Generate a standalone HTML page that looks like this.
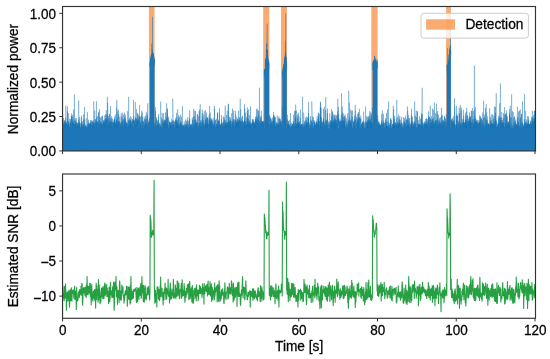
<!DOCTYPE html>
<html><head><meta charset="utf-8"><title>Detection</title>
<style>
html,body{margin:0;padding:0;background:#fff;}
svg{display:block;filter:blur(0.35px)}
text{font-family:"Liberation Sans",sans-serif;fill:#000;stroke:#000;stroke-width:0.25px}
</style></head><body>
<svg width="550" height="359" viewBox="0 0 550 359">
<rect width="550" height="359" fill="#fff"/>
<defs>
<clipPath id="c1"><rect x="62.55" y="6.5" width="472.95" height="144.45"/></clipPath>
<clipPath id="c2"><rect x="62.55" y="174.0" width="472.95" height="144.30"/></clipPath>
</defs>

<g clip-path="url(#c1)">
<rect x="148.9" y="6.5" width="5.60" height="144.45" fill="#f7781a" fill-opacity="0.62"/>
<rect x="263.2" y="6.5" width="6.10" height="144.45" fill="#f7781a" fill-opacity="0.62"/>
<rect x="281.0" y="6.5" width="5.90" height="144.45" fill="#f7781a" fill-opacity="0.62"/>
<rect x="371.3" y="6.5" width="6.30" height="144.45" fill="#f7781a" fill-opacity="0.62"/>
<rect x="446.1" y="6.5" width="4.90" height="144.45" fill="#f7781a" fill-opacity="0.62"/>
<polyline points="62.52,132.8 62.55,141.4 62.57,134.1 62.59,126.8 62.61,122.6 62.64,141.3 62.66,114.2 62.68,133.0 62.71,148.2 62.73,129.1 63.29,126.3 63.32,123.6 63.34,124.4 63.36,135.6 63.38,143.2 63.41,141.7 63.43,146.1 63.45,139.5 63.48,130.8 63.50,140.2 63.52,123.5 63.55,127.2 63.57,143.5 63.59,117.9 63.61,121.2 63.64,140.5 63.66,141.6 63.68,141.4 63.71,139.3 63.73,134.8 64.29,134.8 64.32,122.0 64.34,120.0 64.36,125.2 64.38,150.3 64.41,127.9 64.43,124.0 64.45,120.9 64.48,129.8 64.50,127.9 64.52,124.3 64.55,143.0 64.57,141.0 64.59,139.3 64.61,130.5 64.64,150.0 64.66,121.0 64.68,131.9 64.71,135.7 64.73,138.9 65.29,123.8 65.32,141.8 65.34,121.8 65.36,127.1 65.38,127.6 65.41,127.5 65.43,138.8 65.45,124.1 65.48,135.1 65.50,140.8 65.52,130.0 65.55,138.1 65.57,140.6 65.59,123.5 65.61,130.4 65.64,122.4 65.66,126.2 65.68,117.9 65.71,150.3 65.73,105.6 66.29,130.6 66.32,124.3 66.34,139.9 66.36,147.8 66.38,122.9 66.41,135.2 66.43,145.2 66.45,140.1 66.48,138.8 66.50,123.6 66.52,125.2 66.55,129.0 66.57,135.5 66.59,126.6 66.61,140.7 66.64,136.2 66.66,136.1 66.68,123.6 66.71,122.8 66.73,126.9 67.29,120.8 67.32,147.6 67.34,142.3 67.36,147.0 67.38,123.7 67.41,148.3 67.43,106.3 67.45,123.3 67.48,111.3 67.50,121.9 67.52,143.4 67.55,150.1 67.57,125.9 67.59,146.7 67.61,146.8 67.64,125.8 67.66,138.7 67.68,141.3 67.71,128.0 67.73,148.5 68.29,128.4 68.32,133.9 68.34,127.3 68.36,135.4 68.38,113.0 68.41,136.3 68.43,134.4 68.45,123.5 68.48,126.5 68.50,146.5 68.52,121.0 68.55,134.4 68.57,142.6 68.59,146.4 68.61,144.3 68.64,122.4 68.66,126.2 68.68,123.2 68.71,126.0 68.73,123.4 69.29,132.2 69.32,141.6 69.34,125.5 69.36,126.9 69.38,131.1 69.41,128.4 69.43,129.6 69.45,140.0 69.48,138.1 69.50,137.3 69.52,148.9 69.55,133.8 69.57,127.0 69.59,132.7 69.61,126.5 69.64,146.4 69.66,118.7 69.68,127.6 69.71,143.2 69.73,136.6 70.29,122.7 70.32,129.3 70.34,142.8 70.36,131.0 70.38,149.4 70.41,138.5 70.43,122.4 70.45,123.2 70.48,128.3 70.50,119.0 70.52,122.7 70.55,144.2 70.57,131.4 70.59,120.9 70.61,146.7 70.64,148.8 70.66,142.3 70.68,133.8 70.71,123.3 70.73,134.3 71.29,143.2 71.32,134.5 71.34,147.6 71.36,123.0 71.38,115.7 71.41,124.3 71.43,140.8 71.45,131.2 71.48,147.2 71.50,116.4 71.52,145.5 71.55,142.8 71.57,146.1 71.59,139.0 71.61,141.5 71.64,119.1 71.66,113.3 71.68,119.9 71.71,127.1 71.73,126.5 72.29,126.0 72.32,137.5 72.34,117.1 72.36,150.5 72.38,127.3 72.41,132.6 72.43,119.4 72.45,128.3 72.48,142.0 72.50,149.4 72.52,137.0 72.55,147.0 72.57,146.1 72.59,122.4 72.61,134.0 72.64,122.1 72.66,149.3 72.68,129.7 72.71,145.4 72.73,115.1 73.29,126.1 73.31,124.7 73.34,121.1 73.36,137.4 73.38,148.3 73.41,127.9 73.43,128.6 73.45,129.6 73.48,123.1 73.50,136.3 73.52,145.0 73.54,123.8 73.57,142.8 73.59,138.0 73.61,144.7 73.64,109.5 73.66,137.8 73.68,130.7 73.71,147.7 73.73,144.9 74.29,128.4 74.31,129.5 74.34,131.8 74.36,150.2 74.38,127.4 74.41,94.5 74.43,148.7 74.45,124.0 74.48,136.6 74.50,132.4 74.52,128.3 74.54,128.6 74.57,129.2 74.59,148.1 74.61,119.7 74.64,128.0 74.66,127.8 74.68,140.4 74.71,139.6 74.73,123.9 75.29,123.8 75.31,132.0 75.34,125.2 75.36,126.9 75.38,123.8 75.41,140.2 75.43,120.9 75.45,150.1 75.48,149.3 75.50,124.8 75.52,121.3 75.54,139.9 75.57,128.5 75.59,127.7 75.61,124.5 75.64,118.1 75.66,148.0 75.68,125.3 75.71,126.4 75.73,139.6 76.29,138.0 76.31,125.6 76.34,127.4 76.36,139.8 76.38,125.2 76.41,138.2 76.43,118.2 76.45,150.6 76.48,135.6 76.50,150.1 76.52,139.9 76.54,128.1 76.57,122.7 76.59,147.6 76.61,142.1 76.64,122.8 76.66,123.9 76.68,133.2 76.71,132.5 76.73,131.5 77.29,125.9 77.31,122.9 77.34,135.7 77.36,139.3 77.38,133.4 77.41,149.4 77.43,150.3 77.45,131.6 77.48,135.2 77.50,124.9 77.52,141.6 77.54,125.5 77.57,145.4 77.59,129.7 77.61,146.3 77.64,145.4 77.66,125.1 77.68,124.8 77.71,122.6 77.73,130.4 78.29,134.4 78.31,123.0 78.34,132.4 78.36,130.5 78.38,124.3 78.41,130.1 78.43,142.4 78.45,127.7 78.48,128.9 78.50,145.6 78.52,138.7 78.54,123.5 78.57,142.6 78.59,143.6 78.61,138.4 78.64,124.7 78.66,100.5 78.68,131.6 78.71,119.5 78.73,125.7 79.29,139.1 79.31,143.6 79.34,146.9 79.36,126.3 79.38,132.9 79.41,123.5 79.43,137.2 79.45,116.8 79.48,146.3 79.50,122.0 79.52,129.1 79.54,128.4 79.57,133.4 79.59,149.2 79.61,121.7 79.64,149.0 79.66,144.6 79.68,134.1 79.71,127.5 79.73,123.3 80.29,125.2 80.31,125.7 80.34,123.1 80.36,139.6 80.38,127.3 80.41,128.5 80.43,136.1 80.45,131.5 80.48,129.4 80.50,129.8 80.52,128.6 80.54,132.9 80.57,128.4 80.59,141.5 80.61,139.3 80.64,150.9 80.66,126.4 80.68,149.3 80.71,141.6 80.73,127.3 81.29,123.6 81.31,117.6 81.34,144.0 81.36,139.8 81.38,123.9 81.41,150.8 81.43,126.2 81.45,130.7 81.48,140.7 81.50,147.5 81.52,122.1 81.54,128.6 81.57,137.3 81.59,115.5 81.61,127.7 81.64,138.6 81.66,135.9 81.68,129.8 81.71,141.6 81.73,150.9 82.29,146.7 82.31,142.3 82.34,145.6 82.36,140.6 82.38,129.5 82.41,125.6 82.43,137.5 82.45,127.3 82.48,139.8 82.50,149.8 82.52,124.1 82.54,150.4 82.57,127.8 82.59,150.4 82.61,121.4 82.64,136.4 82.66,142.3 82.68,139.2 82.71,124.5 82.73,142.5 83.29,136.3 83.31,129.9 83.34,137.9 83.36,127.3 83.38,125.8 83.41,146.6 83.43,135.5 83.45,127.6 83.47,146.4 83.50,124.8 83.52,136.3 83.54,138.8 83.57,119.3 83.59,150.7 83.61,114.3 83.64,147.0 83.66,146.1 83.68,128.4 83.70,142.9 83.73,132.2 84.29,135.9 84.31,123.0 84.34,140.8 84.36,142.4 84.38,150.3 84.41,119.8 84.43,146.3 84.45,132.3 84.47,143.0 84.50,107.0 84.52,145.1 84.54,128.8 84.57,129.5 84.59,131.0 84.61,127.5 84.64,146.2 84.66,134.0 84.68,142.9 84.70,143.2 84.73,143.9 85.29,145.2 85.31,145.4 85.34,145.0 85.36,141.1 85.38,141.6 85.41,125.4 85.43,150.5 85.45,127.0 85.47,142.6 85.50,124.7 85.52,133.6 85.54,135.0 85.57,148.3 85.59,126.3 85.61,146.6 85.64,126.6 85.66,137.6 85.68,137.6 85.70,149.9 85.73,144.4 86.29,118.2 86.31,126.8 86.34,140.1 86.36,136.5 86.38,139.0 86.41,137.3 86.43,132.2 86.45,132.4 86.47,129.5 86.50,126.2 86.52,128.6 86.54,129.3 86.57,129.2 86.59,146.7 86.61,128.8 86.64,132.6 86.66,126.0 86.68,146.5 86.70,150.9 86.73,134.4 87.29,128.0 87.31,128.0 87.34,131.7 87.36,148.8 87.38,135.0 87.41,112.1 87.43,149.2 87.45,127.2 87.47,131.5 87.50,124.0 87.52,128.2 87.54,141.1 87.57,140.6 87.59,131.6 87.61,144.5 87.64,139.5 87.66,127.9 87.68,148.8 87.70,128.2 87.73,127.8 88.29,147.2 88.31,139.6 88.34,119.8 88.36,132.5 88.38,143.1 88.41,150.8 88.43,121.7 88.45,146.0 88.47,127.9 88.50,140.4 88.52,124.6 88.54,149.6 88.57,123.7 88.59,147.9 88.61,146.2 88.64,133.0 88.66,127.3 88.68,141.9 88.70,124.4 88.73,129.0 89.29,126.7 89.31,123.4 89.34,124.6 89.36,148.0 89.38,139.5 89.41,129.1 89.43,123.5 89.45,127.2 89.47,138.7 89.50,137.8 89.52,135.2 89.54,138.8 89.57,149.8 89.59,138.2 89.61,138.0 89.64,126.5 89.66,123.8 89.68,123.9 89.70,140.2 89.73,128.3 90.29,147.9 90.31,146.5 90.34,126.7 90.36,125.0 90.38,126.7 90.41,123.8 90.43,137.5 90.45,121.9 90.47,128.3 90.50,123.5 90.52,134.4 90.54,120.1 90.57,149.4 90.59,125.6 90.61,125.7 90.64,134.6 90.66,125.2 90.68,141.2 90.70,127.8 90.73,126.7 91.29,137.4 91.31,128.1 91.34,134.0 91.36,149.1 91.38,135.2 91.41,122.4 91.43,134.9 91.45,140.8 91.47,145.4 91.50,124.4 91.52,138.5 91.54,138.3 91.57,121.6 91.59,127.3 91.61,120.2 91.64,142.2 91.66,139.6 91.68,135.0 91.70,133.8 91.73,130.5 92.29,129.8 92.31,150.4 92.34,131.3 92.36,131.8 92.38,128.3 92.41,129.3 92.43,120.8 92.45,133.7 92.47,130.4 92.50,123.7 92.52,129.6 92.54,148.0 92.57,127.0 92.59,121.9 92.61,123.3 92.64,126.4 92.66,125.1 92.68,148.3 92.70,138.7 92.73,124.2 93.29,130.9 93.31,139.3 93.34,139.9 93.36,125.9 93.38,121.8 93.41,132.2 93.43,123.2 93.45,124.0 93.47,138.1 93.50,132.9 93.52,123.5 93.54,125.7 93.57,137.7 93.59,128.2 93.61,139.6 93.63,127.9 93.66,140.0 93.68,119.9 93.70,133.5 93.73,101.4 94.29,148.2 94.31,143.5 94.34,122.4 94.36,128.0 94.38,148.8 94.40,136.4 94.43,125.5 94.45,142.0 94.47,131.2 94.50,143.4 94.52,122.9 94.54,130.7 94.57,144.1 94.59,130.1 94.61,125.3 94.63,131.1 94.66,144.5 94.68,126.1 94.70,110.5 94.73,139.2 95.29,149.3 95.31,128.1 95.34,137.2 95.36,126.4 95.38,135.9 95.40,140.7 95.43,141.4 95.45,127.5 95.47,125.8 95.50,119.7 95.52,125.8 95.54,122.8 95.57,126.2 95.59,119.1 95.61,139.9 95.63,123.0 95.66,133.4 95.68,146.5 95.70,128.4 95.73,132.3 96.29,134.9 96.31,121.3 96.34,126.4 96.36,142.1 96.38,129.2 96.40,137.9 96.43,101.2 96.45,139.5 96.47,139.1 96.50,143.3 96.52,117.2 96.54,139.1 96.57,123.9 96.59,148.9 96.61,121.3 96.63,125.6 96.66,137.3 96.68,143.3 96.70,136.1 96.73,137.4 97.29,127.9 97.31,121.2 97.34,126.1 97.36,124.9 97.38,115.9 97.40,128.6 97.43,134.3 97.45,150.8 97.47,148.2 97.50,122.2 97.52,139.8 97.54,138.7 97.57,140.2 97.59,134.4 97.61,129.8 97.63,126.8 97.66,149.5 97.68,136.8 97.70,127.7 97.73,144.4 98.29,142.1 98.31,123.4 98.34,129.3 98.36,149.4 98.38,124.3 98.40,126.0 98.43,125.7 98.45,146.3 98.47,139.5 98.50,134.0 98.52,121.6 98.54,129.3 98.57,128.8 98.59,112.6 98.61,126.1 98.63,123.9 98.66,129.8 98.68,133.2 98.70,111.6 98.73,122.5 99.29,126.2 99.31,140.7 99.34,144.5 99.36,116.7 99.38,122.2 99.40,131.2 99.43,133.9 99.45,134.7 99.47,125.4 99.50,124.9 99.52,126.4 99.54,133.3 99.57,130.0 99.59,109.1 99.61,138.4 99.63,127.5 99.66,145.1 99.68,120.1 99.70,150.7 99.73,126.7 100.29,145.4 100.31,135.9 100.34,142.5 100.36,126.4 100.38,125.1 100.40,124.8 100.43,121.4 100.45,122.5 100.47,125.6 100.50,146.4 100.52,123.0 100.54,147.9 100.57,126.3 100.59,117.4 100.61,124.8 100.63,150.2 100.66,127.4 100.68,122.1 100.70,137.8 100.73,125.6 101.29,135.8 101.31,129.0 101.34,123.7 101.36,132.9 101.38,124.2 101.40,124.7 101.43,126.3 101.45,147.3 101.47,146.2 101.50,122.5 101.52,128.6 101.54,144.2 101.57,124.8 101.59,138.5 101.61,132.4 101.63,127.0 101.66,136.2 101.68,117.0 101.70,118.8 101.73,127.2 102.29,150.0 102.31,115.9 102.34,140.0 102.36,138.6 102.38,115.6 102.40,138.5 102.43,148.4 102.45,128.7 102.47,139.4 102.50,135.4 102.52,133.2 102.54,124.5 102.57,145.1 102.59,124.1 102.61,150.3 102.63,136.7 102.66,129.9 102.68,126.0 102.70,130.3 102.73,130.6 103.29,146.2 103.31,126.2 103.34,130.5 103.36,122.3 103.38,123.2 103.40,149.2 103.43,144.3 103.45,131.8 103.47,126.8 103.50,122.4 103.52,127.4 103.54,120.0 103.57,148.8 103.59,132.8 103.61,132.5 103.63,129.9 103.66,122.2 103.68,122.2 103.70,126.9 103.73,121.2 104.29,131.1 104.31,121.8 104.33,126.5 104.36,134.3 104.38,123.4 104.40,119.5 104.43,147.1 104.45,148.2 104.47,124.6 104.50,149.1 104.52,120.9 104.54,126.8 104.56,143.7 104.59,126.4 104.61,126.4 104.63,143.7 104.66,127.9 104.68,123.3 104.70,131.1 104.73,115.3 105.29,148.8 105.31,123.9 105.33,121.3 105.36,125.7 105.38,140.0 105.40,124.5 105.43,132.3 105.45,141.8 105.47,138.8 105.50,118.7 105.52,130.6 105.54,129.7 105.56,147.0 105.59,125.3 105.61,125.2 105.63,118.6 105.66,119.6 105.68,131.9 105.70,114.1 105.73,123.9 106.29,122.5 106.31,120.7 106.33,110.2 106.36,140.5 106.38,123.2 106.40,127.0 106.43,150.4 106.45,114.6 106.47,125.9 106.50,143.9 106.52,130.3 106.54,146.7 106.56,119.1 106.59,123.6 106.61,119.7 106.63,122.7 106.66,119.7 106.68,122.0 106.70,147.1 106.73,120.6 107.29,125.4 107.31,128.8 107.33,124.7 107.36,127.4 107.38,96.7 107.40,140.9 107.43,129.8 107.45,144.4 107.47,149.5 107.50,115.3 107.52,124.3 107.54,129.7 107.56,143.5 107.59,129.2 107.61,135.4 107.63,131.6 107.66,102.7 107.68,143.5 107.70,120.1 107.73,125.8 108.29,134.4 108.31,132.1 108.33,135.2 108.36,129.6 108.38,124.3 108.40,116.2 108.43,130.0 108.45,137.8 108.47,123.9 108.50,129.1 108.52,126.7 108.54,127.3 108.56,134.5 108.59,117.9 108.61,129.9 108.63,123.1 108.66,147.6 108.68,144.0 108.70,147.5 108.73,150.4 109.29,123.1 109.31,121.4 109.33,135.8 109.36,128.5 109.38,119.7 109.40,114.0 109.43,136.4 109.45,128.5 109.47,113.9 109.50,132.0 109.52,136.7 109.54,124.6 109.56,141.7 109.59,146.4 109.61,127.5 109.63,127.4 109.66,121.5 109.68,128.9 109.70,129.3 109.73,130.2 110.29,143.3 110.31,123.1 110.33,133.7 110.36,118.3 110.38,138.6 110.40,126.9 110.43,132.0 110.45,137.9 110.47,150.7 110.50,121.3 110.52,125.2 110.54,144.6 110.56,106.0 110.59,126.7 110.61,120.8 110.63,144.7 110.66,122.9 110.68,143.4 110.70,123.2 110.73,143.0 111.29,121.9 111.31,150.5 111.33,139.2 111.36,129.4 111.38,136.8 111.40,146.1 111.43,123.7 111.45,128.7 111.47,125.4 111.50,130.9 111.52,122.1 111.54,130.7 111.56,148.3 111.59,116.2 111.61,134.8 111.63,143.4 111.66,125.6 111.68,123.3 111.70,118.5 111.73,126.6 112.29,132.7 112.31,118.4 112.33,142.4 112.36,145.3 112.38,128.8 112.40,131.4 112.43,136.1 112.45,126.3 112.47,140.0 112.50,124.2 112.52,138.0 112.54,135.9 112.56,141.2 112.59,141.6 112.61,126.2 112.63,144.9 112.66,122.5 112.68,124.8 112.70,122.1 112.73,136.7 113.29,144.4 113.31,124.2 113.33,120.6 113.36,124.4 113.38,124.9 113.40,126.9 113.43,141.4 113.45,125.9 113.47,122.4 113.50,123.8 113.52,144.4 113.54,123.2 113.56,125.5 113.59,130.2 113.61,139.1 113.63,126.9 113.66,147.5 113.68,123.1 113.70,148.2 113.72,125.5 114.29,133.4 114.31,129.7 114.33,145.8 114.36,119.1 114.38,123.2 114.40,138.0 114.43,120.2 114.45,127.8 114.47,139.9 114.49,119.0 114.52,126.0 114.54,124.0 114.56,116.5 114.59,141.0 114.61,135.1 114.63,122.2 114.66,119.5 114.68,132.7 114.70,132.4 114.72,145.9 115.29,127.0 115.31,137.3 115.33,147.4 115.36,121.9 115.38,146.7 115.40,123.9 115.43,143.1 115.45,114.4 115.47,138.0 115.49,139.8 115.52,149.9 115.54,127.0 115.56,139.8 115.59,147.1 115.61,128.2 115.63,122.3 115.66,147.1 115.68,124.0 115.70,131.4 115.72,136.3 116.29,145.4 116.31,133.5 116.33,128.7 116.36,131.6 116.38,123.7 116.40,147.6 116.43,125.7 116.45,136.0 116.47,127.8 116.49,141.7 116.52,141.0 116.54,119.6 116.56,146.8 116.59,148.1 116.61,107.9 116.63,128.9 116.66,119.9 116.68,140.6 116.70,125.3 116.72,100.0 117.29,126.6 117.31,147.2 117.33,140.5 117.36,140.6 117.38,122.2 117.40,147.4 117.43,117.0 117.45,123.4 117.47,134.2 117.49,121.7 117.52,136.8 117.54,134.7 117.56,128.2 117.59,132.0 117.61,126.5 117.63,131.1 117.66,111.3 117.68,121.7 117.70,128.4 117.72,135.0 118.29,122.5 118.31,128.8 118.33,123.5 118.36,128.6 118.38,146.6 118.40,142.1 118.43,109.8 118.45,140.1 118.47,140.4 118.49,148.8 118.52,142.1 118.54,121.3 118.56,133.1 118.59,139.4 118.61,135.9 118.63,135.3 118.66,136.8 118.68,114.0 118.70,150.7 118.72,123.2 119.29,127.1 119.31,122.7 119.33,142.3 119.36,134.0 119.38,142.7 119.40,121.1 119.43,124.1 119.45,125.7 119.47,129.0 119.49,129.2 119.52,139.3 119.54,128.7 119.56,146.2 119.59,123.9 119.61,121.5 119.63,140.1 119.66,130.0 119.68,148.9 119.70,116.7 119.72,139.4 120.29,126.7 120.31,141.5 120.33,142.1 120.36,141.1 120.38,122.5 120.40,127.8 120.43,137.3 120.45,130.0 120.47,149.8 120.49,147.7 120.52,135.4 120.54,138.7 120.56,134.6 120.59,126.5 120.61,123.6 120.63,131.8 120.66,125.5 120.68,132.3 120.70,143.7 120.72,146.0 121.29,113.2 121.31,136.8 121.33,116.7 121.36,149.7 121.38,137.4 121.40,122.5 121.43,122.9 121.45,136.9 121.47,139.9 121.49,123.8 121.52,131.5 121.54,125.9 121.56,125.3 121.59,149.4 121.61,150.5 121.63,129.7 121.66,126.0 121.68,131.8 121.70,150.1 121.72,134.5 122.29,118.2 122.31,137.6 122.33,147.7 122.36,126.1 122.38,128.1 122.40,141.5 122.43,126.4 122.45,137.3 122.47,120.7 122.49,123.6 122.52,121.4 122.54,137.1 122.56,124.6 122.59,146.3 122.61,150.7 122.63,149.5 122.66,125.9 122.68,112.6 122.70,125.9 122.72,145.4 123.29,143.8 123.31,114.9 123.33,146.2 123.36,143.1 123.38,148.6 123.40,141.9 123.43,143.3 123.45,144.1 123.47,126.8 123.49,119.3 123.52,142.2 123.54,127.5 123.56,127.0 123.59,131.1 123.61,132.8 123.63,148.0 123.66,148.7 123.68,123.9 123.70,138.0 123.72,148.9 124.29,121.8 124.31,123.4 124.33,125.7 124.36,132.2 124.38,124.2 124.40,119.8 124.42,142.4 124.45,128.3 124.47,142.5 124.49,138.5 124.52,120.8 124.54,112.6 124.56,149.5 124.59,119.3 124.61,147.0 124.63,146.8 124.65,129.2 124.68,128.0 124.70,117.0 124.72,126.9 125.29,136.2 125.31,127.3 125.33,136.4 125.36,114.6 125.38,133.3 125.40,127.4 125.42,124.0 125.45,140.7 125.47,129.3 125.49,145.5 125.52,129.8 125.54,123.9 125.56,118.3 125.59,150.5 125.61,137.3 125.63,120.8 125.65,136.6 125.68,126.7 125.70,133.3 125.72,146.7 126.29,143.0 126.31,129.5 126.33,146.4 126.36,121.4 126.38,144.0 126.40,137.5 126.42,126.7 126.45,124.2 126.47,127.9 126.49,123.3 126.52,127.4 126.54,125.8 126.56,143.2 126.59,124.0 126.61,146.9 126.63,148.1 126.65,123.0 126.68,127.8 126.70,145.0 126.72,123.0 127.29,133.5 127.31,149.3 127.33,140.9 127.36,137.2 127.38,123.1 127.40,133.7 127.42,136.1 127.45,141.0 127.47,147.1 127.49,141.2 127.52,127.0 127.54,140.0 127.56,127.0 127.59,143.5 127.61,147.6 127.63,121.6 127.65,110.9 127.68,130.1 127.70,146.4 127.72,142.0 128.29,126.4 128.31,140.1 128.33,119.8 128.36,147.0 128.38,132.5 128.40,147.2 128.42,131.3 128.45,124.9 128.47,150.3 128.49,150.4 128.52,138.7 128.54,121.6 128.56,120.4 128.59,138.3 128.61,140.1 128.63,129.2 128.65,133.2 128.68,96.8 128.70,131.4 128.72,126.9 129.29,132.5 129.31,121.4 129.33,122.8 129.36,131.5 129.38,131.8 129.40,129.8 129.42,133.0 129.45,146.6 129.47,124.6 129.49,138.7 129.52,125.5 129.54,134.2 129.56,138.8 129.59,138.9 129.61,118.2 129.63,143.3 129.65,123.6 129.68,121.5 129.70,119.7 129.72,146.9 130.29,129.4 130.31,125.7 130.33,116.2 130.36,142.2 130.38,125.4 130.40,150.3 130.42,123.7 130.45,121.5 130.47,142.4 130.49,119.3 130.52,124.2 130.54,124.2 130.56,127.0 130.59,150.5 130.61,120.4 130.63,127.3 130.65,123.3 130.68,146.4 130.70,121.6 130.72,122.4 131.29,150.1 131.31,127.1 131.33,123.2 131.36,124.0 131.38,144.7 131.40,127.6 131.42,144.7 131.45,142.5 131.47,127.4 131.49,144.8 131.52,131.2 131.54,122.4 131.56,121.2 131.59,130.8 131.61,141.4 131.63,125.9 131.65,125.0 131.68,117.2 131.70,148.0 131.72,131.5 132.29,147.2 132.31,125.4 132.33,142.1 132.36,146.1 132.38,129.3 132.40,121.3 132.42,124.6 132.45,144.2 132.47,123.7 132.49,119.0 132.52,137.7 132.54,123.3 132.56,134.7 132.59,144.6 132.61,137.2 132.63,133.6 132.65,127.2 132.68,120.2 132.70,140.5 132.72,142.6 133.29,142.5 133.31,137.4 133.33,143.3 133.36,126.7 133.38,141.1 133.40,135.5 133.42,125.5 133.45,120.8 133.47,123.6 133.49,100.0 133.52,124.2 133.54,120.2 133.56,133.4 133.59,135.0 133.61,147.5 133.63,134.6 133.65,126.0 133.68,145.7 133.70,116.2 133.72,126.6 134.29,130.4 134.31,119.7 134.33,129.2 134.36,144.3 134.38,127.8 134.40,135.6 134.42,133.2 134.45,120.4 134.47,133.3 134.49,121.0 134.52,123.0 134.54,124.9 134.56,134.8 134.58,121.3 134.61,125.6 134.63,147.6 134.65,123.7 134.68,136.7 134.70,127.3 134.72,130.9 135.29,125.5 135.31,123.9 135.33,102.1 135.35,115.7 135.38,126.6 135.40,123.5 135.42,140.0 135.45,127.1 135.47,129.1 135.49,140.2 135.52,123.5 135.54,130.3 135.56,119.9 135.58,117.6 135.61,144.5 135.63,124.1 135.65,123.0 135.68,117.9 135.70,147.4 135.72,138.8 136.29,118.8 136.31,131.3 136.33,125.6 136.35,134.0 136.38,143.4 136.40,139.0 136.42,132.3 136.45,133.2 136.47,127.9 136.49,147.3 136.52,118.8 136.54,133.0 136.56,124.7 136.58,108.9 136.61,125.1 136.63,120.0 136.65,134.8 136.68,144.1 136.70,127.7 136.72,139.0 137.29,125.8 137.31,122.3 137.33,135.5 137.35,120.9 137.38,120.2 137.40,126.9 137.42,117.8 137.45,121.8 137.47,137.9 137.49,134.8 137.52,136.9 137.54,130.6 137.56,113.1 137.58,125.5 137.61,120.4 137.63,123.2 137.65,134.6 137.68,147.4 137.70,149.6 137.72,113.7 138.29,123.1 138.31,129.1 138.33,132.7 138.35,147.9 138.38,120.6 138.40,126.6 138.42,129.9 138.45,134.9 138.47,121.8 138.49,121.5 138.52,118.4 138.54,122.2 138.56,136.3 138.58,132.8 138.61,128.5 138.63,115.3 138.65,125.5 138.68,143.6 138.70,149.6 138.72,119.7 139.29,120.5 139.31,134.6 139.33,143.4 139.35,133.6 139.38,125.2 139.40,134.5 139.42,134.7 139.45,131.3 139.47,147.1 139.49,105.1 139.52,124.6 139.54,115.8 139.56,121.1 139.58,120.5 139.61,125.1 139.63,123.6 139.65,121.0 139.68,146.6 139.70,119.2 139.72,117.0 140.29,138.4 140.31,146.9 140.33,123.2 140.35,125.4 140.38,138.8 140.40,124.4 140.42,144.5 140.45,127.3 140.47,122.6 140.49,116.5 140.52,130.8 140.54,122.0 140.56,132.0 140.58,130.1 140.61,145.1 140.63,138.2 140.65,136.2 140.68,149.8 140.70,145.0 140.72,124.9 141.29,131.2 141.31,125.7 141.33,144.8 141.35,129.3 141.38,121.7 141.40,125.0 141.42,125.4 141.45,139.7 141.47,139.0 141.49,148.0 141.52,130.6 141.54,141.2 141.56,145.7 141.58,125.1 141.61,125.5 141.63,115.4 141.65,146.9 141.68,126.2 141.70,110.4 141.72,124.5 142.29,125.9 142.31,147.0 142.33,112.3 142.35,122.8 142.38,132.5 142.40,142.2 142.42,136.9 142.45,142.7 142.47,126.5 142.49,129.0 142.52,138.7 142.54,139.9 142.56,124.8 142.58,120.8 142.61,124.1 142.63,121.2 142.65,117.0 142.68,125.7 142.70,128.6 142.72,122.0 143.29,126.7 143.31,120.9 143.33,120.8 143.35,131.7 143.38,127.8 143.40,122.7 143.42,132.8 143.45,145.5 143.47,140.1 143.49,132.3 143.52,145.5 143.54,140.4 143.56,147.9 143.58,140.5 143.61,137.9 143.63,126.0 143.65,146.8 143.68,122.3 143.70,122.0 143.72,123.1 144.29,122.2 144.31,116.8 144.33,136.9 144.35,147.5 144.38,139.3 144.40,125.8 144.42,134.7 144.45,133.8 144.47,119.0 144.49,122.3 144.52,126.0 144.54,140.8 144.56,124.2 144.58,146.9 144.61,124.9 144.63,128.1 144.65,138.2 144.68,139.6 144.70,126.2 144.72,150.1 145.28,133.2 145.31,132.6 145.33,120.3 145.35,134.2 145.38,140.3 145.40,125.9 145.42,121.8 145.45,140.2 145.47,131.8 145.49,127.3 145.51,124.4 145.54,124.5 145.56,129.3 145.58,127.0 145.61,115.8 145.63,137.2 145.65,127.2 145.68,118.7 145.70,136.1 145.72,124.9 146.28,131.5 146.31,125.4 146.33,111.8 146.35,143.1 146.38,146.9 146.40,126.1 146.42,126.1 146.45,126.3 146.47,123.6 146.49,133.6 146.51,136.7 146.54,143.1 146.56,131.5 146.58,118.8 146.61,121.5 146.63,133.6 146.65,150.2 146.68,125.9 146.70,139.3 146.72,134.7 147.28,114.1 147.31,125.3 147.33,123.4 147.35,130.1 147.38,125.9 147.40,116.3 147.42,127.1 147.45,134.7 147.47,123.7 147.49,145.5 147.51,125.7 147.54,147.5 147.56,128.0 147.58,128.8 147.61,125.9 147.63,131.3 147.65,141.2 147.68,122.3 147.70,103.3 147.72,141.5 148.28,133.4 148.31,136.2 148.33,144.9 148.35,139.8 148.38,128.6 148.40,140.7 148.42,150.5 148.45,127.8 148.47,122.3 148.49,124.1 148.51,122.7 148.54,124.5 148.56,148.6 148.58,120.5 148.61,123.6 148.63,147.5 148.65,122.4 148.68,127.1 148.70,127.5 148.72,136.1 149.28,142.6 149.31,136.0 149.33,144.4 149.35,124.5 149.38,133.0 149.40,125.1 149.42,124.9 149.45,139.7 149.47,118.5 149.49,125.9 149.51,129.7 149.54,133.6 149.56,121.9 149.58,140.1 149.61,124.4 149.63,128.9 149.65,118.2 149.68,143.6 149.70,61.8 149.72,65.2 150.28,66.3 150.31,64.6 150.33,67.6 150.35,65.3 150.38,64.8 150.40,59.4 150.42,58.9 150.45,59.6 150.47,62.1 150.49,66.3 150.51,59.7 150.54,61.5 150.56,58.1 150.58,61.3 150.61,65.6 150.63,60.5 150.65,64.4 150.68,56.2 150.70,64.8 150.72,60.5 151.28,63.5 151.31,58.8 151.33,64.0 151.35,54.0 151.38,57.3 151.40,55.1 151.42,59.8 151.45,60.1 151.47,59.2 151.49,63.1 151.51,55.8 151.54,57.3 151.56,56.3 151.58,59.5 151.61,62.0 151.63,55.3 151.65,53.3 151.68,43.6 151.70,57.6 151.72,59.0 152.28,59.1 152.31,53.1 152.33,55.1 152.35,49.8 152.38,53.6 152.40,58.1 152.42,56.8 152.45,51.9 152.47,16.8 152.49,51.8 152.51,52.6 152.54,51.4 152.56,53.7 152.58,55.1 152.61,55.2 152.63,58.1 152.65,59.1 152.68,52.3 152.70,54.3 152.72,55.6 153.28,53.5 153.31,61.3 153.33,56.1 153.35,53.7 153.38,56.8 153.40,53.8 153.42,62.1 153.45,53.5 153.47,60.7 153.49,56.6 153.51,54.1 153.54,58.6 153.56,61.7 153.58,54.6 153.61,62.4 153.63,57.8 153.65,59.4 153.68,60.4 153.70,57.9 153.72,56.6 154.28,56.5 154.31,58.6 154.33,58.4 154.35,66.7 154.38,63.4 154.40,61.7 154.42,62.8 154.45,58.4 154.47,58.8 154.49,63.5 154.51,59.3 154.54,139.9 154.56,125.9 154.58,130.4 154.61,143.8 154.63,123.1 154.65,138.6 154.68,141.0 154.70,134.2 154.72,134.7 155.28,123.2 155.31,142.0 155.33,145.0 155.35,128.2 155.38,136.9 155.40,130.1 155.42,142.0 155.44,107.2 155.47,139.8 155.49,145.4 155.51,111.2 155.54,131.1 155.56,149.7 155.58,126.8 155.61,142.4 155.63,124.8 155.65,148.9 155.67,141.1 155.70,137.5 155.72,120.9 156.28,148.5 156.31,136.0 156.33,145.0 156.35,127.3 156.38,146.2 156.40,143.4 156.42,128.5 156.44,127.2 156.47,125.1 156.49,118.7 156.51,124.0 156.54,123.9 156.56,117.2 156.58,130.2 156.61,125.0 156.63,131.2 156.65,124.8 156.67,125.2 156.70,144.2 156.72,150.3 157.28,148.8 157.31,123.5 157.33,140.8 157.35,150.4 157.38,124.4 157.40,135.5 157.42,137.5 157.44,121.3 157.47,141.7 157.49,147.6 157.51,124.2 157.54,129.5 157.56,142.7 157.58,145.4 157.61,128.9 157.63,120.1 157.65,134.1 157.67,138.8 157.70,143.1 157.72,132.8 158.28,135.2 158.31,122.7 158.33,131.1 158.35,129.0 158.38,137.9 158.40,132.4 158.42,130.4 158.44,146.3 158.47,116.5 158.49,136.8 158.51,131.9 158.54,133.0 158.56,127.7 158.58,134.3 158.61,140.6 158.63,114.1 158.65,128.2 158.67,131.5 158.70,139.9 158.72,125.1 159.28,144.3 159.31,125.6 159.33,122.6 159.35,141.0 159.38,132.4 159.40,149.2 159.42,150.7 159.44,126.5 159.47,149.5 159.49,148.0 159.51,124.1 159.54,145.7 159.56,147.9 159.58,150.5 159.61,144.9 159.63,123.9 159.65,126.9 159.67,137.3 159.70,128.3 159.72,134.2 160.28,140.3 160.31,125.7 160.33,130.0 160.35,150.0 160.38,127.1 160.40,127.1 160.42,131.1 160.44,149.9 160.47,137.4 160.49,146.3 160.51,125.4 160.54,134.7 160.56,127.2 160.58,134.1 160.61,124.7 160.63,124.4 160.65,125.3 160.67,101.6 160.70,132.5 160.72,144.3 161.28,147.4 161.31,133.7 161.33,135.4 161.35,140.7 161.38,141.2 161.40,139.6 161.42,129.3 161.44,124.6 161.47,148.1 161.49,137.5 161.51,131.5 161.54,148.6 161.56,134.1 161.58,127.0 161.61,132.4 161.63,117.5 161.65,124.5 161.67,122.7 161.70,122.8 161.72,145.3 162.28,112.9 162.31,127.5 162.33,143.1 162.35,141.2 162.38,128.5 162.40,126.1 162.42,123.6 162.44,130.3 162.47,124.4 162.49,119.1 162.51,125.7 162.54,129.8 162.56,142.6 162.58,130.8 162.61,139.7 162.63,137.3 162.65,135.9 162.67,134.2 162.70,122.8 162.72,120.1 163.28,122.4 163.31,143.3 163.33,142.5 163.35,148.1 163.38,121.1 163.40,131.1 163.42,124.5 163.44,140.6 163.47,129.1 163.49,144.9 163.51,136.6 163.54,128.2 163.56,135.0 163.58,126.5 163.61,130.5 163.63,121.9 163.65,113.1 163.67,125.0 163.70,129.6 163.72,125.9 164.28,138.7 164.31,127.3 164.33,119.6 164.35,146.8 164.38,122.0 164.40,136.6 164.42,123.6 164.44,127.6 164.47,126.9 164.49,136.0 164.51,120.5 164.54,143.6 164.56,146.8 164.58,143.0 164.61,122.0 164.63,127.6 164.65,123.7 164.67,124.4 164.70,133.1 164.72,120.5 165.28,143.7 165.31,132.7 165.33,120.6 165.35,120.4 165.38,142.6 165.40,132.6 165.42,124.8 165.44,137.0 165.47,123.5 165.49,125.8 165.51,119.9 165.54,129.4 165.56,112.3 165.58,123.9 165.60,145.8 165.63,133.3 165.65,140.7 165.67,146.2 165.70,147.1 165.72,122.3 166.28,145.3 166.31,117.0 166.33,124.3 166.35,135.4 166.37,118.6 166.40,121.4 166.42,131.5 166.44,144.0 166.47,124.6 166.49,124.0 166.51,126.8 166.54,143.2 166.56,148.1 166.58,138.8 166.60,103.4 166.63,148.4 166.65,143.7 166.67,125.8 166.70,130.2 166.72,139.1 167.28,143.8 167.31,123.3 167.33,133.6 167.35,150.9 167.37,109.5 167.40,134.0 167.42,108.3 167.44,132.4 167.47,139.8 167.49,113.6 167.51,146.1 167.54,145.8 167.56,124.3 167.58,130.3 167.60,134.5 167.63,127.2 167.65,128.6 167.67,146.6 167.70,141.3 167.72,133.0 168.28,118.4 168.31,122.3 168.33,137.5 168.35,139.9 168.37,147.9 168.40,129.3 168.42,146.1 168.44,134.4 168.47,137.1 168.49,125.3 168.51,133.0 168.54,133.3 168.56,140.4 168.58,126.4 168.60,120.9 168.63,116.6 168.65,127.0 168.67,138.6 168.70,149.2 168.72,133.7 169.28,144.5 169.31,120.8 169.33,148.2 169.35,149.9 169.37,144.2 169.40,148.0 169.42,122.0 169.44,123.3 169.47,147.1 169.49,141.7 169.51,126.0 169.54,126.8 169.56,143.0 169.58,122.5 169.60,144.8 169.63,127.1 169.65,146.8 169.67,124.7 169.70,137.0 169.72,138.6 170.28,142.0 170.31,146.5 170.33,123.7 170.35,133.0 170.37,122.0 170.40,148.6 170.42,142.2 170.44,146.2 170.47,134.4 170.49,138.7 170.51,130.2 170.54,123.6 170.56,135.7 170.58,136.2 170.60,127.4 170.63,124.7 170.65,149.1 170.67,150.7 170.70,122.2 170.72,136.3 171.28,126.4 171.31,133.1 171.33,131.3 171.35,128.4 171.37,127.6 171.40,118.7 171.42,119.4 171.44,131.0 171.47,138.4 171.49,135.3 171.51,127.8 171.54,142.9 171.56,122.8 171.58,128.7 171.60,128.8 171.63,122.2 171.65,134.9 171.67,145.7 171.70,138.2 171.72,135.4 172.28,132.5 172.31,136.3 172.33,125.3 172.35,132.8 172.37,133.3 172.40,126.3 172.42,136.1 172.44,125.7 172.47,127.1 172.49,125.5 172.51,148.3 172.54,125.2 172.56,124.8 172.58,120.2 172.60,127.6 172.63,134.3 172.65,121.0 172.67,140.3 172.70,132.9 172.72,98.7 173.28,122.1 173.31,148.5 173.33,139.9 173.35,143.8 173.37,124.3 173.40,140.0 173.42,128.8 173.44,124.7 173.47,133.6 173.49,131.1 173.51,132.0 173.54,123.1 173.56,120.6 173.58,149.6 173.60,134.7 173.63,134.2 173.65,128.1 173.67,133.9 173.70,145.3 173.72,142.5 174.28,124.7 174.31,126.1 174.33,124.4 174.35,122.0 174.37,122.5 174.40,136.4 174.42,121.2 174.44,144.8 174.47,139.6 174.49,128.1 174.51,141.7 174.54,127.4 174.56,149.3 174.58,149.3 174.60,146.3 174.63,140.8 174.65,130.5 174.67,133.9 174.70,144.1 174.72,133.4 175.28,126.4 175.31,132.9 175.33,130.2 175.35,135.3 175.37,125.2 175.40,137.2 175.42,120.2 175.44,136.0 175.47,118.4 175.49,123.4 175.51,149.3 175.54,120.3 175.56,124.0 175.58,125.2 175.60,137.7 175.63,122.3 175.65,127.5 175.67,150.0 175.70,136.9 175.72,136.1 176.28,142.6 176.30,117.2 176.33,147.1 176.35,139.5 176.37,147.5 176.40,142.5 176.42,121.8 176.44,121.1 176.47,135.3 176.49,150.2 176.51,125.7 176.53,120.2 176.56,130.3 176.58,112.8 176.60,131.4 176.63,126.1 176.65,142.9 176.67,122.1 176.70,132.8 176.72,122.1 177.28,132.9 177.30,135.3 177.33,128.2 177.35,141.7 177.37,143.0 177.40,123.2 177.42,146.5 177.44,123.7 177.47,133.3 177.49,125.1 177.51,136.2 177.53,119.9 177.56,129.7 177.58,127.5 177.60,125.4 177.63,137.4 177.65,109.2 177.67,127.0 177.70,122.1 177.72,150.9 178.28,125.0 178.30,146.6 178.33,128.8 178.35,125.3 178.37,150.0 178.40,144.6 178.42,138.4 178.44,138.9 178.47,137.7 178.49,125.6 178.51,115.3 178.53,142.9 178.56,123.4 178.58,118.0 178.60,131.0 178.63,141.4 178.65,125.6 178.67,124.3 178.70,145.8 178.72,142.0 179.28,127.8 179.30,142.6 179.33,147.0 179.35,138.5 179.37,139.5 179.40,150.6 179.42,125.8 179.44,144.5 179.47,127.3 179.49,148.4 179.51,122.3 179.53,116.7 179.56,143.6 179.58,123.2 179.60,147.3 179.63,149.5 179.65,142.9 179.67,150.1 179.70,149.5 179.72,135.3 180.28,146.1 180.30,134.4 180.33,114.7 180.35,123.5 180.37,127.9 180.40,125.6 180.42,129.0 180.44,142.0 180.47,121.3 180.49,126.1 180.51,138.7 180.53,123.4 180.56,128.6 180.58,133.0 180.60,148.7 180.63,150.4 180.65,125.0 180.67,126.3 180.70,143.4 180.72,130.5 181.28,121.3 181.30,143.2 181.33,123.4 181.35,142.2 181.37,127.0 181.40,124.5 181.42,116.6 181.44,125.9 181.47,137.9 181.49,150.9 181.51,138.3 181.53,136.9 181.56,124.7 181.58,124.4 181.60,131.5 181.63,137.2 181.65,136.7 181.67,148.9 181.70,141.5 181.72,146.5 182.28,125.7 182.30,144.4 182.33,127.5 182.35,149.4 182.37,142.7 182.40,126.0 182.42,105.8 182.44,147.8 182.47,144.5 182.49,150.2 182.51,124.9 182.53,124.7 182.56,130.2 182.58,142.2 182.60,143.9 182.63,125.8 182.65,136.3 182.67,135.0 182.70,136.5 182.72,144.2 183.28,126.9 183.30,129.2 183.33,139.4 183.35,141.8 183.37,134.9 183.40,129.0 183.42,125.8 183.44,127.3 183.47,142.6 183.49,131.4 183.51,125.6 183.53,142.2 183.56,126.6 183.58,146.3 183.60,132.5 183.63,127.3 183.65,128.5 183.67,124.6 183.70,128.1 183.72,149.5 184.28,121.6 184.30,129.9 184.33,126.0 184.35,130.0 184.37,140.5 184.40,129.2 184.42,124.0 184.44,144.2 184.47,148.6 184.49,141.4 184.51,135.7 184.53,128.9 184.56,146.6 184.58,136.4 184.60,144.4 184.63,126.8 184.65,139.5 184.67,134.2 184.70,140.7 184.72,137.0 185.28,124.9 185.30,143.6 185.33,138.6 185.35,133.8 185.37,132.3 185.40,128.4 185.42,130.9 185.44,144.9 185.47,148.8 185.49,125.9 185.51,150.4 185.53,127.4 185.56,147.7 185.58,135.8 185.60,124.0 185.63,147.0 185.65,134.8 185.67,119.4 185.70,149.8 185.72,134.4 186.28,129.0 186.30,120.8 186.33,142.4 186.35,128.7 186.37,147.6 186.40,126.6 186.42,138.4 186.44,125.7 186.46,135.0 186.49,149.7 186.51,142.2 186.53,126.4 186.56,122.3 186.58,148.9 186.60,130.8 186.63,141.9 186.65,141.1 186.67,138.3 186.69,133.7 186.72,128.7 187.28,126.9 187.30,131.1 187.33,129.4 187.35,125.8 187.37,142.4 187.40,117.5 187.42,127.8 187.44,124.0 187.46,142.0 187.49,133.3 187.51,135.4 187.53,136.6 187.56,134.0 187.58,127.4 187.60,129.5 187.63,131.3 187.65,149.8 187.67,129.7 187.69,120.1 187.72,138.9 188.28,145.4 188.30,131.5 188.33,150.5 188.35,142.5 188.37,141.0 188.40,127.8 188.42,149.3 188.44,143.9 188.46,128.2 188.49,142.9 188.51,124.0 188.53,148.8 188.56,134.7 188.58,125.1 188.60,143.5 188.63,141.1 188.65,133.9 188.67,121.2 188.69,122.0 188.72,131.6 189.28,145.5 189.30,135.0 189.33,144.6 189.35,117.4 189.37,130.8 189.40,131.3 189.42,140.4 189.44,127.5 189.46,149.0 189.49,128.1 189.51,132.8 189.53,136.4 189.56,134.1 189.58,129.3 189.60,110.4 189.63,128.9 189.65,140.0 189.67,125.2 189.69,119.1 189.72,129.3 190.28,130.5 190.30,143.4 190.33,134.5 190.35,148.8 190.37,131.3 190.40,143.8 190.42,148.0 190.44,124.8 190.46,142.0 190.49,127.2 190.51,148.2 190.53,125.4 190.56,138.7 190.58,125.8 190.60,128.9 190.63,125.0 190.65,137.4 190.67,145.8 190.69,149.0 190.72,124.2 191.28,128.9 191.30,132.8 191.33,136.4 191.35,137.7 191.37,130.4 191.40,148.6 191.42,123.6 191.44,139.6 191.46,124.6 191.49,149.8 191.51,132.3 191.53,132.8 191.56,142.5 191.58,138.3 191.60,125.8 191.63,135.0 191.65,137.0 191.67,136.0 191.69,145.2 191.72,135.3 192.28,134.9 192.30,117.6 192.33,125.1 192.35,140.5 192.37,129.1 192.40,128.0 192.42,123.8 192.44,124.1 192.46,120.2 192.49,121.5 192.51,139.2 192.53,128.0 192.56,142.2 192.58,137.8 192.60,131.3 192.63,150.2 192.65,134.3 192.67,135.2 192.69,119.7 192.72,125.9 193.28,141.6 193.30,146.4 193.33,137.4 193.35,127.1 193.37,116.6 193.40,134.4 193.42,128.1 193.44,147.6 193.46,138.7 193.49,124.4 193.51,134.8 193.53,125.0 193.56,128.8 193.58,125.1 193.60,145.1 193.63,133.0 193.65,139.1 193.67,108.8 193.69,116.1 193.72,129.1 194.28,149.3 194.30,132.8 194.33,150.2 194.35,133.0 194.37,138.9 194.40,119.8 194.42,128.5 194.44,150.8 194.46,126.5 194.49,147.7 194.51,148.2 194.53,128.8 194.56,116.0 194.58,125.8 194.60,124.8 194.63,127.4 194.65,136.8 194.67,134.1 194.69,143.0 194.72,110.8 195.28,124.6 195.30,136.8 195.33,119.0 195.35,138.6 195.37,132.1 195.40,145.7 195.42,128.5 195.44,128.4 195.46,148.2 195.49,141.9 195.51,125.8 195.53,111.0 195.56,115.7 195.58,132.5 195.60,128.7 195.63,121.3 195.65,145.3 195.67,132.9 195.69,149.0 195.72,124.1 196.28,123.2 196.30,128.8 196.33,120.4 196.35,131.9 196.37,141.1 196.39,123.8 196.42,132.6 196.44,140.6 196.46,139.3 196.49,125.2 196.51,122.6 196.53,135.5 196.56,147.2 196.58,150.4 196.60,142.3 196.62,148.0 196.65,123.7 196.67,145.9 196.69,123.0 196.72,147.2 197.28,114.4 197.30,114.4 197.33,123.3 197.35,123.3 197.37,123.9 197.39,148.3 197.42,122.3 197.44,121.9 197.46,132.0 197.49,137.1 197.51,143.1 197.53,131.1 197.56,150.7 197.58,130.6 197.60,133.1 197.62,114.2 197.65,122.8 197.67,140.5 197.69,128.0 197.72,130.0 198.28,123.4 198.30,124.2 198.33,143.2 198.35,147.8 198.37,148.7 198.39,126.2 198.42,134.6 198.44,144.2 198.46,125.7 198.49,145.0 198.51,132.9 198.53,131.4 198.56,142.3 198.58,143.2 198.60,139.4 198.62,141.9 198.65,131.2 198.67,116.1 198.69,139.0 198.72,145.0 199.28,110.9 199.30,150.8 199.33,129.6 199.35,143.3 199.37,127.7 199.39,129.7 199.42,130.9 199.44,126.4 199.46,141.3 199.49,123.8 199.51,124.8 199.53,122.4 199.56,126.7 199.58,126.9 199.60,123.6 199.62,145.8 199.65,134.6 199.67,109.5 199.69,120.9 199.72,120.2 200.28,104.2 200.30,120.0 200.33,149.5 200.35,122.1 200.37,125.9 200.39,125.7 200.42,150.3 200.44,120.2 200.46,138.1 200.49,133.2 200.51,127.9 200.53,126.7 200.56,136.3 200.58,129.9 200.60,122.4 200.62,121.9 200.65,149.1 200.67,134.3 200.69,135.0 200.72,134.6 201.28,139.3 201.30,147.9 201.33,143.1 201.35,145.4 201.37,129.2 201.39,133.3 201.42,125.0 201.44,122.7 201.46,130.2 201.49,126.8 201.51,137.8 201.53,149.6 201.56,134.0 201.58,120.2 201.60,142.7 201.62,136.1 201.65,124.0 201.67,141.0 201.69,138.0 201.72,121.5 202.28,109.7 202.30,122.2 202.33,147.3 202.35,130.4 202.37,115.3 202.39,113.0 202.42,143.8 202.44,125.9 202.46,131.3 202.49,130.2 202.51,137.9 202.53,147.3 202.56,141.8 202.58,121.3 202.60,124.0 202.62,139.4 202.65,144.3 202.67,117.1 202.69,149.2 202.72,123.3 203.28,127.2 203.30,126.4 203.33,124.2 203.35,126.4 203.37,120.4 203.39,129.2 203.42,137.1 203.44,139.2 203.46,148.6 203.49,139.0 203.51,127.0 203.53,132.5 203.56,127.0 203.58,146.8 203.60,130.0 203.62,123.0 203.65,146.3 203.67,147.9 203.69,114.6 203.72,133.4 204.28,111.3 204.30,125.1 204.33,146.7 204.35,130.7 204.37,144.9 204.39,124.4 204.42,123.9 204.44,149.0 204.46,136.8 204.49,125.9 204.51,150.5 204.53,148.4 204.56,137.6 204.58,134.0 204.60,139.4 204.62,131.9 204.65,147.1 204.67,132.6 204.69,140.7 204.72,131.3 205.28,121.0 205.30,147.8 205.33,138.6 205.35,123.8 205.37,148.8 205.39,120.3 205.42,125.1 205.44,127.5 205.46,110.1 205.49,124.7 205.51,124.8 205.53,147.1 205.56,123.6 205.58,121.8 205.60,142.9 205.62,138.3 205.65,117.4 205.67,127.8 205.69,138.1 205.72,124.1 206.28,123.5 206.30,145.4 206.33,144.0 206.35,125.0 206.37,128.8 206.39,150.3 206.42,118.2 206.44,125.3 206.46,123.5 206.49,141.8 206.51,112.6 206.53,124.6 206.55,125.4 206.58,131.6 206.60,135.3 206.62,119.3 206.65,137.8 206.67,147.4 206.69,123.8 206.72,145.2 207.28,124.2 207.30,128.3 207.32,117.5 207.35,138.0 207.37,144.3 207.39,129.7 207.42,132.3 207.44,133.7 207.46,117.8 207.49,127.6 207.51,125.8 207.53,145.7 207.55,141.7 207.58,122.3 207.60,127.1 207.62,131.7 207.65,117.5 207.67,144.5 207.69,129.0 207.72,124.8 208.28,141.4 208.30,124.0 208.32,127.4 208.35,126.9 208.37,119.5 208.39,120.7 208.42,126.1 208.44,139.5 208.46,124.3 208.49,133.5 208.51,148.7 208.53,136.8 208.55,137.3 208.58,147.1 208.60,147.1 208.62,150.3 208.65,142.6 208.67,136.4 208.69,127.4 208.72,123.3 209.28,114.5 209.30,123.8 209.32,149.3 209.35,139.2 209.37,123.0 209.39,147.0 209.42,117.3 209.44,132.3 209.46,149.4 209.49,150.8 209.51,126.7 209.53,135.8 209.55,120.9 209.58,105.9 209.60,142.9 209.62,124.8 209.65,122.7 209.67,130.3 209.69,118.5 209.72,142.2 210.28,133.0 210.30,112.6 210.32,140.1 210.35,139.9 210.37,142.1 210.39,135.1 210.42,150.2 210.44,121.0 210.46,132.6 210.49,136.0 210.51,125.5 210.53,124.7 210.55,125.7 210.58,134.4 210.60,148.6 210.62,120.6 210.65,134.8 210.67,139.3 210.69,134.8 210.72,118.0 211.28,139.1 211.30,130.9 211.32,120.5 211.35,132.7 211.37,123.6 211.39,138.1 211.42,119.4 211.44,128.7 211.46,124.4 211.49,139.2 211.51,143.2 211.53,123.6 211.55,122.2 211.58,131.5 211.60,118.7 211.62,123.4 211.65,124.8 211.67,146.8 211.69,126.8 211.72,121.1 212.28,133.7 212.30,138.6 212.32,128.8 212.35,149.9 212.37,125.2 212.39,119.9 212.42,144.3 212.44,130.2 212.46,137.9 212.49,146.2 212.51,122.4 212.53,135.2 212.55,139.9 212.58,138.1 212.60,147.1 212.62,122.2 212.65,150.3 212.67,127.7 212.69,130.6 212.72,136.0 213.28,129.2 213.30,139.8 213.32,118.4 213.35,144.9 213.37,124.2 213.39,128.4 213.42,127.8 213.44,149.8 213.46,138.5 213.49,133.5 213.51,126.2 213.53,127.9 213.55,130.2 213.58,124.4 213.60,142.5 213.62,125.4 213.65,126.1 213.67,144.9 213.69,145.6 213.72,130.0 214.28,123.2 214.30,135.8 214.32,126.3 214.35,127.0 214.37,126.8 214.39,105.8 214.42,139.0 214.44,130.4 214.46,134.3 214.49,121.3 214.51,128.5 214.53,139.0 214.55,124.0 214.58,133.7 214.60,136.1 214.62,108.8 214.65,124.5 214.67,134.2 214.69,143.5 214.72,135.2 215.28,147.3 215.30,150.0 215.32,139.8 215.35,133.9 215.37,126.0 215.39,120.3 215.42,123.4 215.44,146.0 215.46,131.1 215.49,140.5 215.51,126.5 215.53,136.1 215.55,127.3 215.58,128.4 215.60,131.6 215.62,127.5 215.65,119.8 215.67,133.2 215.69,136.4 215.72,144.8 216.28,125.8 216.30,147.0 216.32,138.2 216.35,126.6 216.37,137.8 216.39,137.6 216.42,125.9 216.44,118.7 216.46,142.1 216.49,128.3 216.51,147.0 216.53,128.5 216.55,130.3 216.58,135.9 216.60,124.4 216.62,135.6 216.65,126.0 216.67,150.4 216.69,123.7 216.71,139.1 217.28,139.1 217.30,149.3 217.32,146.1 217.35,123.3 217.37,147.5 217.39,137.2 217.42,126.4 217.44,113.0 217.46,125.8 217.48,131.5 217.51,112.3 217.53,118.4 217.55,114.3 217.58,136.9 217.60,123.8 217.62,143.7 217.65,132.1 217.67,127.8 217.69,138.7 217.71,132.7 218.28,138.0 218.30,123.6 218.32,120.4 218.35,147.4 218.37,126.3 218.39,127.1 218.42,141.4 218.44,125.7 218.46,121.0 218.48,145.0 218.51,144.0 218.53,121.2 218.55,124.5 218.58,149.7 218.60,123.3 218.62,133.8 218.65,138.4 218.67,143.8 218.69,135.0 218.71,119.5 219.28,123.4 219.30,140.4 219.32,149.3 219.35,128.4 219.37,133.0 219.39,132.9 219.42,138.6 219.44,108.3 219.46,110.9 219.48,127.6 219.51,121.2 219.53,112.7 219.55,136.5 219.58,126.5 219.60,121.8 219.62,138.4 219.65,128.2 219.67,144.5 219.69,149.7 219.71,136.5 220.28,125.7 220.30,144.6 220.32,125.7 220.35,125.3 220.37,134.3 220.39,126.3 220.42,127.1 220.44,144.1 220.46,124.8 220.48,128.2 220.51,142.3 220.53,128.3 220.55,123.8 220.58,130.7 220.60,127.3 220.62,127.5 220.65,148.5 220.67,127.0 220.69,145.0 220.71,135.4 221.28,141.4 221.30,124.8 221.32,127.0 221.35,131.5 221.37,148.2 221.39,124.3 221.42,124.4 221.44,125.9 221.46,122.6 221.48,123.6 221.51,150.6 221.53,133.0 221.55,118.5 221.58,127.6 221.60,115.1 221.62,127.0 221.65,127.7 221.67,147.4 221.69,123.9 221.71,127.2 222.28,144.6 222.30,146.5 222.32,141.2 222.35,130.5 222.37,125.5 222.39,127.8 222.42,122.8 222.44,140.0 222.46,134.6 222.48,147.4 222.51,138.9 222.53,146.0 222.55,146.0 222.58,123.5 222.60,124.1 222.62,123.8 222.65,144.0 222.67,142.2 222.69,134.7 222.71,148.6 223.28,145.0 223.30,126.0 223.32,129.0 223.35,127.1 223.37,142.8 223.39,121.1 223.42,150.5 223.44,131.2 223.46,128.1 223.48,150.8 223.51,142.4 223.53,116.5 223.55,134.8 223.58,125.6 223.60,129.5 223.62,130.7 223.65,129.7 223.67,122.3 223.69,137.5 223.71,128.9 224.28,117.4 224.30,128.0 224.32,126.9 224.35,124.7 224.37,127.7 224.39,145.6 224.42,143.6 224.44,136.0 224.46,136.6 224.48,132.2 224.51,148.1 224.53,142.4 224.55,119.6 224.58,136.6 224.60,126.1 224.62,123.2 224.65,149.0 224.67,139.4 224.69,130.8 224.71,126.6 225.28,105.6 225.30,131.8 225.32,134.5 225.35,141.1 225.37,120.2 225.39,121.1 225.42,146.0 225.44,126.0 225.46,133.0 225.48,126.1 225.51,126.6 225.53,142.8 225.55,122.6 225.58,136.5 225.60,121.7 225.62,148.0 225.65,133.4 225.67,124.0 225.69,129.8 225.71,129.7 226.28,128.3 226.30,149.5 226.32,132.2 226.35,126.2 226.37,145.3 226.39,115.2 226.42,118.8 226.44,148.5 226.46,126.2 226.48,123.3 226.51,132.5 226.53,130.2 226.55,149.4 226.58,146.1 226.60,123.0 226.62,122.4 226.65,139.9 226.67,126.8 226.69,126.4 226.71,130.8 227.28,110.8 227.30,140.2 227.32,149.9 227.35,125.4 227.37,124.8 227.39,133.9 227.41,122.3 227.44,128.7 227.46,147.2 227.48,127.1 227.51,131.7 227.53,128.6 227.55,125.6 227.58,126.8 227.60,141.2 227.62,131.5 227.64,122.2 227.67,136.1 227.69,128.0 227.71,122.8 228.28,135.2 228.30,103.7 228.32,122.1 228.35,125.4 228.37,144.1 228.39,134.4 228.41,124.0 228.44,120.3 228.46,121.6 228.48,104.3 228.51,143.1 228.53,142.6 228.55,127.3 228.58,122.1 228.60,122.3 228.62,124.5 228.64,150.9 228.67,115.2 228.69,149.1 228.71,122.2 229.28,146.6 229.30,135.2 229.32,122.3 229.35,138.7 229.37,141.6 229.39,136.5 229.41,143.4 229.44,126.1 229.46,120.8 229.48,143.2 229.51,136.5 229.53,121.0 229.55,117.0 229.58,125.6 229.60,133.2 229.62,120.8 229.64,133.4 229.67,137.8 229.69,127.7 229.71,127.5 230.28,128.9 230.30,143.9 230.32,117.7 230.35,133.3 230.37,123.5 230.39,148.4 230.41,123.7 230.44,127.4 230.46,121.9 230.48,137.4 230.51,149.3 230.53,147.9 230.55,135.6 230.58,120.9 230.60,134.7 230.62,125.4 230.64,119.3 230.67,142.1 230.69,140.3 230.71,131.6 231.28,132.3 231.30,132.9 231.32,141.9 231.35,142.6 231.37,126.2 231.39,135.2 231.41,121.3 231.44,148.7 231.46,134.8 231.48,134.5 231.51,132.6 231.53,145.1 231.55,142.8 231.58,145.1 231.60,124.0 231.62,140.4 231.64,135.7 231.67,140.0 231.69,118.2 231.71,113.2 232.28,129.8 232.30,136.9 232.32,131.9 232.35,123.2 232.37,127.9 232.39,131.8 232.41,115.9 232.44,108.5 232.46,145.8 232.48,142.7 232.51,149.8 232.53,123.6 232.55,141.2 232.58,120.9 232.60,140.3 232.62,143.2 232.64,123.0 232.67,141.9 232.69,146.0 232.71,131.2 233.28,118.9 233.30,141.5 233.32,150.5 233.35,140.2 233.37,122.0 233.39,121.6 233.41,142.1 233.44,126.8 233.46,119.8 233.48,110.4 233.51,146.6 233.53,134.0 233.55,140.9 233.58,132.1 233.60,119.8 233.62,136.1 233.64,127.9 233.67,142.8 233.69,150.0 233.71,122.9 234.28,122.6 234.30,146.5 234.32,126.1 234.35,132.7 234.37,146.2 234.39,136.6 234.41,148.2 234.44,130.3 234.46,141.6 234.48,143.9 234.51,125.6 234.53,126.3 234.55,129.4 234.58,133.9 234.60,136.4 234.62,123.9 234.64,119.3 234.67,129.0 234.69,131.4 234.71,121.4 235.28,150.8 235.30,110.8 235.32,125.0 235.35,128.9 235.37,120.7 235.39,146.1 235.41,133.3 235.44,126.2 235.46,143.7 235.48,124.3 235.51,125.1 235.53,120.1 235.55,143.8 235.58,140.7 235.60,150.8 235.62,114.2 235.64,119.3 235.67,130.5 235.69,144.5 235.71,135.5 236.28,125.5 236.30,147.4 236.32,148.6 236.35,150.5 236.37,120.8 236.39,139.1 236.41,123.1 236.44,124.8 236.46,140.8 236.48,133.5 236.51,123.8 236.53,125.8 236.55,122.5 236.58,140.5 236.60,138.6 236.62,122.1 236.64,137.1 236.67,147.4 236.69,116.7 236.71,141.8 237.28,123.6 237.30,121.2 237.32,130.7 237.35,119.4 237.37,121.4 237.39,127.0 237.41,122.0 237.44,119.5 237.46,139.1 237.48,121.5 237.51,123.7 237.53,143.4 237.55,130.3 237.57,137.7 237.60,125.6 237.62,149.9 237.64,147.0 237.67,123.1 237.69,135.4 237.71,118.6 238.28,148.0 238.30,123.5 238.32,125.7 238.34,121.9 238.37,138.1 238.39,123.7 238.41,127.5 238.44,122.1 238.46,125.4 238.48,125.1 238.51,138.4 238.53,110.7 238.55,140.0 238.57,126.1 238.60,131.6 238.62,138.3 238.64,120.5 238.67,130.7 238.69,122.0 238.71,124.6 239.28,117.3 239.30,150.7 239.32,130.6 239.34,126.4 239.37,119.8 239.39,146.9 239.41,124.5 239.44,121.4 239.46,117.9 239.48,120.6 239.51,125.7 239.53,145.7 239.55,120.4 239.57,125.4 239.60,137.3 239.62,126.6 239.64,125.9 239.67,134.5 239.69,126.7 239.71,147.0 240.28,98.7 240.30,125.2 240.32,121.6 240.34,123.6 240.37,131.8 240.39,121.4 240.41,126.2 240.44,139.4 240.46,132.9 240.48,121.7 240.51,142.3 240.53,142.3 240.55,126.0 240.57,124.7 240.60,138.1 240.62,120.5 240.64,121.9 240.67,109.2 240.69,135.1 240.71,132.5 241.28,142.9 241.30,136.1 241.32,121.9 241.34,144.8 241.37,134.1 241.39,141.3 241.41,128.7 241.44,133.4 241.46,149.1 241.48,122.6 241.51,124.5 241.53,118.5 241.55,135.6 241.57,141.8 241.60,143.2 241.62,122.7 241.64,124.1 241.67,145.9 241.69,121.6 241.71,122.4 242.28,116.8 242.30,134.2 242.32,130.6 242.34,115.8 242.37,121.0 242.39,121.4 242.41,140.3 242.44,139.1 242.46,121.4 242.48,143.0 242.51,126.5 242.53,127.0 242.55,131.6 242.57,127.5 242.60,140.2 242.62,124.5 242.64,120.7 242.67,140.2 242.69,146.4 242.71,144.2 243.28,141.6 243.30,123.1 243.32,141.1 243.34,123.3 243.37,147.0 243.39,142.4 243.41,149.5 243.44,144.3 243.46,121.6 243.48,122.9 243.51,135.4 243.53,129.4 243.55,126.5 243.57,124.1 243.60,145.8 243.62,134.4 243.64,145.5 243.67,121.4 243.69,128.5 243.71,145.1 244.28,149.8 244.30,128.5 244.32,142.8 244.34,146.0 244.37,140.2 244.39,121.9 244.41,131.0 244.44,141.7 244.46,140.1 244.48,127.0 244.51,104.1 244.53,135.6 244.55,150.4 244.57,118.6 244.60,129.6 244.62,120.7 244.64,134.2 244.67,123.9 244.69,108.1 244.71,137.1 245.28,125.5 245.30,124.6 245.32,121.2 245.34,121.5 245.37,125.1 245.39,123.2 245.41,142.6 245.44,127.0 245.46,128.2 245.48,149.2 245.51,150.8 245.53,112.5 245.55,137.0 245.57,122.3 245.60,127.0 245.62,135.1 245.64,147.4 245.67,122.8 245.69,131.2 245.71,140.7 246.28,143.1 246.30,125.5 246.32,126.6 246.34,126.7 246.37,121.2 246.39,134.3 246.41,141.4 246.44,126.2 246.46,147.2 246.48,140.9 246.51,150.0 246.53,124.6 246.55,143.8 246.57,117.0 246.60,137.4 246.62,126.7 246.64,124.5 246.67,149.1 246.69,140.8 246.71,139.8 247.28,150.1 247.30,118.7 247.32,146.1 247.34,149.9 247.37,107.3 247.39,138.9 247.41,136.1 247.44,122.4 247.46,110.6 247.48,126.1 247.51,123.1 247.53,125.5 247.55,127.0 247.57,150.9 247.60,137.8 247.62,131.0 247.64,113.6 247.67,117.5 247.69,149.9 247.71,122.5 248.27,137.3 248.30,125.6 248.32,143.5 248.34,147.6 248.37,118.7 248.39,120.4 248.41,130.9 248.44,123.7 248.46,121.7 248.48,123.2 248.50,125.7 248.53,143.8 248.55,123.9 248.57,123.0 248.60,131.5 248.62,130.2 248.64,109.3 248.67,145.2 248.69,126.6 248.71,130.9 249.27,115.1 249.30,120.3 249.32,119.8 249.34,130.1 249.37,121.8 249.39,150.9 249.41,130.7 249.44,121.4 249.46,126.5 249.48,127.8 249.50,136.4 249.53,150.9 249.55,120.7 249.57,138.9 249.60,131.4 249.62,124.6 249.64,131.5 249.67,125.0 249.69,130.6 249.71,127.1 250.27,139.2 250.30,124.9 250.32,126.3 250.34,148.6 250.37,143.1 250.39,122.8 250.41,144.1 250.44,136.7 250.46,124.9 250.48,144.8 250.50,106.2 250.53,138.2 250.55,124.7 250.57,127.2 250.60,143.9 250.62,140.3 250.64,122.0 250.67,136.3 250.69,132.3 250.71,126.5 251.27,124.4 251.30,150.0 251.32,123.1 251.34,124.8 251.37,140.7 251.39,143.5 251.41,136.6 251.44,134.6 251.46,134.7 251.48,126.1 251.50,147.4 251.53,147.6 251.55,124.0 251.57,131.3 251.60,123.6 251.62,143.9 251.64,135.1 251.67,150.6 251.69,137.4 251.71,145.7 252.27,120.7 252.30,119.5 252.32,127.3 252.34,135.8 252.37,126.6 252.39,119.0 252.41,127.1 252.44,149.1 252.46,128.1 252.48,130.9 252.50,135.3 252.53,136.8 252.55,140.2 252.57,132.9 252.60,124.2 252.62,121.8 252.64,126.5 252.67,122.2 252.69,125.8 252.71,122.4 253.27,141.0 253.30,120.6 253.32,136.5 253.34,142.0 253.37,119.4 253.39,127.7 253.41,126.2 253.44,122.8 253.46,150.6 253.48,122.4 253.50,123.1 253.53,140.5 253.55,123.9 253.57,132.8 253.60,136.4 253.62,149.0 253.64,126.3 253.67,121.9 253.69,150.2 253.71,124.6 254.27,147.0 254.30,123.0 254.32,125.7 254.34,122.2 254.37,136.8 254.39,144.0 254.41,145.4 254.44,124.3 254.46,131.2 254.48,150.7 254.50,123.7 254.53,132.3 254.55,143.1 254.57,127.4 254.60,125.6 254.62,132.6 254.64,127.7 254.67,126.0 254.69,144.4 254.71,139.2 255.27,124.6 255.30,119.4 255.32,147.7 255.34,144.7 255.37,121.6 255.39,136.3 255.41,121.0 255.44,135.6 255.46,118.7 255.48,147.1 255.50,126.4 255.53,136.4 255.55,128.2 255.57,116.5 255.60,125.5 255.62,123.4 255.64,125.8 255.67,123.2 255.69,128.8 255.71,125.8 256.27,137.2 256.30,144.6 256.32,135.5 256.34,137.7 256.37,136.0 256.39,132.0 256.41,116.4 256.44,129.7 256.46,109.0 256.48,147.5 256.50,121.2 256.53,145.4 256.55,124.7 256.57,147.9 256.60,120.7 256.62,128.3 256.64,128.6 256.67,126.3 256.69,133.8 256.71,127.7 257.27,123.2 257.30,124.9 257.32,108.7 257.34,136.8 257.37,118.2 257.39,123.1 257.41,118.6 257.44,147.4 257.46,144.0 257.48,148.0 257.50,142.7 257.53,148.8 257.55,150.5 257.57,149.6 257.60,123.1 257.62,140.9 257.64,147.3 257.67,149.6 257.69,133.8 257.71,133.6 258.27,115.6 258.30,110.2 258.32,129.4 258.34,132.6 258.37,111.2 258.39,117.7 258.41,116.8 258.43,129.3 258.46,123.1 258.48,136.1 258.50,138.9 258.53,120.1 258.55,141.5 258.57,125.6 258.60,143.3 258.62,126.2 258.64,126.6 258.66,125.1 258.69,115.1 258.71,124.2 259.27,122.5 259.30,121.6 259.32,123.3 259.34,124.4 259.37,150.6 259.39,134.7 259.41,126.2 259.43,143.7 259.46,87.7 259.48,120.5 259.50,121.0 259.53,129.4 259.55,124.3 259.57,121.1 259.60,132.8 259.62,139.3 259.64,138.2 259.66,130.6 259.69,126.2 259.71,122.3 260.27,126.5 260.30,145.5 260.32,137.5 260.34,116.4 260.37,125.3 260.39,126.5 260.41,118.0 260.43,137.3 260.46,137.1 260.48,126.6 260.50,144.3 260.53,140.4 260.55,123.0 260.57,139.3 260.60,132.7 260.62,128.8 260.64,126.6 260.66,125.9 260.69,120.4 260.71,149.7 261.27,132.6 261.30,110.7 261.32,139.8 261.34,127.7 261.37,136.1 261.39,138.5 261.41,132.4 261.43,141.6 261.46,116.6 261.48,121.9 261.50,141.8 261.53,138.3 261.55,122.0 261.57,125.4 261.60,121.9 261.62,126.4 261.64,126.2 261.66,124.2 261.69,126.5 261.71,128.6 262.27,141.2 262.30,141.2 262.32,121.9 262.34,139.2 262.37,127.9 262.39,121.5 262.41,147.2 262.43,127.0 262.46,124.9 262.48,125.0 262.50,137.1 262.53,121.3 262.55,136.9 262.57,130.4 262.60,121.3 262.62,142.9 262.64,127.4 262.66,121.5 262.69,136.7 262.71,145.1 263.27,142.0 263.30,123.5 263.32,124.7 263.34,149.2 263.37,124.9 263.39,144.5 263.41,122.1 263.43,126.9 263.46,141.9 263.48,125.1 263.50,120.9 263.53,127.1 263.55,144.0 263.57,125.1 263.60,141.4 263.62,144.3 263.64,145.0 263.66,143.0 263.69,135.4 263.71,122.4 264.27,136.5 264.30,128.2 264.32,122.2 264.34,126.8 264.37,75.4 264.39,71.3 264.41,77.0 264.43,69.2 264.46,73.8 264.48,68.9 264.50,75.2 264.53,74.8 264.55,74.6 264.57,74.3 264.60,76.0 264.62,69.4 264.64,71.8 264.66,71.6 264.69,73.7 264.71,71.5 265.27,71.5 265.30,75.4 265.32,72.6 265.34,73.2 265.37,71.5 265.39,69.7 265.41,58.8 265.43,69.1 265.46,63.5 265.48,64.4 265.50,61.4 265.53,62.4 265.55,60.6 265.57,67.9 265.60,61.0 265.62,64.8 265.64,63.8 265.66,66.1 265.69,65.2 265.71,58.8 266.27,62.8 266.30,57.4 266.32,59.7 266.34,55.8 266.37,55.0 266.39,58.7 266.41,50.2 266.43,51.5 266.46,52.3 266.48,50.9 266.50,49.7 266.53,52.2 266.55,48.5 266.57,53.4 266.60,43.4 266.62,46.4 266.64,45.3 266.66,45.2 266.69,43.6 266.71,47.9 267.27,23.7 267.30,53.8 267.32,49.1 267.34,54.3 267.37,51.6 267.39,57.2 267.41,50.1 267.43,55.8 267.46,57.3 267.48,52.9 267.50,58.2 267.53,58.5 267.55,57.3 267.57,64.2 267.60,61.6 267.62,54.7 267.64,58.2 267.66,64.3 267.69,56.0 267.71,56.5 268.27,59.7 268.30,66.5 268.32,62.7 268.34,63.3 268.36,65.7 268.39,61.6 268.41,65.1 268.43,61.5 268.46,66.0 268.48,59.6 268.50,66.2 268.53,69.0 268.55,61.0 268.57,67.4 268.59,69.4 268.62,60.7 268.64,67.2 268.66,63.7 268.69,69.7 268.71,63.1 269.27,63.1 269.30,68.8 269.32,128.7 269.34,124.1 269.36,130.6 269.39,136.6 269.41,133.6 269.43,148.4 269.46,144.5 269.48,150.6 269.50,137.4 269.53,125.3 269.55,125.1 269.57,115.8 269.59,121.9 269.62,115.3 269.64,150.8 269.66,148.5 269.69,127.8 269.71,122.7 270.27,148.9 270.30,125.2 270.32,128.1 270.34,118.3 270.36,122.3 270.39,138.4 270.41,125.3 270.43,139.6 270.46,148.0 270.48,127.2 270.50,117.3 270.53,126.3 270.55,141.8 270.57,125.0 270.59,118.9 270.62,142.8 270.64,124.9 270.66,134.8 270.69,128.2 270.71,143.5 271.27,150.4 271.30,128.6 271.32,126.7 271.34,139.8 271.36,123.2 271.39,126.3 271.41,123.6 271.43,121.1 271.46,124.4 271.48,123.6 271.50,141.5 271.53,122.0 271.55,119.2 271.57,123.2 271.59,123.8 271.62,133.4 271.64,123.4 271.66,136.2 271.69,124.5 271.71,138.5 272.27,147.7 272.30,121.4 272.32,132.6 272.34,122.6 272.36,120.2 272.39,117.6 272.41,145.3 272.43,126.9 272.46,137.0 272.48,126.9 272.50,146.6 272.53,125.1 272.55,145.6 272.57,136.6 272.59,133.8 272.62,120.7 272.64,122.0 272.66,128.7 272.69,135.3 272.71,127.1 273.27,136.4 273.30,137.2 273.32,144.3 273.34,126.5 273.36,130.0 273.39,121.5 273.41,123.2 273.43,124.5 273.46,137.7 273.48,115.4 273.50,149.7 273.53,112.0 273.55,120.5 273.57,127.0 273.59,127.9 273.62,140.1 273.64,143.2 273.66,147.4 273.69,126.0 273.71,116.2 274.27,135.2 274.30,132.6 274.32,115.3 274.34,130.5 274.36,117.7 274.39,131.1 274.41,128.5 274.43,146.6 274.46,138.0 274.48,117.9 274.50,141.7 274.53,127.0 274.55,122.5 274.57,117.3 274.59,124.9 274.62,125.0 274.64,121.2 274.66,134.5 274.69,135.3 274.71,121.7 275.27,149.3 275.30,144.7 275.32,124.4 275.34,146.0 275.36,149.3 275.39,125.2 275.41,126.8 275.43,144.8 275.46,123.7 275.48,123.7 275.50,122.6 275.53,117.0 275.55,140.1 275.57,144.0 275.59,147.6 275.62,132.9 275.64,149.5 275.66,125.3 275.69,145.5 275.71,135.6 276.27,127.6 276.30,122.3 276.32,128.4 276.34,141.9 276.36,127.5 276.39,136.5 276.41,124.0 276.43,123.0 276.46,122.5 276.48,124.8 276.50,126.8 276.53,149.2 276.55,130.0 276.57,128.4 276.59,142.2 276.62,123.9 276.64,124.5 276.66,127.9 276.69,132.5 276.71,123.9 277.27,141.6 277.30,115.5 277.32,132.4 277.34,122.7 277.36,150.3 277.39,144.8 277.41,127.5 277.43,128.9 277.46,149.3 277.48,124.9 277.50,132.0 277.53,126.1 277.55,124.9 277.57,142.6 277.59,140.3 277.62,144.6 277.64,143.2 277.66,129.2 277.69,128.1 277.71,140.6 278.27,147.8 278.30,134.1 278.32,146.2 278.34,139.1 278.36,123.2 278.39,133.6 278.41,127.0 278.43,124.9 278.46,140.9 278.48,127.4 278.50,148.9 278.52,127.8 278.55,118.5 278.57,134.9 278.59,130.6 278.62,122.9 278.64,136.1 278.66,127.4 278.69,130.5 278.71,116.4 279.27,123.0 279.29,123.6 279.32,140.7 279.34,146.5 279.36,143.6 279.39,125.6 279.41,133.5 279.43,130.5 279.46,118.3 279.48,125.6 279.50,145.1 279.52,133.0 279.55,134.3 279.57,128.9 279.59,146.0 279.62,118.6 279.64,124.3 279.66,133.0 279.69,124.9 279.71,125.5 280.27,124.1 280.29,121.5 280.32,122.7 280.34,141.8 280.36,122.7 280.39,147.8 280.41,138.7 280.43,145.4 280.46,139.2 280.48,120.6 280.50,121.7 280.52,126.3 280.55,126.9 280.57,118.8 280.59,130.2 280.62,146.6 280.64,139.0 280.66,124.7 280.69,139.8 280.71,147.3 281.27,126.3 281.29,125.6 281.32,128.4 281.34,128.1 281.36,137.8 281.39,120.8 281.41,128.2 281.43,124.4 281.46,145.6 281.48,123.3 281.50,131.4 281.52,123.4 281.55,132.5 281.57,139.5 281.59,145.7 281.62,147.9 281.64,126.0 281.66,124.6 281.69,128.7 281.71,127.4 282.27,121.7 282.29,146.0 282.32,106.6 282.34,123.7 282.36,139.6 282.39,138.4 282.41,77.6 282.43,78.3 282.46,74.1 282.48,75.4 282.50,70.9 282.52,75.3 282.55,73.8 282.57,74.6 282.59,75.4 282.62,77.0 282.64,72.0 282.66,74.5 282.69,68.6 282.71,70.7 283.27,70.6 283.29,68.2 283.32,74.2 283.34,67.5 283.36,67.9 283.39,73.4 283.41,72.7 283.43,74.1 283.46,70.0 283.48,72.8 283.50,65.8 283.52,70.6 283.55,70.8 283.57,63.9 283.59,69.3 283.62,68.8 283.64,66.3 283.66,66.1 283.69,68.1 283.71,64.7 284.27,68.3 284.29,63.5 284.32,66.7 284.34,67.3 284.36,65.8 284.39,66.3 284.41,60.7 284.43,60.8 284.46,67.1 284.48,58.9 284.50,59.4 284.52,66.5 284.55,62.2 284.57,61.6 284.59,61.5 284.62,66.3 284.64,56.7 284.66,61.5 284.69,58.2 284.71,59.8 285.27,55.6 285.29,61.9 285.32,57.4 285.34,61.2 285.36,54.4 285.39,60.9 285.41,63.5 285.43,58.6 285.46,40.9 285.48,59.0 285.50,55.2 285.52,55.0 285.55,60.4 285.57,58.3 285.59,51.8 285.62,56.7 285.64,52.6 285.66,13.4 285.69,59.4 285.71,53.1 286.27,58.5 286.29,63.9 286.32,57.4 286.34,60.0 286.36,57.8 286.39,57.2 286.41,60.8 286.43,67.2 286.46,68.3 286.48,61.0 286.50,62.5 286.52,62.0 286.55,65.0 286.57,64.8 286.59,70.2 286.62,67.0 286.64,66.0 286.66,122.2 286.69,148.8 286.71,130.8 287.27,129.3 287.29,138.5 287.32,125.0 287.34,144.7 287.36,126.8 287.39,118.6 287.41,114.9 287.43,136.9 287.46,119.5 287.48,137.3 287.50,140.7 287.52,141.9 287.55,148.9 287.57,124.6 287.59,134.8 287.62,150.1 287.64,126.0 287.66,124.0 287.69,126.6 287.71,128.4 288.27,124.2 288.29,120.8 288.32,149.6 288.34,124.3 288.36,137.7 288.39,121.1 288.41,132.4 288.43,131.9 288.46,123.2 288.48,146.3 288.50,124.6 288.52,126.1 288.55,133.7 288.57,128.1 288.59,147.1 288.62,129.6 288.64,124.8 288.66,146.9 288.68,141.1 288.71,138.7 289.27,125.7 289.29,139.7 289.32,127.0 289.34,131.5 289.36,126.6 289.39,140.4 289.41,143.3 289.43,124.9 289.45,128.3 289.48,129.6 289.50,141.1 289.52,147.0 289.55,135.6 289.57,147.2 289.59,129.1 289.62,140.7 289.64,123.7 289.66,120.5 289.68,119.8 289.71,149.0 290.27,128.4 290.29,135.6 290.32,143.2 290.34,134.2 290.36,123.7 290.39,147.4 290.41,140.5 290.43,129.4 290.45,132.3 290.48,135.4 290.50,146.5 290.52,125.5 290.55,113.0 290.57,148.9 290.59,138.2 290.62,130.0 290.64,142.3 290.66,126.4 290.68,135.9 290.71,136.4 291.27,130.0 291.29,142.2 291.32,149.0 291.34,148.8 291.36,126.5 291.39,129.5 291.41,131.5 291.43,126.1 291.45,146.3 291.48,138.4 291.50,137.3 291.52,131.6 291.55,141.8 291.57,145.6 291.59,131.5 291.62,137.8 291.64,122.6 291.66,123.2 291.68,129.6 291.71,125.7 292.27,134.2 292.29,124.3 292.32,136.7 292.34,124.3 292.36,140.8 292.39,150.9 292.41,133.3 292.43,124.4 292.45,143.3 292.48,149.7 292.50,129.0 292.52,135.0 292.55,129.7 292.57,135.1 292.59,124.0 292.62,147.2 292.64,143.5 292.66,126.1 292.68,143.6 292.71,144.4 293.27,136.2 293.29,121.0 293.32,135.3 293.34,144.9 293.36,124.0 293.39,142.5 293.41,122.6 293.43,144.0 293.45,145.4 293.48,136.7 293.50,133.6 293.52,123.7 293.55,122.6 293.57,135.4 293.59,114.8 293.62,128.7 293.64,126.7 293.66,130.1 293.68,130.5 293.71,130.0 294.27,133.9 294.29,142.9 294.32,134.7 294.34,129.9 294.36,126.1 294.39,125.4 294.41,145.0 294.43,143.3 294.45,150.4 294.48,131.2 294.50,123.3 294.52,128.9 294.55,133.6 294.57,148.3 294.59,125.4 294.62,120.1 294.64,110.9 294.66,126.0 294.68,128.3 294.71,124.8 295.27,111.0 295.29,124.5 295.32,128.4 295.34,118.6 295.36,128.4 295.39,126.0 295.41,141.2 295.43,144.6 295.45,123.1 295.48,123.8 295.50,124.9 295.52,143.3 295.55,126.5 295.57,141.3 295.59,130.3 295.62,144.1 295.64,138.3 295.66,104.5 295.68,123.0 295.71,117.0 296.27,134.6 296.29,135.4 296.32,126.0 296.34,110.4 296.36,150.1 296.39,128.0 296.41,125.2 296.43,128.3 296.45,143.3 296.48,123.5 296.50,132.7 296.52,125.7 296.55,124.2 296.57,123.5 296.59,123.9 296.62,147.1 296.64,123.9 296.66,123.9 296.68,141.0 296.71,133.5 297.27,126.4 297.29,128.6 297.32,146.4 297.34,127.2 297.36,124.7 297.39,126.8 297.41,140.1 297.43,114.3 297.45,129.8 297.48,122.5 297.50,126.8 297.52,117.6 297.55,148.8 297.57,144.6 297.59,121.3 297.62,150.4 297.64,124.2 297.66,149.7 297.68,127.9 297.71,133.1 298.27,125.8 298.29,139.1 298.32,123.6 298.34,137.2 298.36,122.9 298.39,145.1 298.41,135.2 298.43,147.7 298.45,114.3 298.48,112.9 298.50,146.5 298.52,128.2 298.55,123.5 298.57,122.5 298.59,149.6 298.62,129.8 298.64,128.5 298.66,123.4 298.68,128.3 298.71,115.7 299.27,118.3 299.29,120.0 299.32,124.3 299.34,143.6 299.36,122.3 299.38,144.5 299.41,128.0 299.43,121.2 299.45,141.5 299.48,123.8 299.50,127.8 299.52,145.7 299.55,124.8 299.57,126.3 299.59,130.5 299.61,125.0 299.64,144.7 299.66,123.7 299.68,149.9 299.71,127.3 299.73,126.6 300.29,132.1 300.32,134.6 300.34,127.8 300.36,146.8 300.38,125.9 300.41,128.0 300.43,109.6 300.45,142.5 300.48,147.4 300.50,130.7 300.52,130.4 300.55,128.3 300.57,123.8 300.59,118.1 300.61,149.7 300.64,146.1 300.66,141.7 300.68,137.0 300.71,132.3 300.73,130.7 301.29,129.9 301.32,138.0 301.34,123.9 301.36,134.2 301.38,128.2 301.41,130.8 301.43,124.2 301.45,134.2 301.48,124.1 301.50,140.5 301.52,132.3 301.55,126.2 301.57,136.8 301.59,144.5 301.61,150.3 301.64,126.5 301.66,126.9 301.68,124.5 301.71,133.7 301.73,150.5 302.29,133.1 302.32,133.3 302.34,127.5 302.36,124.8 302.38,146.6 302.41,131.6 302.43,125.8 302.45,125.1 302.48,123.5 302.50,138.4 302.52,96.8 302.55,129.4 302.57,129.9 302.59,126.9 302.61,150.4 302.64,126.3 302.66,145.6 302.68,125.2 302.71,132.5 302.73,139.0 303.29,147.7 303.32,139.4 303.34,126.2 303.36,143.1 303.38,123.9 303.41,142.2 303.43,148.5 303.45,137.2 303.48,132.2 303.50,142.2 303.52,143.8 303.55,127.4 303.57,130.5 303.59,136.7 303.61,128.9 303.64,131.9 303.66,146.2 303.68,112.4 303.71,121.3 303.73,120.7 304.29,135.1 304.32,122.4 304.34,147.4 304.36,121.4 304.38,122.3 304.41,147.2 304.43,127.5 304.45,125.2 304.48,136.5 304.50,126.1 304.52,150.3 304.55,126.1 304.57,145.7 304.59,129.0 304.61,144.3 304.64,127.1 304.66,134.7 304.68,124.9 304.71,134.9 304.73,138.7 305.29,132.0 305.32,146.4 305.34,147.8 305.36,123.2 305.38,120.5 305.41,133.0 305.43,143.2 305.45,146.4 305.48,139.3 305.50,135.4 305.52,126.8 305.55,139.1 305.57,123.3 305.59,132.7 305.61,143.1 305.64,123.6 305.66,132.9 305.68,124.3 305.71,117.8 305.73,122.7 306.29,130.2 306.32,124.5 306.34,137.8 306.36,116.5 306.38,123.2 306.41,122.2 306.43,122.9 306.45,124.7 306.48,120.2 306.50,126.5 306.52,124.5 306.55,135.8 306.57,123.8 306.59,138.1 306.61,144.2 306.64,123.8 306.66,125.9 306.68,123.6 306.71,145.4 306.73,134.7 307.29,126.3 307.32,127.6 307.34,147.7 307.36,141.8 307.38,142.6 307.41,130.9 307.43,122.3 307.45,138.9 307.48,117.4 307.50,145.0 307.52,122.6 307.55,141.1 307.57,125.7 307.59,124.9 307.61,149.6 307.64,144.7 307.66,128.4 307.68,122.4 307.71,126.2 307.73,135.6 308.29,145.4 308.32,116.5 308.34,124.6 308.36,127.6 308.38,144.2 308.41,127.6 308.43,118.5 308.45,130.5 308.48,144.9 308.50,138.0 308.52,113.1 308.55,124.8 308.57,128.7 308.59,148.9 308.61,141.8 308.64,102.1 308.66,133.0 308.68,133.8 308.71,137.0 308.73,135.0 309.29,147.7 309.32,149.6 309.34,148.2 309.36,130.8 309.38,124.3 309.41,122.3 309.43,124.1 309.45,147.0 309.48,135.5 309.50,149.2 309.52,131.1 309.54,124.7 309.57,124.8 309.59,126.9 309.61,133.8 309.64,132.1 309.66,129.1 309.68,126.3 309.71,124.7 309.73,136.5 310.29,131.2 310.31,128.7 310.34,127.8 310.36,126.7 310.38,148.9 310.41,149.9 310.43,127.6 310.45,128.4 310.48,116.3 310.50,121.1 310.52,125.8 310.54,134.4 310.57,137.9 310.59,145.5 310.61,126.3 310.64,125.2 310.66,135.9 310.68,136.3 310.71,120.2 310.73,143.4 311.29,149.8 311.31,120.6 311.34,129.0 311.36,121.3 311.38,126.2 311.41,138.9 311.43,148.8 311.45,128.3 311.48,133.2 311.50,131.5 311.52,123.3 311.54,142.7 311.57,133.3 311.59,128.5 311.61,149.4 311.64,135.4 311.66,129.3 311.68,134.4 311.71,145.0 311.73,101.4 312.29,114.2 312.31,116.1 312.34,142.2 312.36,128.7 312.38,136.1 312.41,141.3 312.43,116.5 312.45,123.9 312.48,126.5 312.50,129.0 312.52,133.6 312.54,141.4 312.57,122.9 312.59,135.4 312.61,126.9 312.64,149.4 312.66,122.3 312.68,143.6 312.71,150.1 312.73,143.4 313.29,147.0 313.31,140.2 313.34,143.7 313.36,126.3 313.38,149.6 313.41,147.4 313.43,141.9 313.45,124.5 313.48,117.2 313.50,137.7 313.52,145.1 313.54,142.1 313.57,130.1 313.59,141.9 313.61,140.3 313.64,140.0 313.66,130.6 313.68,147.3 313.71,120.0 313.73,123.0 314.29,123.2 314.31,140.7 314.34,133.1 314.36,139.3 314.38,143.6 314.41,142.7 314.43,120.6 314.45,126.6 314.48,146.6 314.50,136.2 314.52,122.5 314.54,132.4 314.57,124.7 314.59,135.0 314.61,149.9 314.64,122.4 314.66,133.7 314.68,134.5 314.71,142.6 314.73,144.7 315.29,122.3 315.31,129.9 315.34,147.9 315.36,128.6 315.38,133.6 315.41,125.4 315.43,125.0 315.45,127.3 315.48,124.9 315.50,145.0 315.52,127.1 315.54,124.2 315.57,139.0 315.59,135.5 315.61,130.9 315.64,134.0 315.66,149.2 315.68,128.6 315.71,132.0 315.73,125.8 316.29,129.6 316.31,150.1 316.34,123.1 316.36,144.5 316.38,131.6 316.41,139.3 316.43,121.1 316.45,150.8 316.48,134.1 316.50,129.3 316.52,121.6 316.54,147.7 316.57,125.1 316.59,132.0 316.61,137.4 316.64,137.6 316.66,149.9 316.68,123.2 316.71,129.6 316.73,120.0 317.29,116.0 317.31,123.1 317.34,124.3 317.36,129.1 317.38,148.1 317.41,124.0 317.43,133.0 317.45,143.3 317.48,150.3 317.50,139.5 317.52,132.5 317.54,124.5 317.57,138.2 317.59,125.9 317.61,122.3 317.64,149.7 317.66,124.1 317.68,124.1 317.71,132.0 317.73,119.3 318.29,123.7 318.31,129.0 318.34,113.2 318.36,141.5 318.38,138.7 318.41,128.8 318.43,142.0 318.45,126.1 318.48,119.1 318.50,129.8 318.52,124.5 318.54,112.7 318.57,126.4 318.59,126.6 318.61,116.9 318.64,128.9 318.66,125.2 318.68,123.0 318.71,139.1 318.73,125.2 319.29,121.1 319.31,127.5 319.34,125.0 319.36,126.7 319.38,133.0 319.41,130.1 319.43,137.9 319.45,132.3 319.48,146.3 319.50,146.7 319.52,134.7 319.54,136.1 319.57,126.7 319.59,130.0 319.61,143.1 319.64,147.0 319.66,141.8 319.68,121.3 319.70,131.3 319.73,114.0 320.29,128.6 320.31,138.9 320.34,144.0 320.36,106.9 320.38,139.9 320.41,124.5 320.43,102.3 320.45,128.9 320.47,134.8 320.50,101.8 320.52,148.6 320.54,116.1 320.57,123.6 320.59,128.9 320.61,117.5 320.64,135.5 320.66,141.3 320.68,131.6 320.70,124.0 320.73,133.2 321.29,126.7 321.31,126.7 321.34,134.0 321.36,107.8 321.38,119.6 321.41,149.9 321.43,125.7 321.45,139.1 321.47,127.7 321.50,121.8 321.52,149.8 321.54,127.5 321.57,117.7 321.59,118.9 321.61,124.3 321.64,123.1 321.66,127.9 321.68,143.1 321.70,147.1 321.73,140.1 322.29,127.0 322.31,146.2 322.34,143.9 322.36,134.3 322.38,122.5 322.41,124.4 322.43,122.9 322.45,126.3 322.47,133.7 322.50,134.2 322.52,134.7 322.54,143.0 322.57,150.1 322.59,123.8 322.61,124.2 322.64,149.6 322.66,121.0 322.68,123.9 322.70,138.0 322.73,129.4 323.29,139.5 323.31,140.6 323.34,131.7 323.36,125.6 323.38,119.5 323.41,142.6 323.43,119.8 323.45,145.9 323.47,126.7 323.50,122.1 323.52,129.7 323.54,126.2 323.57,150.9 323.59,109.0 323.61,139.0 323.64,118.1 323.66,147.0 323.68,145.4 323.70,127.6 323.73,121.1 324.29,116.9 324.31,106.8 324.34,129.8 324.36,135.8 324.38,138.6 324.41,148.5 324.43,130.1 324.45,127.9 324.47,126.0 324.50,141.1 324.52,148.7 324.54,122.9 324.57,138.6 324.59,149.1 324.61,126.3 324.64,124.8 324.66,131.7 324.68,141.8 324.70,144.4 324.73,123.0 325.29,121.2 325.31,127.7 325.34,120.7 325.36,145.2 325.38,125.9 325.41,146.2 325.43,125.9 325.45,146.6 325.47,137.3 325.50,147.1 325.52,138.6 325.54,131.1 325.57,112.9 325.59,109.9 325.61,123.6 325.64,134.2 325.66,138.7 325.68,141.2 325.70,143.1 325.73,97.2 326.29,145.2 326.31,141.4 326.34,128.4 326.36,138.4 326.38,122.3 326.41,144.3 326.43,144.7 326.45,140.8 326.47,120.2 326.50,140.6 326.52,143.0 326.54,138.4 326.57,128.0 326.59,134.0 326.61,120.7 326.64,124.5 326.66,134.9 326.68,134.3 326.70,128.0 326.73,138.9 327.29,131.9 327.31,118.5 327.34,126.0 327.36,149.0 327.38,137.6 327.41,113.2 327.43,131.8 327.45,134.1 327.47,125.3 327.50,108.5 327.52,126.1 327.54,128.9 327.57,147.7 327.59,125.2 327.61,135.7 327.64,132.8 327.66,125.5 327.68,124.6 327.70,126.2 327.73,125.3 328.29,126.4 328.31,125.0 328.34,141.7 328.36,145.1 328.38,140.7 328.41,131.8 328.43,145.7 328.45,132.7 328.47,133.6 328.50,138.2 328.52,139.0 328.54,129.0 328.57,147.9 328.59,149.5 328.61,123.0 328.64,127.5 328.66,121.1 328.68,138.8 328.70,149.0 328.73,145.0 329.29,126.7 329.31,122.4 329.34,147.9 329.36,128.9 329.38,139.1 329.41,144.9 329.43,143.3 329.45,146.6 329.47,142.3 329.50,146.7 329.52,125.6 329.54,131.3 329.57,137.8 329.59,148.4 329.61,131.0 329.64,140.4 329.66,150.2 329.68,113.7 329.70,113.3 329.73,114.3 330.29,127.0 330.31,122.2 330.34,133.1 330.36,135.4 330.38,123.7 330.40,139.1 330.43,141.2 330.45,133.8 330.47,125.6 330.50,128.0 330.52,120.0 330.54,139.2 330.57,124.8 330.59,121.6 330.61,122.6 330.63,125.5 330.66,129.8 330.68,138.0 330.70,145.3 330.73,134.1 331.29,132.4 331.31,148.0 331.34,125.7 331.36,145.9 331.38,123.5 331.40,126.5 331.43,125.7 331.45,121.8 331.47,148.2 331.50,116.3 331.52,150.1 331.54,122.3 331.57,109.2 331.59,127.1 331.61,143.0 331.63,139.3 331.66,120.4 331.68,137.2 331.70,139.2 331.73,124.2 332.29,124.5 332.31,122.2 332.34,131.3 332.36,146.7 332.38,124.3 332.40,125.6 332.43,121.4 332.45,128.2 332.47,111.6 332.50,132.9 332.52,149.7 332.54,149.6 332.57,148.3 332.59,111.4 332.61,125.8 332.63,122.7 332.66,136.3 332.68,125.2 332.70,122.9 332.73,137.5 333.29,144.8 333.31,119.5 333.34,134.8 333.36,114.4 333.38,125.9 333.40,142.8 333.43,132.1 333.45,133.4 333.47,145.3 333.50,121.0 333.52,149.3 333.54,124.5 333.57,122.4 333.59,121.9 333.61,136.3 333.63,148.9 333.66,137.3 333.68,123.8 333.70,134.9 333.73,147.4 334.29,132.5 334.31,115.0 334.34,123.3 334.36,119.7 334.38,126.1 334.40,141.3 334.43,123.2 334.45,135.8 334.47,115.3 334.50,138.5 334.52,119.5 334.54,133.8 334.57,139.1 334.59,123.3 334.61,138.4 334.63,120.8 334.66,139.6 334.68,147.1 334.70,124.5 334.73,125.8 335.29,135.8 335.31,150.4 335.34,140.9 335.36,132.2 335.38,130.3 335.40,124.1 335.43,130.6 335.45,119.8 335.47,133.1 335.50,127.6 335.52,121.5 335.54,127.1 335.57,141.2 335.59,126.8 335.61,134.7 335.63,117.8 335.66,147.2 335.68,114.7 335.70,135.8 335.73,119.8 336.29,126.6 336.31,143.0 336.34,120.0 336.36,129.9 336.38,147.7 336.40,123.0 336.43,147.0 336.45,121.9 336.47,135.4 336.50,137.5 336.52,136.0 336.54,136.6 336.57,123.6 336.59,149.8 336.61,125.5 336.63,122.2 336.66,125.2 336.68,123.7 336.70,115.3 336.73,136.5 337.29,115.4 337.31,140.4 337.34,125.4 337.36,146.2 337.38,131.0 337.40,133.2 337.43,135.2 337.45,141.0 337.47,147.1 337.50,150.9 337.52,130.0 337.54,139.6 337.57,139.3 337.59,120.6 337.61,143.8 337.63,110.8 337.66,140.9 337.68,135.9 337.70,140.3 337.73,98.8 338.29,124.1 338.31,131.2 338.34,146.3 338.36,117.9 338.38,107.0 338.40,122.1 338.43,125.6 338.45,113.8 338.47,116.3 338.50,122.7 338.52,118.1 338.54,124.8 338.57,117.4 338.59,126.0 338.61,148.0 338.63,130.4 338.66,146.2 338.68,143.5 338.70,124.7 338.73,118.9 339.29,126.4 339.31,133.2 339.34,150.3 339.36,138.5 339.38,143.2 339.40,128.4 339.43,138.3 339.45,122.8 339.47,138.6 339.50,135.4 339.52,123.1 339.54,121.0 339.57,126.7 339.59,131.7 339.61,143.9 339.63,150.4 339.66,124.1 339.68,119.4 339.70,120.2 339.73,124.5 340.29,126.5 340.31,136.8 340.34,121.5 340.36,140.2 340.38,126.3 340.40,145.9 340.43,133.7 340.45,122.1 340.47,133.3 340.50,123.4 340.52,127.4 340.54,121.0 340.56,128.2 340.59,123.5 340.61,122.3 340.63,125.2 340.66,145.3 340.68,120.3 340.70,125.6 340.73,121.3 341.29,114.3 341.31,122.4 341.33,123.7 341.36,141.7 341.38,133.1 341.40,124.5 341.43,150.5 341.45,131.3 341.47,126.5 341.50,121.6 341.52,135.3 341.54,125.5 341.56,143.6 341.59,93.2 341.61,130.0 341.63,121.1 341.66,121.0 341.68,139.8 341.70,125.7 341.73,145.3 342.29,131.6 342.31,129.1 342.33,106.5 342.36,125.1 342.38,119.3 342.40,122.3 342.43,147.5 342.45,128.4 342.47,121.9 342.50,112.5 342.52,146.9 342.54,134.6 342.56,116.3 342.59,139.3 342.61,126.8 342.63,121.6 342.66,119.7 342.68,130.2 342.70,127.4 342.73,148.5 343.29,121.7 343.31,123.0 343.33,140.1 343.36,130.4 343.38,141.3 343.40,121.2 343.43,120.6 343.45,125.9 343.47,120.9 343.50,146.9 343.52,121.4 343.54,123.3 343.56,139.5 343.59,149.9 343.61,126.5 343.63,113.6 343.66,146.8 343.68,116.9 343.70,130.8 343.73,120.8 344.29,122.3 344.31,131.2 344.33,131.9 344.36,124.8 344.38,149.5 344.40,125.2 344.43,116.3 344.45,121.0 344.47,135.6 344.50,140.3 344.52,125.8 344.54,135.2 344.56,120.1 344.59,142.9 344.61,116.3 344.63,121.9 344.66,124.4 344.68,122.7 344.70,144.0 344.73,121.9 345.29,114.6 345.31,117.7 345.33,129.2 345.36,126.8 345.38,118.3 345.40,125.7 345.43,134.7 345.45,136.1 345.47,126.7 345.50,139.0 345.52,124.8 345.54,144.0 345.56,140.6 345.59,130.1 345.61,131.0 345.63,148.6 345.66,132.5 345.68,135.3 345.70,135.6 345.73,143.5 346.29,129.0 346.31,126.6 346.33,121.5 346.36,118.0 346.38,122.3 346.40,137.7 346.43,131.2 346.45,149.0 346.47,139.2 346.50,145.3 346.52,141.3 346.54,143.2 346.56,138.0 346.59,147.9 346.61,123.8 346.63,140.5 346.66,121.0 346.68,143.4 346.70,135.0 346.73,145.2 347.29,142.9 347.31,144.9 347.33,126.4 347.36,129.1 347.38,126.3 347.40,148.7 347.43,146.6 347.45,130.6 347.47,142.2 347.50,123.8 347.52,133.5 347.54,149.1 347.56,147.7 347.59,137.0 347.61,147.1 347.63,145.3 347.66,142.5 347.68,113.2 347.70,121.8 347.73,136.5 348.29,121.6 348.31,147.1 348.33,121.7 348.36,149.4 348.38,141.9 348.40,135.3 348.43,119.7 348.45,132.3 348.47,137.8 348.50,143.5 348.52,125.7 348.54,123.2 348.56,129.6 348.59,143.7 348.61,133.2 348.63,133.4 348.66,135.7 348.68,138.7 348.70,146.1 348.73,90.8 349.29,124.5 349.31,102.8 349.33,107.3 349.36,120.2 349.38,124.2 349.40,137.9 349.43,150.7 349.45,123.5 349.47,126.0 349.50,129.1 349.52,138.9 349.54,139.9 349.56,116.5 349.59,129.1 349.61,131.3 349.63,144.2 349.66,126.2 349.68,129.4 349.70,130.0 349.73,119.9 350.29,125.3 350.31,147.1 350.33,126.4 350.36,141.1 350.38,122.3 350.40,125.6 350.43,127.7 350.45,123.8 350.47,142.1 350.49,121.5 350.52,138.1 350.54,136.0 350.56,124.4 350.59,120.3 350.61,141.7 350.63,126.2 350.66,135.7 350.68,122.1 350.70,136.7 350.72,109.5 351.29,123.9 351.31,124.0 351.33,139.5 351.36,150.3 351.38,144.9 351.40,119.0 351.43,125.0 351.45,142.3 351.47,134.6 351.49,142.7 351.52,145.1 351.54,123.0 351.56,150.0 351.59,123.7 351.61,124.5 351.63,134.7 351.66,111.0 351.68,142.5 351.70,138.9 351.72,125.9 352.29,130.8 352.31,135.9 352.33,117.0 352.36,117.3 352.38,122.9 352.40,110.3 352.43,122.1 352.45,127.5 352.47,145.3 352.49,144.6 352.52,127.9 352.54,136.7 352.56,132.0 352.59,146.8 352.61,141.4 352.63,127.4 352.66,146.2 352.68,148.2 352.70,122.4 352.72,135.1 353.29,141.7 353.31,141.5 353.33,131.7 353.36,150.6 353.38,145.7 353.40,149.7 353.43,120.7 353.45,124.1 353.47,150.5 353.49,125.5 353.52,138.8 353.54,121.7 353.56,143.6 353.59,135.4 353.61,146.6 353.63,148.0 353.66,134.2 353.68,121.9 353.70,125.3 353.72,125.7 354.29,149.8 354.31,138.3 354.33,149.8 354.36,129.6 354.38,130.5 354.40,119.1 354.43,124.6 354.45,149.7 354.47,121.3 354.49,124.2 354.52,129.4 354.54,138.2 354.56,122.6 354.59,115.6 354.61,134.0 354.63,131.6 354.66,122.3 354.68,140.6 354.70,140.5 354.72,143.3 355.29,104.9 355.31,136.9 355.33,150.2 355.36,126.2 355.38,135.3 355.40,120.1 355.43,122.5 355.45,110.9 355.47,134.2 355.49,135.1 355.52,127.5 355.54,126.7 355.56,136.8 355.59,125.3 355.61,127.5 355.63,143.6 355.66,135.3 355.68,142.1 355.70,136.2 355.72,118.7 356.29,125.7 356.31,145.2 356.33,144.9 356.36,136.0 356.38,127.8 356.40,147.0 356.43,122.7 356.45,123.6 356.47,116.9 356.49,126.3 356.52,124.6 356.54,125.4 356.56,122.6 356.59,131.8 356.61,132.1 356.63,138.3 356.66,145.0 356.68,143.1 356.70,126.0 356.72,147.5 357.29,133.8 357.31,129.0 357.33,148.2 357.36,114.0 357.38,149.3 357.40,120.0 357.43,141.0 357.45,128.6 357.47,146.2 357.49,118.6 357.52,126.4 357.54,122.8 357.56,146.2 357.59,141.7 357.61,143.2 357.63,122.9 357.66,144.8 357.68,123.3 357.70,137.7 357.72,148.5 358.29,120.4 358.31,148.9 358.33,139.6 358.36,127.5 358.38,115.2 358.40,112.1 358.43,129.1 358.45,112.8 358.47,127.6 358.49,146.4 358.52,118.2 358.54,145.7 358.56,121.7 358.59,121.4 358.61,145.7 358.63,126.5 358.66,149.0 358.68,148.7 358.70,124.6 358.72,124.8 359.29,143.6 359.31,144.3 359.33,137.3 359.36,117.6 359.38,125.9 359.40,147.2 359.43,127.3 359.45,108.8 359.47,126.1 359.49,129.9 359.52,137.7 359.54,132.3 359.56,148.0 359.59,132.0 359.61,117.7 359.63,121.4 359.66,124.8 359.68,126.4 359.70,127.2 359.72,123.4 360.29,122.2 360.31,118.0 360.33,141.5 360.36,143.3 360.38,130.5 360.40,126.0 360.43,140.7 360.45,144.1 360.47,141.6 360.49,137.2 360.52,145.3 360.54,139.3 360.56,143.3 360.59,119.9 360.61,148.0 360.63,150.3 360.65,122.6 360.68,119.0 360.70,120.9 360.72,115.5 361.29,127.5 361.31,131.7 361.33,130.0 361.36,144.3 361.38,133.1 361.40,126.7 361.42,141.4 361.45,123.3 361.47,127.0 361.49,124.5 361.52,142.8 361.54,144.2 361.56,143.2 361.59,142.7 361.61,124.3 361.63,148.2 361.65,131.7 361.68,127.4 361.70,141.0 361.72,146.4 362.29,141.3 362.31,139.8 362.33,122.0 362.36,122.6 362.38,122.2 362.40,133.4 362.42,147.2 362.45,139.2 362.47,123.1 362.49,125.6 362.52,122.9 362.54,133.0 362.56,123.7 362.59,123.3 362.61,122.5 362.63,131.8 362.65,147.4 362.68,142.4 362.70,125.5 362.72,121.3 363.29,134.5 363.31,143.0 363.33,124.4 363.36,135.4 363.38,144.8 363.40,143.3 363.42,149.2 363.45,125.3 363.47,135.8 363.49,123.9 363.52,144.0 363.54,148.9 363.56,120.9 363.59,144.8 363.61,146.7 363.63,111.6 363.65,142.1 363.68,128.5 363.70,122.7 363.72,129.3 364.29,126.7 364.31,131.2 364.33,132.1 364.36,129.6 364.38,147.0 364.40,139.2 364.42,132.4 364.45,125.5 364.47,122.8 364.49,128.8 364.52,136.5 364.54,147.8 364.56,142.7 364.59,146.5 364.61,132.9 364.63,132.0 364.65,141.6 364.68,150.9 364.70,129.1 364.72,130.2 365.29,129.0 365.31,120.9 365.33,133.3 365.36,123.7 365.38,127.6 365.40,144.5 365.42,148.0 365.45,131.3 365.47,131.7 365.49,144.7 365.52,136.8 365.54,148.8 365.56,123.7 365.59,106.6 365.61,147.5 365.63,128.0 365.65,130.3 365.68,146.8 365.70,135.5 365.72,134.1 366.29,138.4 366.31,139.1 366.33,127.3 366.36,134.8 366.38,150.3 366.40,128.1 366.42,126.3 366.45,121.9 366.47,136.5 366.49,116.0 366.52,139.7 366.54,125.7 366.56,144.3 366.59,123.7 366.61,144.5 366.63,122.7 366.65,123.3 366.68,136.3 366.70,146.4 366.72,122.1 367.29,134.4 367.31,148.9 367.33,122.9 367.36,125.2 367.38,141.8 367.40,123.3 367.42,122.6 367.45,144.3 367.47,126.8 367.49,150.9 367.52,134.5 367.54,129.9 367.56,141.8 367.59,120.3 367.61,145.3 367.63,120.8 367.65,123.1 367.68,135.4 367.70,116.8 367.72,148.3 368.29,117.5 368.31,130.8 368.33,120.7 368.36,139.0 368.38,134.8 368.40,143.7 368.42,116.0 368.45,121.5 368.47,138.5 368.49,137.6 368.52,120.4 368.54,136.3 368.56,132.2 368.59,140.8 368.61,127.1 368.63,126.8 368.65,140.7 368.68,140.8 368.70,121.6 368.72,119.3 369.29,125.7 369.31,150.0 369.33,142.2 369.36,121.2 369.38,129.0 369.40,134.9 369.42,142.1 369.45,120.7 369.47,122.2 369.49,123.1 369.52,131.6 369.54,144.5 369.56,124.4 369.59,121.2 369.61,141.1 369.63,144.1 369.65,115.4 369.68,123.1 369.70,141.3 369.72,111.0 370.29,147.7 370.31,137.4 370.33,118.5 370.36,147.6 370.38,126.8 370.40,122.5 370.42,125.2 370.45,120.5 370.47,140.3 370.49,126.5 370.52,133.0 370.54,129.9 370.56,135.4 370.59,125.0 370.61,121.7 370.63,142.0 370.65,146.2 370.68,144.4 370.70,122.5 370.72,112.3 371.29,144.6 371.31,135.3 371.33,113.4 371.35,132.9 371.38,117.9 371.40,147.6 371.42,140.3 371.45,133.2 371.47,115.7 371.49,134.6 371.52,148.4 371.54,137.5 371.56,129.0 371.58,125.0 371.61,130.9 371.63,145.4 371.65,131.3 371.68,127.9 371.70,122.1 371.72,129.1 372.29,130.6 372.31,123.8 372.33,125.3 372.35,126.9 372.38,123.0 372.40,148.1 372.42,125.9 372.45,124.2 372.47,140.8 372.49,107.7 372.52,118.5 372.54,135.6 372.56,126.0 372.58,130.7 372.61,131.6 372.63,141.3 372.65,68.2 372.68,70.1 372.70,62.2 372.72,69.2 373.29,65.6 373.31,63.9 373.33,65.6 373.35,61.5 373.38,67.9 373.40,61.2 373.42,61.4 373.45,64.5 373.47,65.6 373.49,61.1 373.52,64.7 373.54,59.9 373.56,67.9 373.58,68.3 373.61,67.4 373.63,60.7 373.65,64.6 373.68,64.2 373.70,62.0 373.72,66.6 374.29,64.1 374.31,62.2 374.33,67.9 374.35,63.5 374.38,61.8 374.40,63.3 374.42,65.4 374.45,66.6 374.47,57.4 374.49,58.7 374.52,61.0 374.54,56.0 374.56,66.1 374.58,55.8 374.61,62.8 374.63,61.8 374.65,65.9 374.68,63.5 374.70,65.8 374.72,63.7 375.29,63.0 375.31,61.3 375.33,66.3 375.35,59.0 375.38,58.4 375.40,66.9 375.42,66.9 375.45,60.6 375.47,65.3 375.49,65.9 375.52,66.0 375.54,66.8 375.56,59.6 375.58,62.0 375.61,66.6 375.63,58.7 375.65,65.4 375.68,61.1 375.70,61.4 375.72,64.4 376.29,62.1 376.31,66.0 376.33,61.5 376.35,66.8 376.38,67.6 376.40,65.1 376.42,61.8 376.45,61.8 376.47,66.2 376.49,68.6 376.52,63.5 376.54,61.5 376.56,68.6 376.58,67.6 376.61,64.5 376.63,67.1 376.65,65.2 376.68,67.3 376.70,62.1 376.72,61.3 377.29,59.6 377.31,68.9 377.33,67.8 377.35,60.4 377.38,62.3 377.40,62.4 377.42,122.3 377.45,127.7 377.47,143.6 377.49,132.8 377.52,149.7 377.54,135.5 377.56,150.9 377.58,149.7 377.61,133.5 377.63,121.1 377.65,146.2 377.68,115.3 377.70,138.1 377.72,119.1 378.29,130.5 378.31,147.0 378.33,121.7 378.35,142.1 378.38,133.5 378.40,125.3 378.42,137.2 378.45,137.0 378.47,146.7 378.49,139.2 378.52,124.7 378.54,122.6 378.56,132.2 378.58,122.3 378.61,139.2 378.63,124.5 378.65,136.7 378.68,125.0 378.70,135.4 378.72,142.8 379.29,124.2 379.31,139.5 379.33,143.0 379.35,126.0 379.38,144.8 379.40,149.3 379.42,123.8 379.45,123.5 379.47,127.4 379.49,131.3 379.52,143.3 379.54,125.5 379.56,135.2 379.58,126.8 379.61,146.4 379.63,137.8 379.65,122.5 379.68,134.5 379.70,135.5 379.72,140.4 380.29,128.1 380.31,129.2 380.33,147.6 380.35,126.2 380.38,134.6 380.40,125.1 380.42,125.7 380.45,148.3 380.47,126.5 380.49,125.5 380.52,125.8 380.54,139.9 380.56,150.8 380.58,128.8 380.61,149.6 380.63,124.7 380.65,131.2 380.68,124.1 380.70,134.7 380.72,150.1 381.29,126.1 381.31,149.1 381.33,148.6 381.35,132.5 381.38,125.0 381.40,140.5 381.42,132.7 381.45,137.8 381.47,134.2 381.49,148.1 381.51,122.7 381.54,135.2 381.56,144.5 381.58,137.1 381.61,147.6 381.63,120.6 381.65,127.6 381.68,114.2 381.70,143.8 381.72,133.5 382.28,149.3 382.31,147.6 382.33,124.7 382.35,110.3 382.38,126.4 382.40,125.2 382.42,125.0 382.45,126.5 382.47,128.1 382.49,144.7 382.51,146.4 382.54,132.9 382.56,131.9 382.58,123.5 382.61,133.0 382.63,141.5 382.65,137.2 382.68,138.6 382.70,137.0 382.72,122.3 383.28,124.2 383.31,126.9 383.33,137.7 383.35,131.0 383.38,136.9 383.40,113.8 383.42,127.0 383.45,150.3 383.47,134.7 383.49,124.1 383.51,124.7 383.54,127.6 383.56,138.9 383.58,134.0 383.61,124.3 383.63,143.7 383.65,120.6 383.68,127.3 383.70,124.2 383.72,146.5 384.28,140.0 384.31,146.1 384.33,138.3 384.35,128.7 384.38,123.6 384.40,127.2 384.42,139.2 384.45,123.8 384.47,122.9 384.49,136.1 384.51,150.4 384.54,134.0 384.56,127.9 384.58,148.3 384.61,140.7 384.63,142.0 384.65,127.2 384.68,129.9 384.70,133.8 384.72,127.9 385.28,131.3 385.31,121.6 385.33,125.9 385.35,145.2 385.38,140.2 385.40,127.9 385.42,132.2 385.45,132.6 385.47,138.2 385.49,140.2 385.51,145.5 385.54,139.6 385.56,132.4 385.58,135.5 385.61,118.1 385.63,133.3 385.65,138.0 385.68,119.8 385.70,148.9 385.72,125.4 386.28,147.0 386.31,141.9 386.33,131.9 386.35,140.7 386.38,130.9 386.40,125.4 386.42,122.5 386.45,140.7 386.47,135.3 386.49,112.9 386.51,136.1 386.54,124.9 386.56,150.7 386.58,126.8 386.61,141.7 386.63,126.9 386.65,138.7 386.68,128.0 386.70,126.6 386.72,129.9 387.28,121.9 387.31,133.5 387.33,145.9 387.35,144.6 387.38,126.3 387.40,140.5 387.42,127.9 387.45,109.3 387.47,143.2 387.49,143.1 387.51,138.8 387.54,149.9 387.56,126.2 387.58,141.8 387.61,128.5 387.63,127.0 387.65,149.4 387.68,150.6 387.70,132.7 387.72,149.7 388.28,136.9 388.31,127.6 388.33,134.4 388.35,149.2 388.38,149.3 388.40,126.3 388.42,124.8 388.45,150.3 388.47,121.6 388.49,132.2 388.51,129.4 388.54,140.7 388.56,147.8 388.58,130.0 388.61,101.3 388.63,137.8 388.65,126.9 388.68,132.0 388.70,148.8 388.72,138.5 389.28,134.7 389.31,128.9 389.33,141.4 389.35,140.3 389.38,149.8 389.40,146.4 389.42,127.4 389.45,145.5 389.47,141.5 389.49,125.0 389.51,150.6 389.54,149.1 389.56,138.3 389.58,129.8 389.61,123.1 389.63,145.4 389.65,139.6 389.68,140.3 389.70,134.4 389.72,125.6 390.28,125.1 390.31,124.5 390.33,139.5 390.35,140.0 390.38,150.1 390.40,123.1 390.42,150.6 390.45,141.4 390.47,127.4 390.49,148.3 390.51,144.1 390.54,119.1 390.56,127.2 390.58,147.7 390.61,133.9 390.63,128.3 390.65,144.7 390.68,119.2 390.70,137.0 390.72,117.9 391.28,138.2 391.31,135.9 391.33,145.1 391.35,147.5 391.38,132.2 391.40,127.4 391.42,125.6 391.45,125.3 391.47,120.2 391.49,125.0 391.51,140.3 391.54,135.5 391.56,141.4 391.58,150.4 391.61,148.3 391.63,147.8 391.65,126.0 391.67,150.3 391.70,135.5 391.72,129.0 392.28,130.2 392.31,142.2 392.33,130.0 392.35,148.5 392.38,143.4 392.40,125.3 392.42,137.9 392.44,137.0 392.47,124.1 392.49,150.3 392.51,131.6 392.54,129.4 392.56,144.6 392.58,144.5 392.61,123.9 392.63,129.1 392.65,126.9 392.67,137.2 392.70,141.9 392.72,139.6 393.28,126.2 393.31,105.8 393.33,132.2 393.35,125.4 393.38,137.0 393.40,148.4 393.42,143.8 393.44,132.1 393.47,130.6 393.49,124.3 393.51,144.3 393.54,149.3 393.56,117.9 393.58,133.9 393.61,129.0 393.63,146.2 393.65,109.4 393.67,146.0 393.70,123.5 393.72,142.0 394.28,126.4 394.31,149.1 394.33,123.1 394.35,136.1 394.38,132.2 394.40,119.1 394.42,143.6 394.44,115.9 394.47,136.2 394.49,148.0 394.51,124.2 394.54,143.1 394.56,126.6 394.58,123.1 394.61,147.5 394.63,126.1 394.65,128.4 394.67,127.8 394.70,148.7 394.72,144.9 395.28,142.9 395.31,150.4 395.33,136.9 395.35,136.8 395.38,122.0 395.40,144.6 395.42,141.4 395.44,125.6 395.47,124.2 395.49,145.0 395.51,127.0 395.54,123.1 395.56,148.7 395.58,130.0 395.61,130.4 395.63,127.3 395.65,140.8 395.67,122.8 395.70,132.9 395.72,139.8 396.28,129.8 396.31,137.4 396.33,132.0 396.35,138.6 396.38,138.6 396.40,124.8 396.42,137.1 396.44,132.4 396.47,124.2 396.49,148.2 396.51,135.2 396.54,126.4 396.56,135.2 396.58,128.9 396.61,125.5 396.63,118.4 396.65,143.1 396.67,135.7 396.70,142.8 396.72,100.0 397.28,150.8 397.31,126.6 397.33,132.8 397.35,146.7 397.38,121.8 397.40,140.1 397.42,147.3 397.44,130.0 397.47,134.9 397.49,125.6 397.51,131.8 397.54,134.1 397.56,123.4 397.58,131.0 397.61,123.9 397.63,136.4 397.65,149.1 397.67,149.4 397.70,121.5 397.72,116.9 398.28,134.3 398.31,144.5 398.33,123.5 398.35,126.1 398.38,135.0 398.40,126.8 398.42,141.3 398.44,124.9 398.47,132.0 398.49,143.4 398.51,148.9 398.54,132.3 398.56,144.2 398.58,122.6 398.61,142.1 398.63,114.3 398.65,120.8 398.67,133.6 398.70,145.3 398.72,130.0 399.28,120.6 399.31,150.3 399.33,134.0 399.35,124.1 399.38,127.1 399.40,131.9 399.42,118.8 399.44,137.0 399.47,123.6 399.49,146.6 399.51,148.6 399.54,122.9 399.56,133.7 399.58,134.6 399.61,133.5 399.63,129.1 399.65,137.4 399.67,123.9 399.70,129.7 399.72,116.2 400.28,128.9 400.31,137.8 400.33,119.9 400.35,123.9 400.38,133.6 400.40,147.3 400.42,124.2 400.44,128.6 400.47,139.8 400.49,139.7 400.51,135.6 400.54,131.8 400.56,144.7 400.58,134.1 400.61,132.3 400.63,142.1 400.65,124.9 400.67,126.0 400.70,141.1 400.72,123.9 401.28,125.8 401.31,131.2 401.33,127.4 401.35,143.4 401.38,122.8 401.40,132.9 401.42,131.0 401.44,142.8 401.47,143.9 401.49,146.7 401.51,146.4 401.54,122.6 401.56,122.0 401.58,131.6 401.61,116.8 401.63,144.7 401.65,127.7 401.67,144.9 401.70,136.3 401.72,144.6 402.28,144.6 402.31,123.3 402.33,130.0 402.35,128.7 402.37,133.8 402.40,133.3 402.42,124.5 402.44,142.6 402.47,126.4 402.49,126.4 402.51,143.1 402.54,132.6 402.56,139.1 402.58,146.2 402.60,127.5 402.63,143.6 402.65,134.6 402.67,142.2 402.70,132.7 402.72,145.9 403.28,150.9 403.31,147.7 403.33,148.5 403.35,146.7 403.37,125.6 403.40,129.0 403.42,136.3 403.44,127.1 403.47,124.2 403.49,122.4 403.51,141.2 403.54,126.6 403.56,117.1 403.58,147.7 403.60,132.7 403.63,136.6 403.65,145.1 403.67,140.2 403.70,131.9 403.72,129.4 404.28,129.6 404.31,126.8 404.33,125.1 404.35,137.8 404.37,139.0 404.40,141.5 404.42,127.8 404.44,127.6 404.47,127.4 404.49,120.8 404.51,123.2 404.54,150.8 404.56,144.3 404.58,121.1 404.60,125.3 404.63,132.4 404.65,123.5 404.67,118.1 404.70,142.9 404.72,123.2 405.28,126.6 405.31,136.2 405.33,128.9 405.35,133.2 405.37,143.8 405.40,127.4 405.42,115.8 405.44,145.6 405.47,130.2 405.49,128.1 405.51,123.9 405.54,125.1 405.56,123.1 405.58,124.4 405.60,127.5 405.63,146.2 405.65,135.0 405.67,136.7 405.70,138.3 405.72,125.5 406.28,144.0 406.31,129.1 406.33,133.7 406.35,126.0 406.37,141.7 406.40,147.3 406.42,127.8 406.44,127.7 406.47,120.8 406.49,120.1 406.51,124.1 406.54,124.4 406.56,141.8 406.58,125.9 406.60,120.1 406.63,127.8 406.65,118.7 406.67,120.8 406.70,127.0 406.72,149.9 407.28,125.8 407.31,146.8 407.33,145.6 407.35,147.5 407.37,106.5 407.40,124.0 407.42,139.0 407.44,147.7 407.47,148.9 407.49,149.4 407.51,131.2 407.54,119.7 407.56,149.2 407.58,129.6 407.60,126.1 407.63,130.3 407.65,139.6 407.67,131.2 407.70,110.6 407.72,123.9 408.28,126.4 408.31,124.9 408.33,124.0 408.35,126.1 408.37,150.4 408.40,125.8 408.42,134.2 408.44,128.4 408.47,128.0 408.49,124.4 408.51,139.2 408.54,128.2 408.56,127.6 408.58,137.4 408.60,115.2 408.63,128.8 408.65,118.5 408.67,125.7 408.70,147.4 408.72,122.9 409.28,121.2 409.31,144.1 409.33,135.7 409.35,122.5 409.37,123.9 409.40,147.0 409.42,130.6 409.44,126.6 409.47,147.4 409.49,142.3 409.51,134.4 409.54,127.7 409.56,131.8 409.58,133.5 409.60,118.0 409.63,132.9 409.65,126.3 409.67,142.0 409.70,128.5 409.72,142.7 410.28,138.9 410.31,147.1 410.33,139.1 410.35,127.1 410.37,138.8 410.40,143.9 410.42,147.8 410.44,149.0 410.47,143.1 410.49,139.1 410.51,124.5 410.54,129.3 410.56,146.6 410.58,150.5 410.60,125.1 410.63,144.4 410.65,140.6 410.67,138.2 410.70,123.2 410.72,127.0 411.28,143.5 411.31,130.9 411.33,116.5 411.35,126.4 411.37,146.2 411.40,124.4 411.42,145.2 411.44,145.3 411.47,108.8 411.49,127.5 411.51,129.8 411.54,122.1 411.56,114.8 411.58,140.5 411.60,143.2 411.63,149.8 411.65,142.5 411.67,127.6 411.70,121.2 411.72,133.4 412.28,132.6 412.31,123.0 412.33,130.2 412.35,121.3 412.37,127.0 412.40,146.6 412.42,150.1 412.44,123.7 412.47,122.0 412.49,116.7 412.51,126.6 412.53,147.1 412.56,149.4 412.58,132.1 412.60,144.7 412.63,132.7 412.65,144.6 412.67,148.7 412.70,145.0 412.72,137.6 413.28,129.8 413.30,123.6 413.33,137.1 413.35,124.1 413.37,127.4 413.40,133.5 413.42,128.9 413.44,139.8 413.47,125.1 413.49,130.9 413.51,122.3 413.53,132.3 413.56,129.5 413.58,132.6 413.60,135.8 413.63,132.9 413.65,127.1 413.67,131.6 413.70,127.2 413.72,124.8 414.28,136.3 414.30,149.2 414.33,141.5 414.35,130.0 414.37,126.7 414.40,136.0 414.42,127.6 414.44,142.3 414.47,131.7 414.49,143.2 414.51,122.1 414.53,122.4 414.56,124.0 414.58,124.4 414.60,142.5 414.63,101.4 414.65,105.9 414.67,139.3 414.70,121.0 414.72,136.3 415.28,124.3 415.30,127.3 415.33,138.6 415.35,143.7 415.37,123.3 415.40,126.2 415.42,127.4 415.44,138.8 415.47,143.3 415.49,128.5 415.51,115.8 415.53,124.4 415.56,125.0 415.58,136.5 415.60,138.9 415.63,148.6 415.65,123.6 415.67,128.8 415.70,137.3 415.72,121.0 416.28,110.5 416.30,112.0 416.33,130.7 416.35,137.5 416.37,149.4 416.40,139.0 416.42,147.4 416.44,141.9 416.47,129.0 416.49,117.3 416.51,123.9 416.53,127.8 416.56,147.4 416.58,131.2 416.60,127.3 416.63,134.3 416.65,138.6 416.67,144.5 416.70,148.7 416.72,128.6 417.28,135.6 417.30,145.7 417.33,131.4 417.35,126.3 417.37,132.0 417.40,112.3 417.42,147.4 417.44,129.5 417.47,130.1 417.49,111.1 417.51,149.2 417.53,139.9 417.56,144.7 417.58,137.4 417.60,132.8 417.63,128.1 417.65,129.0 417.67,145.2 417.70,123.5 417.72,128.5 418.28,127.1 418.30,122.3 418.33,120.2 418.35,128.1 418.37,149.4 418.40,124.3 418.42,124.6 418.44,143.0 418.47,146.7 418.49,135.6 418.51,123.7 418.53,144.6 418.56,126.4 418.58,138.0 418.60,148.6 418.63,145.1 418.65,134.4 418.67,133.0 418.70,139.0 418.72,124.5 419.28,138.5 419.30,124.4 419.33,149.7 419.35,138.2 419.37,124.2 419.40,138.3 419.42,116.2 419.44,117.6 419.47,128.4 419.49,146.2 419.51,135.3 419.53,126.3 419.56,148.2 419.58,139.4 419.60,148.9 419.63,132.6 419.65,125.3 419.67,142.2 419.70,130.1 419.72,141.2 420.28,134.2 420.30,127.4 420.33,124.5 420.35,125.4 420.37,140.1 420.40,149.9 420.42,144.1 420.44,138.2 420.47,133.8 420.49,124.3 420.51,149.6 420.53,124.7 420.56,118.5 420.58,126.6 420.60,128.5 420.63,127.7 420.65,139.9 420.67,134.1 420.70,126.2 420.72,146.2 421.28,119.9 421.30,123.3 421.33,143.4 421.35,144.7 421.37,134.8 421.40,127.9 421.42,144.7 421.44,117.3 421.47,115.1 421.49,131.2 421.51,115.0 421.53,113.3 421.56,122.0 421.58,132.8 421.60,139.0 421.63,124.1 421.65,127.5 421.67,129.6 421.70,125.5 421.72,116.6 422.28,87.7 422.30,119.7 422.33,150.7 422.35,123.5 422.37,114.0 422.40,136.1 422.42,133.2 422.44,126.3 422.46,127.7 422.49,130.3 422.51,127.1 422.53,124.4 422.56,124.9 422.58,125.1 422.60,127.7 422.63,147.2 422.65,122.1 422.67,150.2 422.69,138.0 422.72,122.3 423.28,124.3 423.30,142.2 423.33,145.9 423.35,123.7 423.37,126.1 423.40,136.2 423.42,139.4 423.44,137.5 423.46,130.6 423.49,127.2 423.51,125.1 423.53,132.0 423.56,147.0 423.58,149.5 423.60,136.7 423.63,150.7 423.65,146.3 423.67,130.7 423.69,142.3 423.72,134.8 424.28,123.9 424.30,126.0 424.33,125.3 424.35,136.4 424.37,148.5 424.40,134.5 424.42,124.1 424.44,134.3 424.46,123.0 424.49,150.6 424.51,129.7 424.53,128.3 424.56,124.4 424.58,121.3 424.60,128.3 424.63,127.0 424.65,148.7 424.67,140.4 424.69,140.2 424.72,140.5 425.28,128.8 425.30,124.4 425.33,127.6 425.35,147.1 425.37,121.8 425.40,121.9 425.42,132.9 425.44,124.4 425.46,131.3 425.49,147.7 425.51,150.9 425.53,145.2 425.56,123.6 425.58,124.2 425.60,150.0 425.63,149.4 425.65,119.0 425.67,132.4 425.69,150.4 425.72,123.3 426.28,145.0 426.30,149.2 426.33,124.6 426.35,147.8 426.37,138.8 426.40,130.5 426.42,131.4 426.44,148.4 426.46,118.4 426.49,132.2 426.51,118.6 426.53,131.4 426.56,145.3 426.58,146.3 426.60,142.7 426.63,133.4 426.65,125.1 426.67,128.6 426.69,138.8 426.72,122.0 427.28,141.8 427.30,126.1 427.33,142.8 427.35,127.2 427.37,125.1 427.40,140.8 427.42,145.4 427.44,119.4 427.46,135.0 427.49,137.7 427.51,143.0 427.53,134.9 427.56,124.4 427.58,133.2 427.60,125.9 427.63,146.7 427.65,142.1 427.67,122.0 427.69,136.7 427.72,134.0 428.28,126.0 428.30,126.9 428.33,118.8 428.35,149.4 428.37,121.0 428.40,124.6 428.42,148.5 428.44,126.6 428.46,124.0 428.49,118.8 428.51,111.4 428.53,133.1 428.56,126.1 428.58,133.6 428.60,118.6 428.63,125.6 428.65,123.5 428.67,146.1 428.69,142.0 428.72,116.3 429.28,121.3 429.30,117.3 429.33,135.3 429.35,139.3 429.37,133.0 429.40,146.2 429.42,141.3 429.44,143.4 429.46,117.2 429.49,131.7 429.51,143.3 429.53,134.2 429.56,123.4 429.58,127.5 429.60,140.9 429.63,146.8 429.65,136.4 429.67,147.3 429.69,148.2 429.72,131.1 430.28,105.6 430.30,124.1 430.33,142.9 430.35,119.7 430.37,124.0 430.40,142.5 430.42,136.9 430.44,136.6 430.46,137.4 430.49,144.8 430.51,125.3 430.53,132.6 430.56,143.9 430.58,125.2 430.60,118.0 430.63,130.7 430.65,123.7 430.67,129.0 430.69,122.5 430.72,122.5 431.28,144.6 431.30,120.1 431.33,136.8 431.35,122.0 431.37,124.1 431.40,125.9 431.42,134.5 431.44,122.7 431.46,145.6 431.49,126.5 431.51,128.4 431.53,140.5 431.56,116.1 431.58,139.0 431.60,127.4 431.63,126.6 431.65,127.2 431.67,142.7 431.69,141.6 431.72,148.9 432.28,124.7 432.30,128.9 432.33,120.3 432.35,130.3 432.37,119.8 432.40,119.0 432.42,124.8 432.44,132.9 432.46,118.7 432.49,121.0 432.51,127.5 432.53,130.5 432.56,108.6 432.58,136.4 432.60,150.4 432.62,128.4 432.65,121.7 432.67,121.8 432.69,132.6 432.72,138.4 433.28,122.4 433.30,139.1 433.33,136.1 433.35,126.1 433.37,133.8 433.39,138.0 433.42,142.6 433.44,149.1 433.46,126.3 433.49,141.5 433.51,121.8 433.53,122.2 433.56,148.7 433.58,127.0 433.60,124.5 433.62,141.9 433.65,130.3 433.67,117.9 433.69,132.0 433.72,109.9 434.28,138.9 434.30,134.6 434.33,140.8 434.35,102.5 434.37,137.7 434.39,129.9 434.42,128.3 434.44,144.3 434.46,132.7 434.49,125.4 434.51,141.9 434.53,123.5 434.56,140.2 434.58,124.1 434.60,124.0 434.62,141.4 434.65,147.1 434.67,145.6 434.69,123.0 434.72,121.9 435.28,130.1 435.30,121.2 435.33,123.9 435.35,137.3 435.37,147.2 435.39,124.6 435.42,127.5 435.44,132.4 435.46,113.3 435.49,132.8 435.51,138.0 435.53,121.3 435.56,136.7 435.58,127.0 435.60,147.5 435.62,146.7 435.65,121.9 435.67,135.1 435.69,135.0 435.72,120.0 436.28,141.5 436.30,120.1 436.33,131.5 436.35,145.6 436.37,126.7 436.39,147.2 436.42,149.5 436.44,128.7 436.46,125.1 436.49,103.5 436.51,138.3 436.53,137.2 436.56,120.8 436.58,125.0 436.60,126.8 436.62,126.2 436.65,135.4 436.67,148.1 436.69,130.0 436.72,127.6 437.28,119.1 437.30,113.4 437.33,120.6 437.35,145.3 437.37,145.3 437.39,130.6 437.42,138.8 437.44,146.3 437.46,124.3 437.49,124.6 437.51,127.8 437.53,120.9 437.56,131.0 437.58,142.1 437.60,118.7 437.62,135.9 437.65,111.0 437.67,121.3 437.69,133.6 437.72,142.4 438.28,137.0 438.30,141.9 438.33,125.4 438.35,130.8 438.37,126.3 438.39,118.7 438.42,114.9 438.44,121.0 438.46,145.5 438.49,140.2 438.51,149.6 438.53,124.5 438.56,136.7 438.58,124.0 438.60,126.0 438.62,149.5 438.65,124.3 438.67,142.8 438.69,121.0 438.72,120.9 439.28,132.8 439.30,138.0 439.33,125.8 439.35,122.7 439.37,142.8 439.39,119.7 439.42,126.2 439.44,139.3 439.46,148.2 439.49,123.7 439.51,121.8 439.53,125.4 439.56,144.9 439.58,123.1 439.60,129.1 439.62,117.8 439.65,147.6 439.67,132.2 439.69,133.3 439.72,135.8 440.28,132.4 440.30,147.8 440.33,125.8 440.35,125.3 440.37,142.4 440.39,142.8 440.42,145.7 440.44,145.4 440.46,122.8 440.49,143.7 440.51,128.1 440.53,117.4 440.56,124.9 440.58,141.9 440.60,132.1 440.62,125.7 440.65,133.2 440.67,133.3 440.69,125.0 440.72,122.0 441.28,139.3 441.30,138.9 441.33,146.6 441.35,124.4 441.37,130.0 441.39,142.1 441.42,134.0 441.44,107.8 441.46,130.3 441.49,137.4 441.51,142.3 441.53,130.2 441.56,116.1 441.58,148.6 441.60,133.0 441.62,123.2 441.65,125.5 441.67,123.1 441.69,144.1 441.72,134.4 442.28,120.4 442.30,127.0 442.33,145.8 442.35,129.9 442.37,139.7 442.39,126.9 442.42,125.8 442.44,148.2 442.46,122.0 442.49,114.9 442.51,126.1 442.53,132.0 442.56,124.5 442.58,142.8 442.60,120.7 442.62,125.8 442.65,148.7 442.67,126.4 442.69,125.5 442.72,123.8 443.28,121.3 443.30,131.1 443.32,127.2 443.35,149.0 443.37,119.9 443.39,146.1 443.42,146.4 443.44,141.4 443.46,128.0 443.49,149.2 443.51,123.9 443.53,127.3 443.55,127.7 443.58,120.8 443.60,144.4 443.62,124.4 443.65,141.1 443.67,122.9 443.69,125.7 443.72,124.3 444.28,132.4 444.30,130.9 444.32,147.9 444.35,134.7 444.37,140.4 444.39,116.1 444.42,149.0 444.44,127.5 444.46,141.3 444.49,122.0 444.51,126.7 444.53,126.1 444.55,116.5 444.58,125.5 444.60,122.1 444.62,134.7 444.65,133.5 444.67,145.3 444.69,144.3 444.72,141.8 445.28,130.3 445.30,118.0 445.32,131.4 445.35,135.7 445.37,142.9 445.39,143.6 445.42,142.6 445.44,141.9 445.46,119.2 445.49,140.1 445.51,141.5 445.53,143.0 445.55,133.4 445.58,121.6 445.60,122.7 445.62,130.5 445.65,130.6 445.67,147.4 445.69,126.0 445.72,137.4 446.28,146.9 446.30,114.5 446.32,130.5 446.35,125.6 446.37,122.8 446.39,124.7 446.42,139.1 446.44,150.6 446.46,132.1 446.49,135.3 446.51,148.2 446.53,131.0 446.55,149.5 446.58,125.4 446.60,130.2 446.62,120.7 446.65,127.8 446.67,121.2 446.69,74.0 446.72,64.6 447.28,70.9 447.30,73.2 447.32,72.5 447.35,72.1 447.37,67.1 447.39,69.2 447.42,70.1 447.44,71.3 447.46,70.1 447.49,64.8 447.51,68.9 447.53,72.2 447.55,47.8 447.58,62.7 447.60,68.2 447.62,65.4 447.65,70.7 447.67,65.9 447.69,70.8 447.72,68.8 448.28,61.8 448.30,69.6 448.32,65.5 448.35,64.7 448.37,68.1 448.39,60.4 448.42,64.6 448.44,68.4 448.46,61.1 448.49,63.7 448.51,66.3 448.53,64.1 448.55,61.7 448.58,61.9 448.60,62.1 448.62,66.2 448.65,64.8 448.67,61.2 448.69,54.9 448.72,62.9 449.28,61.9 449.30,59.2 449.32,60.4 449.35,53.8 449.37,54.7 449.39,54.9 449.42,60.4 449.44,57.4 449.46,52.2 449.49,54.3 449.51,58.4 449.53,50.0 449.55,48.7 449.58,49.9 449.60,51.3 449.62,55.7 449.65,53.0 449.67,51.5 449.69,49.5 449.72,49.4 450.28,53.5 450.30,47.6 450.32,45.0 450.35,52.5 450.37,54.6 450.39,51.3 450.42,51.8 450.44,46.0 450.46,54.1 450.49,48.8 450.51,48.7 450.53,57.0 450.55,29.9 450.58,52.9 450.60,50.2 450.62,51.5 450.65,55.3 450.67,51.8 450.69,57.9 450.72,125.5 451.28,120.1 451.30,127.3 451.32,137.1 451.35,144.9 451.37,125.2 451.39,147.1 451.42,149.7 451.44,139.9 451.46,126.4 451.49,119.0 451.51,119.5 451.53,124.3 451.55,120.5 451.58,148.1 451.60,146.5 451.62,123.2 451.65,144.7 451.67,122.3 451.69,147.3 451.72,150.7 452.28,148.1 452.30,123.3 452.32,134.2 452.35,141.3 452.37,122.6 452.39,119.0 452.42,135.5 452.44,135.0 452.46,137.1 452.49,137.9 452.51,131.5 452.53,149.1 452.55,121.4 452.58,143.7 452.60,150.8 452.62,121.5 452.65,140.6 452.67,117.6 452.69,131.1 452.72,125.4 453.28,139.0 453.30,131.4 453.32,127.0 453.35,126.9 453.37,120.6 453.39,125.0 453.42,136.9 453.44,149.9 453.46,149.0 453.48,123.5 453.51,135.6 453.53,129.1 453.55,147.3 453.58,120.5 453.60,122.6 453.62,129.7 453.65,126.9 453.67,135.1 453.69,116.2 453.71,147.8 454.28,124.6 454.30,127.5 454.32,124.3 454.35,144.1 454.37,131.5 454.39,131.2 454.42,135.1 454.44,129.1 454.46,133.0 454.48,122.3 454.51,129.6 454.53,98.2 454.55,125.7 454.58,123.5 454.60,123.8 454.62,142.0 454.65,123.6 454.67,126.8 454.69,120.4 454.71,106.3 455.28,140.8 455.30,143.5 455.32,146.0 455.35,124.6 455.37,144.0 455.39,127.6 455.42,147.6 455.44,129.2 455.46,136.6 455.48,129.0 455.51,147.7 455.53,125.2 455.55,136.5 455.58,140.7 455.60,127.6 455.62,129.9 455.65,150.5 455.67,137.0 455.69,138.9 455.71,149.7 456.28,140.0 456.30,144.3 456.32,115.9 456.35,121.5 456.37,125.6 456.39,144.2 456.42,120.3 456.44,150.0 456.46,131.8 456.48,146.4 456.51,120.4 456.53,129.9 456.55,126.2 456.58,147.7 456.60,112.1 456.62,105.9 456.65,121.9 456.67,114.2 456.69,130.7 456.71,125.0 457.28,128.7 457.30,139.7 457.32,131.1 457.35,145.0 457.37,147.7 457.39,124.4 457.42,133.9 457.44,137.8 457.46,115.9 457.48,122.0 457.51,131.2 457.53,115.8 457.55,138.2 457.58,128.1 457.60,141.2 457.62,141.5 457.65,133.1 457.67,127.9 457.69,143.4 457.71,124.3 458.28,145.2 458.30,132.0 458.32,125.1 458.35,122.8 458.37,125.7 458.39,126.7 458.42,144.3 458.44,147.3 458.46,137.8 458.48,144.1 458.51,122.9 458.53,124.4 458.55,148.5 458.58,121.0 458.60,136.5 458.62,141.8 458.65,148.5 458.67,143.8 458.69,141.2 458.71,124.0 459.28,107.8 459.30,147.5 459.32,134.7 459.35,149.8 459.37,141.1 459.39,113.3 459.42,143.6 459.44,129.5 459.46,148.1 459.48,121.6 459.51,113.6 459.53,149.2 459.55,143.3 459.58,127.3 459.60,128.5 459.62,139.8 459.65,127.4 459.67,130.5 459.69,125.2 459.71,121.9 460.28,124.3 460.30,150.0 460.32,132.5 460.35,134.2 460.37,104.9 460.39,128.0 460.42,123.4 460.44,125.1 460.46,146.6 460.48,125.2 460.51,148.3 460.53,128.0 460.55,129.0 460.58,125.2 460.60,125.5 460.62,127.2 460.65,122.9 460.67,125.4 460.69,138.8 460.71,129.7 461.28,131.6 461.30,107.7 461.32,121.2 461.35,110.5 461.37,137.3 461.39,120.6 461.42,140.0 461.44,150.4 461.46,123.4 461.48,135.0 461.51,133.3 461.53,126.3 461.55,125.4 461.58,137.1 461.60,133.0 461.62,139.6 461.65,145.4 461.67,128.5 461.69,149.0 461.71,126.1 462.28,144.6 462.30,146.1 462.32,136.5 462.35,140.0 462.37,119.1 462.39,137.4 462.42,122.2 462.44,139.9 462.46,136.5 462.48,148.4 462.51,142.2 462.53,138.0 462.55,136.5 462.58,140.6 462.60,125.5 462.62,149.7 462.65,123.4 462.67,124.3 462.69,134.3 462.71,124.7 463.28,121.3 463.30,123.7 463.32,125.1 463.35,126.0 463.37,139.0 463.39,109.9 463.42,125.2 463.44,125.9 463.46,128.0 463.48,122.7 463.51,115.8 463.53,142.8 463.55,122.1 463.58,134.8 463.60,123.1 463.62,122.3 463.64,149.9 463.67,119.7 463.69,134.6 463.71,122.0 464.28,149.3 464.30,136.3 464.32,135.8 464.35,123.2 464.37,133.9 464.39,139.0 464.41,125.8 464.44,122.7 464.46,126.9 464.48,139.4 464.51,148.1 464.53,123.8 464.55,144.9 464.58,131.7 464.60,128.1 464.62,143.0 464.64,138.1 464.67,126.0 464.69,144.2 464.71,122.3 465.28,144.2 465.30,122.5 465.32,132.0 465.35,115.6 465.37,131.0 465.39,136.2 465.41,124.8 465.44,130.2 465.46,112.6 465.48,123.0 465.51,122.2 465.53,150.8 465.55,129.2 465.58,148.5 465.60,150.4 465.62,119.4 465.64,148.2 465.67,123.5 465.69,144.9 465.71,138.0 466.28,125.3 466.30,119.7 466.32,126.2 466.35,149.5 466.37,121.1 466.39,126.4 466.41,129.1 466.44,125.6 466.46,140.5 466.48,121.7 466.51,126.6 466.53,126.0 466.55,127.4 466.58,133.9 466.60,144.8 466.62,111.8 466.64,146.1 466.67,124.4 466.69,131.4 466.71,107.9 467.28,137.2 467.30,148.7 467.32,144.5 467.35,125.9 467.37,126.7 467.39,121.7 467.41,125.8 467.44,148.0 467.46,120.7 467.48,115.6 467.51,126.6 467.53,125.1 467.55,123.1 467.58,136.7 467.60,129.6 467.62,142.1 467.64,150.3 467.67,115.7 467.69,128.5 467.71,131.0 468.28,150.1 468.30,144.2 468.32,141.8 468.35,127.3 468.37,126.3 468.39,150.2 468.41,127.1 468.44,136.0 468.46,123.7 468.48,118.5 468.51,123.7 468.53,141.4 468.55,122.9 468.58,141.2 468.60,120.7 468.62,135.0 468.64,143.5 468.67,124.2 468.69,120.8 468.71,125.5 469.28,122.5 469.30,124.1 469.32,121.7 469.35,143.8 469.37,123.5 469.39,132.0 469.41,143.2 469.44,121.2 469.46,131.6 469.48,126.0 469.51,125.2 469.53,112.3 469.55,123.3 469.58,117.7 469.60,142.8 469.62,134.6 469.64,116.9 469.67,150.9 469.69,138.0 469.71,140.4 470.28,132.2 470.30,136.4 470.32,122.7 470.35,135.3 470.37,146.8 470.39,117.9 470.41,130.4 470.44,124.5 470.46,131.2 470.48,116.0 470.51,138.6 470.53,121.6 470.55,135.3 470.58,144.5 470.60,144.4 470.62,117.4 470.64,137.8 470.67,124.5 470.69,120.8 470.71,120.8 471.28,126.8 471.30,140.4 471.32,147.9 471.35,122.8 471.37,130.1 471.39,110.5 471.41,121.3 471.44,133.9 471.46,146.4 471.48,128.8 471.51,137.3 471.53,139.8 471.55,130.4 471.58,148.5 471.60,148.8 471.62,126.8 471.64,127.8 471.67,122.2 471.69,148.1 471.71,111.3 472.28,140.3 472.30,127.8 472.32,143.5 472.35,129.0 472.37,147.1 472.39,130.0 472.41,150.9 472.44,139.0 472.46,108.0 472.48,128.8 472.51,132.5 472.53,134.8 472.55,139.7 472.58,123.4 472.60,132.6 472.62,134.0 472.64,147.2 472.67,134.0 472.69,119.1 472.71,131.8 473.28,135.0 473.30,123.9 473.32,119.3 473.35,145.4 473.37,141.7 473.39,125.5 473.41,111.1 473.44,146.0 473.46,142.2 473.48,141.4 473.51,132.0 473.53,122.5 473.55,133.4 473.58,146.8 473.60,126.0 473.62,126.2 473.64,132.0 473.67,134.5 473.69,143.1 473.71,125.1 474.28,137.3 474.30,148.4 474.32,120.9 474.34,147.1 474.37,65.7 474.39,132.8 474.41,124.8 474.44,146.6 474.46,126.6 474.48,144.5 474.51,138.9 474.53,141.2 474.55,146.1 474.57,124.9 474.60,109.2 474.62,138.7 474.64,116.1 474.67,127.7 474.69,139.1 474.71,122.5 475.28,130.8 475.30,123.5 475.32,131.4 475.34,147.4 475.37,106.9 475.39,139.4 475.41,122.9 475.44,122.2 475.46,140.8 475.48,132.0 475.51,125.8 475.53,134.7 475.55,119.1 475.57,136.3 475.60,130.2 475.62,148.4 475.64,119.1 475.67,125.5 475.69,148.2 475.71,118.5 476.28,139.7 476.30,135.8 476.32,135.5 476.34,122.2 476.37,131.1 476.39,146.9 476.41,120.3 476.44,148.5 476.46,125.4 476.48,142.9 476.51,135.0 476.53,144.0 476.55,120.9 476.57,134.2 476.60,124.6 476.62,121.1 476.64,122.5 476.67,138.4 476.69,144.3 476.71,138.1 477.28,123.9 477.30,140.3 477.32,131.6 477.34,132.5 477.37,145.6 477.39,122.1 477.41,146.0 477.44,128.0 477.46,131.6 477.48,124.0 477.51,131.5 477.53,124.8 477.55,119.9 477.57,125.4 477.60,131.2 477.62,126.2 477.64,125.7 477.67,142.5 477.69,148.0 477.71,122.8 478.28,125.1 478.30,126.7 478.32,123.7 478.34,138.5 478.37,129.3 478.39,137.6 478.41,135.4 478.44,150.3 478.46,122.9 478.48,125.6 478.51,141.6 478.53,146.9 478.55,149.1 478.57,146.0 478.60,127.5 478.62,144.4 478.64,123.5 478.67,139.6 478.69,120.2 478.71,137.1 479.28,138.7 479.30,123.9 479.32,123.9 479.34,128.3 479.37,142.9 479.39,147.5 479.41,139.8 479.44,130.7 479.46,121.7 479.48,130.7 479.51,130.4 479.53,121.7 479.55,130.9 479.57,138.0 479.60,139.3 479.62,146.0 479.64,115.2 479.67,127.7 479.69,122.3 479.71,134.2 480.28,120.5 480.30,125.0 480.32,126.9 480.34,116.3 480.37,137.9 480.39,128.2 480.41,142.0 480.44,125.5 480.46,149.6 480.48,117.3 480.51,146.9 480.53,135.6 480.55,126.6 480.57,127.6 480.60,124.6 480.62,139.4 480.64,133.6 480.67,122.3 480.69,127.5 480.71,148.4 481.28,119.2 481.30,135.9 481.32,122.7 481.34,119.1 481.37,131.4 481.39,127.3 481.41,150.3 481.44,129.3 481.46,149.6 481.48,134.8 481.51,117.9 481.53,120.8 481.55,123.2 481.57,126.5 481.60,126.9 481.62,139.1 481.64,144.1 481.67,143.2 481.69,150.2 481.71,134.2 482.28,150.5 482.30,120.6 482.32,121.0 482.34,129.7 482.37,129.5 482.39,124.1 482.41,120.3 482.44,125.7 482.46,128.0 482.48,132.5 482.51,123.6 482.53,148.1 482.55,137.3 482.57,133.1 482.60,142.0 482.62,125.5 482.64,125.4 482.67,126.6 482.69,112.5 482.71,141.6 483.28,123.8 483.30,133.5 483.32,125.1 483.34,150.5 483.37,128.5 483.39,142.7 483.41,123.5 483.44,125.5 483.46,127.3 483.48,128.8 483.51,132.4 483.53,133.4 483.55,118.2 483.57,130.6 483.60,132.0 483.62,100.7 483.64,128.8 483.67,146.6 483.69,128.3 483.71,130.7 484.28,145.5 484.30,138.9 484.32,138.3 484.34,127.5 484.37,136.3 484.39,137.4 484.41,117.0 484.44,145.9 484.46,132.0 484.48,147.7 484.50,134.7 484.53,150.9 484.55,125.8 484.57,131.4 484.60,131.8 484.62,145.2 484.64,138.9 484.67,140.4 484.69,127.7 484.71,114.7 485.27,130.6 485.30,122.9 485.32,124.3 485.34,144.6 485.37,119.0 485.39,125.9 485.41,149.3 485.44,142.3 485.46,144.2 485.48,107.9 485.50,126.5 485.53,126.5 485.55,127.7 485.57,125.9 485.60,127.8 485.62,127.2 485.64,145.2 485.67,134.1 485.69,142.6 485.71,126.0 486.27,104.2 486.30,127.2 486.32,147.9 486.34,124.8 486.37,146.9 486.39,132.1 486.41,127.0 486.44,123.6 486.46,122.5 486.48,140.9 486.50,146.6 486.53,128.3 486.55,140.6 486.57,119.5 486.60,148.6 486.62,125.7 486.64,140.5 486.67,112.1 486.69,145.8 486.71,127.1 487.27,126.4 487.30,116.5 487.32,128.5 487.34,127.2 487.37,142.6 487.39,130.7 487.41,123.1 487.44,140.4 487.46,122.7 487.48,120.2 487.50,134.9 487.53,143.9 487.55,146.8 487.57,143.4 487.60,128.1 487.62,146.4 487.64,139.9 487.67,136.3 487.69,145.2 487.71,135.7 488.27,139.8 488.30,125.1 488.32,133.7 488.34,134.4 488.37,124.5 488.39,130.5 488.41,124.4 488.44,136.1 488.46,123.6 488.48,126.9 488.50,149.6 488.53,125.3 488.55,143.5 488.57,142.3 488.60,123.0 488.62,123.3 488.64,126.2 488.67,126.0 488.69,125.2 488.71,129.1 489.27,132.0 489.30,132.1 489.32,146.2 489.34,131.5 489.37,142.0 489.39,136.3 489.41,124.0 489.44,136.4 489.46,126.7 489.48,124.6 489.50,141.6 489.53,128.4 489.55,138.7 489.57,140.7 489.60,108.2 489.62,136.1 489.64,133.0 489.67,139.2 489.69,131.9 489.71,140.0 490.27,149.8 490.30,138.0 490.32,143.9 490.34,134.9 490.37,117.1 490.39,126.1 490.41,122.3 490.44,121.5 490.46,125.7 490.48,144.8 490.50,124.4 490.53,136.9 490.55,125.5 490.57,146.8 490.60,125.3 490.62,123.4 490.64,127.5 490.67,126.4 490.69,120.2 490.71,123.7 491.27,126.3 491.30,114.4 491.32,136.8 491.34,125.5 491.37,120.2 491.39,137.8 491.41,135.9 491.44,150.2 491.46,126.0 491.48,123.1 491.50,141.1 491.53,124.9 491.55,134.7 491.57,124.3 491.60,128.9 491.62,126.6 491.64,124.5 491.67,128.1 491.69,141.2 491.71,124.2 492.27,144.6 492.30,123.3 492.32,134.5 492.34,124.3 492.37,136.1 492.39,141.3 492.41,132.5 492.44,136.1 492.46,129.2 492.48,124.5 492.50,136.5 492.53,129.8 492.55,120.6 492.57,114.3 492.60,134.8 492.62,141.1 492.64,150.8 492.67,127.3 492.69,134.8 492.71,128.3 493.27,123.1 493.30,126.4 493.32,123.4 493.34,119.0 493.37,141.5 493.39,132.0 493.41,124.8 493.44,131.5 493.46,132.6 493.48,123.1 493.50,138.9 493.53,128.8 493.55,137.0 493.57,123.9 493.60,136.8 493.62,124.3 493.64,115.7 493.67,141.1 493.69,125.4 493.71,142.1 494.27,129.4 494.30,127.9 494.32,150.9 494.34,127.6 494.37,123.1 494.39,118.4 494.41,131.8 494.44,126.4 494.46,148.1 494.48,148.5 494.50,133.9 494.53,106.6 494.55,150.6 494.57,136.3 494.60,145.6 494.62,124.1 494.64,132.0 494.66,138.5 494.69,122.7 494.71,145.9 495.27,121.8 495.30,127.4 495.32,112.8 495.34,138.0 495.37,128.4 495.39,116.3 495.41,134.7 495.43,132.2 495.46,106.8 495.48,150.5 495.50,128.6 495.53,130.4 495.55,126.0 495.57,123.6 495.60,120.0 495.62,132.6 495.64,145.8 495.66,137.6 495.69,123.7 495.71,139.3 496.27,93.1 496.30,125.0 496.32,137.5 496.34,128.7 496.37,127.2 496.39,145.5 496.41,130.4 496.43,135.2 496.46,127.8 496.48,138.3 496.50,121.7 496.53,129.9 496.55,142.7 496.57,139.0 496.60,127.7 496.62,136.9 496.64,137.2 496.66,120.4 496.69,143.5 496.71,137.7 497.27,141.4 497.30,127.8 497.32,134.7 497.34,142.8 497.37,128.4 497.39,125.4 497.41,140.9 497.43,126.5 497.46,126.4 497.48,126.9 497.50,137.8 497.53,123.6 497.55,126.8 497.57,146.8 497.60,138.7 497.62,131.3 497.64,135.4 497.66,127.6 497.69,126.8 497.71,127.0 498.27,126.4 498.30,126.2 498.32,139.8 498.34,127.1 498.37,124.6 498.39,148.1 498.41,138.1 498.43,127.6 498.46,141.7 498.48,122.7 498.50,142.5 498.53,122.9 498.55,118.2 498.57,134.9 498.60,125.4 498.62,123.9 498.64,127.2 498.66,115.6 498.69,129.1 498.71,139.3 499.27,146.8 499.30,135.7 499.32,126.6 499.34,140.8 499.37,131.8 499.39,134.0 499.41,122.7 499.43,125.5 499.46,121.9 499.48,123.8 499.50,142.9 499.53,132.5 499.55,139.0 499.57,135.1 499.60,103.3 499.62,123.3 499.64,124.0 499.66,116.6 499.69,149.6 499.71,144.7 500.27,120.0 500.30,131.7 500.32,117.5 500.34,150.5 500.37,135.5 500.39,120.9 500.41,83.5 500.43,125.6 500.46,126.0 500.48,132.0 500.50,128.1 500.53,147.5 500.55,148.1 500.57,142.5 500.60,122.9 500.62,149.6 500.64,117.8 500.66,137.1 500.69,124.0 500.71,136.1 501.27,120.2 501.30,135.6 501.32,121.3 501.34,128.0 501.37,132.4 501.39,123.1 501.41,143.7 501.43,150.6 501.46,126.6 501.48,146.9 501.50,132.5 501.53,117.5 501.55,147.6 501.57,148.6 501.60,135.5 501.62,137.2 501.64,123.0 501.66,130.3 501.69,132.7 501.71,112.0 502.27,131.2 502.30,127.5 502.32,128.3 502.34,130.6 502.37,150.7 502.39,122.9 502.41,129.6 502.43,120.1 502.46,145.0 502.48,122.7 502.50,148.8 502.53,130.6 502.55,144.3 502.57,147.7 502.60,138.2 502.62,132.3 502.64,143.6 502.66,131.7 502.69,125.3 502.71,129.2 503.27,122.6 503.30,138.9 503.32,127.9 503.34,145.8 503.37,144.2 503.39,147.2 503.41,141.0 503.43,118.3 503.46,127.5 503.48,113.2 503.50,142.0 503.53,122.2 503.55,144.4 503.57,122.5 503.60,141.9 503.62,145.1 503.64,131.7 503.66,130.4 503.69,141.2 503.71,124.0 504.27,148.3 504.30,144.4 504.32,135.6 504.34,129.0 504.37,126.4 504.39,134.0 504.41,149.5 504.43,123.9 504.46,107.1 504.48,143.1 504.50,149.4 504.53,128.5 504.55,138.4 504.57,142.1 504.59,140.9 504.62,144.6 504.64,148.9 504.66,133.4 504.69,115.3 504.71,143.2 505.27,149.4 505.30,146.4 505.32,149.8 505.34,126.3 505.36,131.4 505.39,123.1 505.41,147.1 505.43,129.9 505.46,127.1 505.48,129.2 505.50,148.2 505.53,133.3 505.55,146.1 505.57,114.2 505.59,135.0 505.62,113.9 505.64,127.8 505.66,129.4 505.69,140.6 505.71,119.1 506.27,125.5 506.30,124.3 506.32,126.6 506.34,146.2 506.36,121.7 506.39,110.4 506.41,123.4 506.43,136.2 506.46,137.4 506.48,145.5 506.50,113.2 506.53,138.9 506.55,139.6 506.57,141.8 506.59,142.6 506.62,122.9 506.64,130.4 506.66,136.3 506.69,116.7 506.71,141.8 507.27,127.3 507.30,138.4 507.32,137.0 507.34,131.6 507.36,116.3 507.39,140.9 507.41,132.9 507.43,147.4 507.46,126.3 507.48,134.8 507.50,135.4 507.53,123.5 507.55,125.6 507.57,150.7 507.59,136.7 507.62,124.1 507.64,149.3 507.66,121.8 507.69,130.8 507.71,126.8 508.27,138.7 508.30,123.7 508.32,121.9 508.34,123.6 508.36,147.6 508.39,124.0 508.41,134.8 508.43,144.9 508.46,149.4 508.48,138.5 508.50,133.3 508.53,135.2 508.55,123.3 508.57,126.4 508.59,121.4 508.62,121.7 508.64,133.2 508.66,125.7 508.69,135.3 508.71,123.8 509.27,142.5 509.30,124.4 509.32,125.6 509.34,128.7 509.36,127.6 509.39,126.1 509.41,146.2 509.43,121.6 509.46,124.3 509.48,115.0 509.50,143.5 509.53,114.0 509.55,132.7 509.57,150.4 509.59,123.3 509.62,113.5 509.64,122.8 509.66,149.3 509.69,109.2 509.71,130.8 510.27,105.6 510.30,123.0 510.32,150.7 510.34,138.8 510.36,126.7 510.39,131.3 510.41,127.9 510.43,139.6 510.46,134.7 510.48,150.3 510.50,134.8 510.53,137.5 510.55,137.1 510.57,144.9 510.59,117.7 510.62,137.6 510.64,123.4 510.66,134.3 510.69,132.5 510.71,149.3 511.27,131.6 511.30,128.5 511.32,117.5 511.34,122.7 511.36,122.4 511.39,126.2 511.41,124.4 511.43,125.3 511.46,135.5 511.48,139.1 511.50,134.9 511.53,134.7 511.55,139.0 511.57,132.3 511.59,132.0 511.62,124.0 511.64,94.4 511.66,121.2 511.69,133.4 511.71,126.0 512.27,146.1 512.30,126.5 512.32,111.2 512.34,142.6 512.36,131.0 512.39,138.7 512.41,147.3 512.43,133.5 512.46,147.2 512.48,127.2 512.50,125.5 512.53,130.1 512.55,136.7 512.57,130.5 512.59,144.2 512.62,131.9 512.64,144.3 512.66,149.3 512.69,134.7 512.71,125.9 513.27,112.0 513.30,126.3 513.32,130.9 513.34,131.0 513.36,148.1 513.39,139.0 513.41,136.6 513.43,144.2 513.46,135.2 513.48,142.8 513.50,132.3 513.53,138.9 513.55,118.4 513.57,125.3 513.59,141.7 513.62,140.2 513.64,126.4 513.66,142.0 513.69,123.0 513.71,140.5 514.27,125.2 514.30,126.4 514.32,124.7 514.34,117.3 514.36,128.2 514.39,116.3 514.41,136.0 514.43,127.3 514.46,143.9 514.48,150.4 514.50,136.4 514.53,141.3 514.55,132.4 514.57,122.2 514.59,150.5 514.62,134.5 514.64,144.5 514.66,133.5 514.69,127.7 514.71,144.0 515.27,124.2 515.29,148.3 515.32,137.1 515.34,126.0 515.36,146.4 515.39,133.9 515.41,139.1 515.43,132.7 515.46,136.5 515.48,141.3 515.50,123.8 515.52,119.5 515.55,138.1 515.57,121.0 515.59,126.2 515.62,149.8 515.64,148.8 515.66,145.6 515.69,123.9 515.71,140.0 516.27,125.1 516.29,131.8 516.32,150.8 516.34,145.4 516.36,149.0 516.39,133.5 516.41,124.2 516.43,132.1 516.46,127.8 516.48,123.6 516.50,139.2 516.52,127.8 516.55,146.3 516.57,125.1 516.59,133.3 516.62,143.9 516.64,137.8 516.66,134.0 516.69,143.7 516.71,146.4 517.27,125.9 517.29,149.5 517.32,127.5 517.34,129.0 517.36,117.1 517.39,129.4 517.41,106.9 517.43,131.4 517.46,129.6 517.48,150.2 517.50,133.5 517.52,131.0 517.55,142.1 517.57,148.1 517.59,136.3 517.62,146.8 517.64,126.3 517.66,141.6 517.69,117.9 517.71,143.9 518.27,135.4 518.29,122.5 518.32,122.3 518.34,126.2 518.36,135.0 518.39,137.8 518.41,129.0 518.43,140.1 518.46,129.4 518.48,129.5 518.50,121.6 518.52,135.2 518.55,111.5 518.57,147.1 518.59,146.6 518.62,126.1 518.64,147.3 518.66,146.9 518.69,125.1 518.71,124.2 519.27,141.3 519.29,147.9 519.32,126.8 519.34,125.1 519.36,131.2 519.39,123.0 519.41,110.8 519.43,149.4 519.46,131.1 519.48,134.0 519.50,139.1 519.52,139.7 519.55,128.2 519.57,129.3 519.59,133.9 519.62,126.1 519.64,144.0 519.66,133.6 519.69,141.7 519.71,133.8 520.27,109.4 520.29,139.9 520.32,130.1 520.34,127.6 520.36,118.5 520.39,127.1 520.41,128.9 520.43,125.4 520.46,137.8 520.48,137.2 520.50,146.0 520.52,129.6 520.55,149.6 520.57,117.2 520.59,121.4 520.62,150.4 520.64,143.3 520.66,129.9 520.69,145.4 520.71,149.5 521.27,144.1 521.29,114.4 521.32,134.6 521.34,134.0 521.36,149.3 521.39,142.0 521.41,141.8 521.43,147.2 521.46,122.9 521.48,147.8 521.50,144.1 521.52,142.7 521.55,137.9 521.57,113.7 521.59,124.1 521.62,124.9 521.64,136.9 521.66,128.6 521.69,137.8 521.71,141.9 522.27,147.2 522.29,127.8 522.32,128.2 522.34,121.9 522.36,148.5 522.39,148.0 522.41,135.1 522.43,146.8 522.46,101.4 522.48,145.7 522.50,123.3 522.52,145.2 522.55,134.9 522.57,127.0 522.59,128.4 522.62,133.9 522.64,139.3 522.66,137.4 522.69,124.3 522.71,137.2 523.27,133.7 523.29,128.0 523.32,128.8 523.34,150.9 523.36,145.1 523.39,127.0 523.41,133.7 523.43,129.0 523.46,126.4 523.48,129.3 523.50,135.8 523.52,126.5 523.55,127.3 523.57,133.0 523.59,146.9 523.62,125.8 523.64,124.3 523.66,127.1 523.69,150.1 523.71,130.5 524.27,127.5 524.29,145.7 524.32,119.1 524.34,144.9 524.36,137.1 524.39,125.2 524.41,126.5 524.43,127.5 524.46,123.2 524.48,139.7 524.50,127.8 524.52,94.0 524.55,126.6 524.57,132.5 524.59,145.7 524.62,122.1 524.64,147.1 524.66,149.2 524.69,133.6 524.71,136.6 525.27,136.1 525.29,127.2 525.32,145.1 525.34,146.6 525.36,121.6 525.39,134.9 525.41,123.9 525.43,133.3 525.45,124.8 525.48,144.6 525.50,144.0 525.52,133.5 525.55,123.2 525.57,133.2 525.59,127.2 525.62,147.2 525.64,123.7 525.66,112.3 525.68,110.7 525.71,145.2 526.27,124.7 526.29,134.2 526.32,128.1 526.34,127.3 526.36,135.3 526.39,142.5 526.41,121.6 526.43,133.2 526.45,135.6 526.48,141.3 526.50,139.9 526.52,123.5 526.55,126.0 526.57,146.3 526.59,141.9 526.62,148.4 526.64,139.5 526.66,149.3 526.68,150.7 526.71,119.5 527.27,129.5 527.29,127.6 527.32,127.8 527.34,126.8 527.36,124.5 527.39,127.8 527.41,147.9 527.43,143.8 527.45,127.6 527.48,123.2 527.50,131.2 527.52,126.9 527.55,149.1 527.57,138.1 527.59,116.1 527.62,139.8 527.64,124.2 527.66,137.8 527.68,123.2 527.71,136.3 528.27,123.7 528.29,139.8 528.32,124.5 528.34,130.7 528.36,121.5 528.39,125.6 528.41,123.9 528.43,136.5 528.45,147.4 528.48,137.9 528.50,149.8 528.52,116.6 528.55,126.0 528.57,145.0 528.59,130.6 528.62,149.7 528.64,123.5 528.66,143.2 528.68,119.7 528.71,123.8 529.27,127.6 529.29,128.3 529.32,124.0 529.34,149.4 529.36,130.7 529.39,149.7 529.41,138.2 529.43,140.5 529.45,125.2 529.48,130.9 529.50,124.3 529.52,149.9 529.55,123.9 529.57,125.2 529.59,150.6 529.62,132.2 529.64,146.8 529.66,141.0 529.68,127.3 529.71,130.2 530.27,143.7 530.29,146.1 530.32,124.4 530.34,126.3 530.36,124.9 530.39,132.1 530.41,132.6 530.43,128.2 530.45,132.8 530.48,137.2 530.50,127.9 530.52,146.2 530.55,133.7 530.57,121.8 530.59,138.3 530.62,126.8 530.64,121.5 530.66,141.3 530.68,137.5 530.71,120.5 531.27,147.4 531.29,122.8 531.32,129.5 531.34,142.4 531.36,129.6 531.39,125.4 531.41,133.0 531.43,136.0 531.45,124.2 531.48,144.5 531.50,126.5 531.52,127.8 531.55,116.8 531.57,134.8 531.59,124.6 531.62,142.5 531.64,127.4 531.66,129.8 531.68,142.6 531.71,131.1 532.27,149.9 532.29,119.1 532.32,132.3 532.34,110.8 532.36,126.7 532.39,139.4 532.41,137.1 532.43,136.6 532.45,128.2 532.48,127.4 532.50,124.1 532.52,123.4 532.55,117.1 532.57,136.6 532.59,129.0 532.62,119.5 532.64,134.5 532.66,140.5 532.68,129.6 532.71,121.4 533.27,133.4 533.29,126.1 533.32,122.2 533.34,134.7 533.36,123.8 533.39,127.6 533.41,129.6 533.43,118.5 533.45,146.5 533.48,146.7 533.50,136.9 533.52,125.2 533.55,115.2 533.57,142.8 533.59,121.1 533.62,147.3 533.64,122.8 533.66,123.2 533.68,123.0 533.71,144.6 534.27,150.0 534.29,121.2 534.32,124.0 534.34,131.5 534.36,148.1 534.39,126.7 534.41,110.8 534.43,150.3 534.45,138.0 534.48,144.8 534.50,147.4 534.52,110.9 534.55,138.8 534.57,117.9 534.59,127.2 534.62,119.9 534.64,141.2 534.66,123.8 534.68,141.9 534.71,126.3 535.27,135.5 535.29,147.1 535.32,139.5 535.34,129.4 535.36,121.3 535.39,142.5 535.41,121.0 535.43,123.7 535.45,118.6 535.48,123.4 535.50,126.6" fill="none" stroke="#1d76b8" stroke-width="0.35" stroke-linejoin="round"/>
<rect x="62.55" y="128.25" width="472.95" height="22.70" fill="#1d76b8"/>
<polygon points="150.00,150.95 150.00,62.0 151.20,56.6 152.00,53.9 152.40,51.2 153.10,54.6 154.45,61.3 154.45,150.95" fill="#1d76b8"/>
<polygon points="264.30,150.95 264.30,72.1 265.10,68.7 265.90,59.3 266.60,47.1 267.00,44.4 267.60,56.6 268.30,60.6 269.00,64.7 269.00,150.95" fill="#1d76b8"/>
<polygon points="282.40,150.95 282.40,73.4 283.20,68.7 284.20,62.0 285.20,56.6 285.90,53.9 286.40,62.0 286.75,64.7 286.75,150.95" fill="#1d76b8"/>
<polygon points="372.90,150.95 372.90,64.0 374.00,61.3 374.70,58.6 375.40,61.3 377.20,62.0 377.20,150.95" fill="#1d76b8"/>
<polygon points="447.00,150.95 447.00,67.4 448.20,63.3 449.20,55.2 450.10,45.8 450.85,53.9 450.85,150.95" fill="#1d76b8"/>
</g>
<g clip-path="url(#c2)">
<polyline points="62.55,297.1 62.83,285.7 63.10,292.5 63.38,297.7 63.65,296.3 63.93,300.3 64.20,300.7 64.48,286.4 64.76,287.9 65.03,298.1 65.31,295.2 65.58,283.9 65.86,296.7 66.13,291.5 66.41,310.2 66.68,293.9 66.96,293.8 67.24,294.6 67.51,292.1 67.79,301.3 68.06,292.5 68.34,291.8 68.61,300.1 68.89,290.3 69.17,297.9 69.44,307.2 69.72,303.4 69.99,292.3 70.27,289.7 70.54,295.1 70.82,300.8 71.09,293.7 71.37,287.8 71.65,293.1 71.92,300.9 72.20,290.2 72.47,293.9 72.75,293.8 73.02,292.5 73.30,289.7 73.58,293.4 73.85,298.1 74.13,293.4 74.40,292.1 74.68,286.3 74.95,299.6 75.23,293.6 75.50,297.7 75.78,291.4 76.06,295.8 76.33,309.5 76.61,287.6 76.88,296.5 77.16,298.8 77.43,301.1 77.71,298.7 77.99,300.0 78.26,293.6 78.54,292.1 78.81,293.3 79.09,290.9 79.36,297.4 79.64,289.5 79.92,293.4 80.19,290.4 80.47,289.5 80.74,294.9 81.02,286.0 81.29,288.5 81.57,295.1 81.84,283.2 82.12,283.7 82.40,301.3 82.67,305.2 82.95,296.2 83.22,290.3 83.50,287.7 83.77,289.2 84.05,292.9 84.33,287.5 84.60,288.9 84.88,295.2 85.15,291.8 85.43,287.0 85.70,296.3 85.98,296.2 86.25,297.4 86.53,284.8 86.81,289.1 87.08,276.5 87.36,294.8 87.63,292.9 87.91,286.1 88.18,294.3 88.46,286.3 88.74,292.9 89.01,292.9 89.29,289.7 89.56,288.1 89.84,283.2 90.11,294.7 90.39,283.5 90.66,296.9 90.94,297.5 91.22,305.0 91.49,288.1 91.77,284.6 92.04,299.3 92.32,294.5 92.59,294.2 92.87,301.2 93.15,292.4 93.42,291.1 93.70,295.5 93.97,298.3 94.25,292.0 94.52,289.5 94.80,300.5 95.08,293.3 95.35,289.7 95.63,308.1 95.90,291.0 96.18,283.3 96.45,299.8 96.73,285.6 97.00,294.3 97.28,289.4 97.56,293.6 97.83,299.0 98.11,302.1 98.38,279.6 98.66,300.0 98.93,294.2 99.21,284.9 99.49,291.0 99.76,291.7 100.04,303.7 100.31,296.1 100.59,300.0 100.86,302.5 101.14,290.7 101.41,288.1 101.69,296.9 101.97,296.3 102.24,290.3 102.52,287.9 102.79,298.5 103.07,286.3 103.34,287.6 103.62,292.7 103.90,298.8 104.17,289.6 104.45,288.9 104.72,283.0 105.00,296.0 105.27,284.0 105.55,294.6 105.82,289.8 106.10,293.3 106.38,292.2 106.65,284.6 106.93,296.4 107.20,288.1 107.48,294.2 107.75,292.9 108.03,296.6 108.31,291.6 108.58,303.7 108.86,294.1 109.13,287.1 109.41,288.1 109.68,301.6 109.96,298.9 110.24,295.0 110.51,282.4 110.79,295.0 111.06,292.7 111.34,294.0 111.61,291.0 111.89,297.7 112.16,291.2 112.44,290.0 112.72,286.9 112.99,297.5 113.27,287.7 113.54,282.1 113.82,288.3 114.09,310.2 114.37,306.1 114.65,285.3 114.92,282.1 115.20,285.9 115.47,289.9 115.75,288.1 116.02,276.5 116.30,296.6 116.57,294.9 116.85,286.6 117.13,291.2 117.40,304.6 117.68,291.4 117.95,290.7 118.23,297.8 118.50,290.5 118.78,291.3 119.06,302.6 119.33,289.8 119.61,280.7 119.88,283.0 120.16,298.9 120.43,300.0 120.71,292.3 120.98,291.1 121.26,300.1 121.54,296.8 121.81,285.1 122.09,291.3 122.36,286.9 122.64,292.8 122.91,286.9 123.19,295.6 123.47,295.5 123.74,297.9 124.02,303.3 124.29,294.9 124.57,300.2 124.84,295.3 125.12,291.9 125.39,291.7 125.67,290.5 125.95,294.9 126.22,293.0 126.50,286.2 126.77,293.5 127.05,292.5 127.32,306.3 127.60,298.8 127.88,286.6 128.15,297.5 128.43,298.7 128.70,287.3 128.98,299.5 129.25,287.2 129.53,293.2 129.81,296.2 130.08,304.1 130.36,285.3 130.63,302.8 130.91,276.5 131.18,288.3 131.46,299.6 131.73,289.9 132.01,292.9 132.29,294.2 132.56,298.6 132.84,296.4 133.11,291.2 133.39,298.2 133.66,289.2 133.94,291.4 134.22,289.7 134.49,291.4 134.77,289.6 135.04,290.6 135.32,288.1 135.59,290.6 135.87,290.9 136.14,297.9 136.42,302.4 136.70,292.4 136.97,287.4 137.25,297.9 137.52,301.6 137.80,295.8 138.07,290.7 138.35,288.0 138.63,294.5 138.90,299.3 139.18,293.1 139.45,288.9 139.73,293.0 140.00,287.1 140.28,295.5 140.55,287.9 140.83,283.6 141.11,298.3 141.38,297.6 141.66,289.1 141.93,276.5 142.21,289.9 142.48,292.9 142.76,285.4 143.04,293.4 143.31,301.8 143.59,298.1 143.86,285.2 144.14,302.1 144.41,300.7 144.69,288.2 144.97,291.9 145.24,286.0 145.52,298.7 145.79,296.8 146.07,294.7 146.34,299.6 146.62,294.0 146.89,293.7 147.17,287.9 147.45,293.2 147.72,295.0 148.00,290.0 148.27,286.5 148.55,286.9 148.82,291.2 149.10,294.9 149.38,295.4 149.65,300.0 149.93,292.4 150.20,215.4 150.48,218.9 150.75,218.9 151.03,224.5 151.30,237.2 151.58,237.2 151.86,232.3 152.13,232.3 152.41,234.4 152.68,230.2 152.96,230.2 153.23,235.1 153.51,231.6 153.79,231.6 154.06,180.3 154.34,286.4 154.61,296.1 154.89,303.3 155.16,292.0 155.44,290.4 155.71,296.6 155.99,302.0 156.27,299.2 156.54,293.6 156.82,306.9 157.09,287.0 157.37,287.1 157.64,293.7 157.92,286.8 158.20,293.7 158.47,299.1 158.75,289.2 159.02,289.6 159.30,297.9 159.57,300.6 159.85,298.2 160.13,286.2 160.40,294.4 160.68,277.0 160.95,296.4 161.23,289.4 161.50,290.9 161.78,294.0 162.05,288.1 162.33,297.5 162.61,293.0 162.88,299.3 163.16,305.0 163.43,292.3 163.71,299.1 163.98,300.0 164.26,289.5 164.54,293.6 164.81,290.6 165.09,283.0 165.36,291.7 165.64,290.2 165.91,299.4 166.19,288.0 166.46,288.0 166.74,298.6 167.02,289.1 167.29,290.9 167.57,293.9 167.84,292.2 168.12,279.2 168.39,296.3 168.67,294.6 168.95,292.2 169.22,293.7 169.50,302.9 169.77,289.1 170.05,287.6 170.32,283.0 170.60,295.9 170.87,299.8 171.15,289.0 171.43,298.5 171.70,292.7 171.98,295.0 172.25,291.7 172.53,295.2 172.80,288.8 173.08,297.9 173.36,279.3 173.63,288.3 173.91,296.2 174.18,298.1 174.46,293.8 174.73,295.3 175.01,297.3 175.29,284.9 175.56,287.3 175.84,298.8 176.11,289.6 176.39,292.6 176.66,288.4 176.94,296.4 177.21,280.7 177.49,292.3 177.77,281.5 178.04,295.3 178.32,285.1 178.59,293.3 178.87,283.3 179.14,293.7 179.42,298.7 179.70,298.7 179.97,296.2 180.25,289.3 180.52,290.6 180.80,292.0 181.07,286.7 181.35,283.5 181.62,298.3 181.90,287.0 182.18,279.7 182.45,296.1 182.73,295.8 183.00,290.4 183.28,291.4 183.55,295.7 183.83,293.1 184.11,283.6 184.38,287.5 184.66,297.2 184.93,302.2 185.21,298.9 185.48,291.6 185.76,297.1 186.03,297.4 186.31,288.6 186.59,294.2 186.86,294.8 187.14,291.4 187.41,284.5 187.69,290.9 187.96,288.8 188.24,292.2 188.52,283.9 188.79,299.5 189.07,298.9 189.34,295.5 189.62,281.3 189.89,284.0 190.17,298.8 190.45,295.2 190.72,289.5 191.00,292.2 191.27,287.7 191.55,295.4 191.82,301.9 192.10,289.2 192.37,285.6 192.65,301.2 192.93,303.2 193.20,295.2 193.48,303.1 193.75,290.2 194.03,299.1 194.30,288.5 194.58,294.5 194.86,291.9 195.13,288.9 195.41,293.8 195.68,298.3 195.96,287.5 196.23,300.9 196.51,284.7 196.78,296.0 197.06,295.6 197.34,290.4 197.61,290.3 197.89,289.8 198.16,300.8 198.44,297.6 198.71,290.7 198.99,290.5 199.27,293.1 199.54,285.3 199.82,293.6 200.09,287.3 200.37,286.5 200.64,290.7 200.92,293.7 201.19,288.5 201.47,290.1 201.75,289.1 202.02,297.5 202.30,290.0 202.57,283.7 202.85,294.2 203.12,291.8 203.40,293.9 203.68,287.6 203.95,304.1 204.23,283.6 204.50,289.7 204.78,293.8 205.05,291.0 205.33,286.3 205.61,290.5 205.88,288.8 206.16,285.8 206.43,291.6 206.71,288.4 206.98,284.3 207.26,289.4 207.53,296.0 207.81,288.2 208.09,281.1 208.36,294.3 208.64,290.0 208.91,290.1 209.19,287.6 209.46,294.8 209.74,292.6 210.02,281.6 210.29,288.7 210.57,296.0 210.84,288.1 211.12,292.2 211.39,283.9 211.67,301.5 211.94,292.0 212.22,287.0 212.50,299.6 212.77,296.7 213.05,289.9 213.32,292.3 213.60,294.2 213.87,290.8 214.15,300.3 214.43,297.2 214.70,282.9 214.98,296.1 215.25,290.1 215.53,292.8 215.80,287.7 216.08,290.7 216.35,290.3 216.63,286.0 216.91,290.7 217.18,302.0 217.46,296.2 217.73,284.6 218.01,286.6 218.28,293.8 218.56,301.3 218.84,296.5 219.11,280.9 219.39,285.8 219.66,285.7 219.94,301.5 220.21,300.0 220.49,295.8 220.77,300.0 221.04,291.9 221.32,298.6 221.59,289.9 221.87,293.8 222.14,295.6 222.42,288.9 222.69,290.0 222.97,291.8 223.25,294.5 223.52,292.8 223.80,303.2 224.07,303.4 224.35,296.3 224.62,291.8 224.90,282.7 225.18,290.3 225.45,298.0 225.73,295.2 226.00,299.5 226.28,292.8 226.55,293.0 226.83,292.7 227.10,291.0 227.38,286.8 227.66,288.7 227.93,298.9 228.21,287.9 228.48,298.1 228.76,290.4 229.03,292.0 229.31,283.2 229.59,293.1 229.86,293.1 230.14,294.0 230.41,287.8 230.69,290.8 230.96,294.0 231.24,287.9 231.51,280.9 231.79,283.5 232.07,284.2 232.34,295.5 232.62,293.0 232.89,291.6 233.17,301.9 233.44,283.0 233.72,300.4 234.00,290.3 234.27,299.3 234.55,291.8 234.82,287.9 235.10,289.6 235.37,297.2 235.65,296.1 235.93,287.4 236.20,292.8 236.48,291.8 236.75,287.3 237.03,306.4 237.30,291.1 237.58,285.5 237.85,282.6 238.13,288.7 238.41,296.5 238.68,287.1 238.96,282.1 239.23,296.0 239.51,296.4 239.78,293.3 240.06,294.7 240.34,303.7 240.61,305.5 240.89,299.7 241.16,296.0 241.44,290.1 241.71,295.4 241.99,291.5 242.26,284.9 242.54,276.5 242.82,287.6 243.09,297.9 243.37,287.0 243.64,292.5 243.92,290.6 244.19,287.2 244.47,288.2 244.75,299.7 245.02,298.8 245.30,291.0 245.57,288.6 245.85,280.9 246.12,289.2 246.40,294.5 246.67,295.2 246.95,296.4 247.23,299.6 247.50,299.7 247.78,295.6 248.05,292.0 248.33,296.7 248.60,292.4 248.88,294.1 249.16,293.8 249.43,294.9 249.71,290.9 249.98,292.4 250.26,307.1 250.53,291.1 250.81,291.9 251.08,295.9 251.36,291.6 251.64,296.3 251.91,291.8 252.19,297.3 252.46,288.8 252.74,290.6 253.01,300.5 253.29,296.4 253.57,288.7 253.84,290.3 254.12,291.8 254.39,298.8 254.67,296.3 254.94,291.6 255.22,290.9 255.50,292.6 255.77,297.1 256.05,293.8 256.32,295.3 256.60,298.9 256.87,298.6 257.15,297.0 257.42,300.8 257.70,290.0 257.98,288.3 258.25,287.7 258.53,296.8 258.80,296.7 259.08,291.2 259.35,295.1 259.63,294.3 259.91,294.3 260.18,301.4 260.46,285.6 260.73,300.5 261.01,301.2 261.28,288.2 261.56,298.6 261.83,286.7 262.11,290.7 262.39,290.6 262.66,294.7 262.94,300.3 263.21,299.1 263.49,292.0 263.76,293.2 264.04,299.2 264.32,214.0 264.59,217.5 264.87,217.5 265.14,225.2 265.42,225.2 265.69,233.0 265.97,230.9 266.24,230.9 266.52,238.6 266.80,238.6 267.07,233.0 267.35,233.0 267.62,235.8 267.90,232.3 268.17,232.3 268.45,234.4 268.73,234.4 269.00,190.2 269.28,294.9 269.55,295.4 269.83,288.7 270.10,288.7 270.38,299.9 270.66,286.0 270.93,286.2 271.21,287.0 271.48,296.6 271.76,285.7 272.03,289.8 272.31,287.6 272.58,292.9 272.86,294.9 273.14,296.4 273.41,295.9 273.69,287.7 273.96,296.8 274.24,296.0 274.51,290.8 274.79,294.0 275.07,303.8 275.34,296.2 275.62,294.6 275.89,283.8 276.17,289.0 276.44,298.0 276.72,298.6 276.99,295.1 277.27,291.4 277.55,296.8 277.82,290.2 278.10,300.2 278.37,290.8 278.65,286.1 278.92,307.1 279.20,292.8 279.48,291.2 279.75,290.2 280.03,292.1 280.30,293.0 280.58,291.1 280.85,292.0 281.13,292.1 281.40,284.0 281.68,287.0 281.96,287.6 282.23,296.0 282.51,202.1 282.78,211.9 283.06,211.9 283.33,223.8 283.61,230.2 283.89,230.2 284.16,233.0 284.44,233.0 284.71,239.3 284.99,231.6 285.26,231.6 285.54,235.1 285.82,233.0 286.09,233.0 286.37,182.0 286.64,289.6 286.92,290.4 287.19,294.2 287.47,289.4 287.74,278.4 288.02,290.2 288.30,301.7 288.57,291.4 288.85,282.2 289.12,286.1 289.40,295.4 289.67,290.7 289.95,300.6 290.23,289.1 290.50,297.4 290.78,295.5 291.05,295.7 291.33,296.5 291.60,283.4 291.88,284.6 292.15,294.2 292.43,292.1 292.71,283.5 292.98,294.2 293.26,295.0 293.53,297.2 293.81,284.1 294.08,291.7 294.36,292.6 294.64,294.9 294.91,297.6 295.19,287.4 295.46,296.8 295.74,295.4 296.01,301.7 296.29,298.6 296.56,295.4 296.84,295.3 297.12,300.9 297.39,296.0 297.67,293.4 297.94,306.9 298.22,289.5 298.49,294.2 298.77,300.0 299.05,294.1 299.32,290.3 299.60,292.7 299.87,292.4 300.15,292.6 300.42,289.1 300.70,300.1 300.98,295.9 301.25,290.6 301.53,292.5 301.80,298.5 302.08,294.2 302.35,296.5 302.63,292.6 302.90,301.7 303.18,301.5 303.46,300.5 303.73,293.4 304.01,279.3 304.28,287.4 304.56,286.1 304.83,292.6 305.11,284.1 305.39,290.8 305.66,292.3 305.94,286.8 306.21,299.3 306.49,304.6 306.76,299.2 307.04,285.1 307.31,287.8 307.59,291.7 307.87,294.0 308.14,293.7 308.42,290.6 308.69,297.4 308.97,288.5 309.24,298.0 309.52,285.4 309.80,294.6 310.07,297.7 310.35,294.3 310.62,297.8 310.90,293.5 311.17,302.6 311.45,295.4 311.72,292.3 312.00,290.6 312.28,294.9 312.55,286.2 312.83,301.9 313.10,293.9 313.38,295.4 313.65,292.8 313.93,294.2 314.21,285.2 314.48,292.8 314.76,297.8 315.03,279.2 315.31,292.5 315.58,293.6 315.86,287.9 316.14,296.0 316.41,294.0 316.69,288.1 316.96,299.2 317.24,295.2 317.51,287.6 317.79,283.0 318.06,293.2 318.34,293.3 318.62,286.8 318.89,300.8 319.17,296.6 319.44,297.1 319.72,304.0 319.99,308.6 320.27,295.0 320.55,287.8 320.82,289.1 321.10,285.9 321.37,307.7 321.65,293.6 321.92,285.5 322.20,297.5 322.47,299.9 322.75,290.9 323.03,292.7 323.30,289.3 323.58,292.8 323.85,286.0 324.13,289.0 324.40,291.4 324.68,294.8 324.96,288.9 325.23,296.4 325.51,287.5 325.78,286.5 326.06,287.6 326.33,299.7 326.61,290.3 326.88,290.7 327.16,288.0 327.44,301.3 327.71,296.0 327.99,293.2 328.26,285.1 328.54,296.0 328.81,287.8 329.09,291.9 329.37,282.1 329.64,290.9 329.92,301.5 330.19,294.2 330.47,291.3 330.74,285.8 331.02,289.1 331.30,294.3 331.57,299.7 331.85,292.5 332.12,293.4 332.40,285.4 332.67,287.6 332.95,300.4 333.22,305.4 333.50,295.0 333.78,291.2 334.05,298.0 334.33,295.5 334.60,286.2 334.88,288.7 335.15,302.2 335.43,290.8 335.71,291.8 335.98,293.8 336.26,289.6 336.53,289.5 336.81,279.0 337.08,291.4 337.36,296.7 337.63,295.4 337.91,288.7 338.19,282.1 338.46,289.3 338.74,289.7 339.01,291.2 339.29,295.1 339.56,292.3 339.84,299.3 340.12,288.6 340.39,290.1 340.67,291.7 340.94,297.4 341.22,294.1 341.49,295.8 341.77,291.0 342.04,294.2 342.32,290.7 342.60,287.5 342.87,285.7 343.15,298.3 343.42,294.5 343.70,298.7 343.97,285.8 344.25,297.3 344.53,285.2 344.80,295.4 345.08,287.0 345.35,295.6 345.63,293.9 345.90,292.0 346.18,292.1 346.46,293.4 346.73,289.0 347.01,286.1 347.28,287.9 347.56,295.3 347.83,302.8 348.11,292.0 348.38,308.2 348.66,288.9 348.94,289.2 349.21,299.3 349.49,289.4 349.76,296.3 350.04,285.7 350.31,296.8 350.59,297.2 350.87,296.2 351.14,291.3 351.42,298.3 351.69,280.2 351.97,294.7 352.24,283.0 352.52,294.2 352.79,294.4 353.07,296.5 353.35,296.8 353.62,290.2 353.90,286.0 354.17,292.0 354.45,297.5 354.72,291.5 355.00,297.0 355.28,307.4 355.55,291.9 355.83,302.2 356.10,296.1 356.38,292.3 356.65,294.8 356.93,294.1 357.20,284.1 357.48,287.4 357.76,284.3 358.03,291.5 358.31,291.4 358.58,282.9 358.86,296.1 359.13,290.8 359.41,291.9 359.69,291.0 359.96,289.3 360.24,292.0 360.51,288.2 360.79,297.3 361.06,289.9 361.34,298.3 361.61,286.7 361.89,287.3 362.17,293.8 362.44,295.4 362.72,292.8 362.99,289.6 363.27,300.9 363.54,298.2 363.82,287.5 364.10,293.8 364.37,299.7 364.65,304.8 364.92,295.1 365.20,302.3 365.47,292.0 365.75,293.1 366.03,282.6 366.30,299.6 366.58,289.2 366.85,299.3 367.13,298.4 367.40,293.9 367.68,297.4 367.95,282.8 368.23,293.0 368.51,296.9 368.78,280.1 369.06,297.1 369.33,294.8 369.61,293.9 369.88,297.0 370.16,289.5 370.44,286.3 370.71,299.8 370.99,295.5 371.26,294.9 371.54,300.5 371.81,300.0 372.09,294.9 372.36,297.8 372.64,215.7 372.92,219.6 373.19,219.6 373.47,224.5 373.74,231.6 374.02,231.6 374.29,237.2 374.57,232.3 374.85,232.3 375.12,234.4 375.40,230.2 375.67,230.2 375.95,227.4 376.22,223.4 376.50,223.4 376.77,228.8 377.05,290.8 377.33,289.0 377.60,295.5 377.88,284.9 378.15,290.3 378.43,287.6 378.70,296.4 378.98,294.6 379.26,286.0 379.53,293.0 379.81,292.8 380.08,284.8 380.36,286.6 380.63,291.7 380.91,282.6 381.19,300.9 381.46,293.2 381.74,295.9 382.01,284.9 382.29,284.3 382.56,295.5 382.84,292.1 383.11,287.8 383.39,290.0 383.67,291.4 383.94,287.5 384.22,282.4 384.49,292.2 384.77,298.8 385.04,293.4 385.32,293.0 385.60,294.9 385.87,289.1 386.15,288.9 386.42,287.9 386.70,290.3 386.97,291.4 387.25,298.3 387.52,294.7 387.80,297.4 388.08,291.1 388.35,293.5 388.63,293.0 388.90,290.0 389.18,294.4 389.45,287.1 389.73,287.2 390.01,297.9 390.28,285.8 390.56,294.6 390.83,296.7 391.11,294.5 391.38,299.6 391.66,291.0 391.93,286.4 392.21,300.9 392.49,290.5 392.76,289.7 393.04,289.3 393.31,289.4 393.59,290.5 393.86,295.3 394.14,288.0 394.42,291.0 394.69,288.6 394.97,291.1 395.24,294.2 395.52,293.1 395.79,289.6 396.07,287.3 396.35,303.0 396.62,299.7 396.90,301.5 397.17,295.7 397.45,296.4 397.72,291.8 398.00,294.4 398.27,285.7 398.55,296.1 398.83,296.6 399.10,297.2 399.38,294.4 399.65,292.0 399.93,295.4 400.20,297.8 400.48,300.1 400.76,291.9 401.03,295.8 401.31,298.1 401.58,294.3 401.86,291.1 402.13,281.9 402.41,284.2 402.68,297.6 402.96,295.3 403.24,303.3 403.51,303.3 403.79,302.7 404.06,288.0 404.34,293.7 404.61,300.7 404.89,296.5 405.17,295.6 405.44,296.4 405.72,285.1 405.99,303.2 406.27,295.3 406.54,291.6 406.82,290.3 407.09,304.5 407.37,291.9 407.65,299.6 407.92,296.0 408.20,301.4 408.47,288.8 408.75,276.5 409.02,287.5 409.30,294.5 409.58,302.3 409.85,288.2 410.13,286.5 410.40,298.8 410.68,287.8 410.95,302.5 411.23,299.7 411.51,292.1 411.78,300.3 412.06,288.8 412.33,285.2 412.61,292.5 412.88,290.2 413.16,284.3 413.43,290.1 413.71,285.8 413.99,285.1 414.26,298.4 414.54,281.1 414.81,286.5 415.09,291.9 415.36,288.3 415.64,291.0 415.92,291.5 416.19,298.1 416.47,294.9 416.74,294.5 417.02,286.9 417.29,290.1 417.57,290.5 417.84,293.3 418.12,285.9 418.40,305.8 418.67,297.5 418.95,287.6 419.22,294.9 419.50,289.2 419.77,284.2 420.05,288.4 420.33,300.5 420.60,293.9 420.88,298.8 421.15,290.1 421.43,287.1 421.70,293.9 421.98,289.9 422.25,293.7 422.53,282.4 422.81,291.9 423.08,291.4 423.36,289.6 423.63,287.0 423.91,288.9 424.18,292.8 424.46,292.3 424.74,289.9 425.01,289.5 425.29,294.6 425.56,295.7 425.84,293.9 426.11,290.2 426.39,295.0 426.67,298.4 426.94,294.4 427.22,295.2 427.49,289.4 427.77,295.4 428.04,294.8 428.32,282.6 428.59,290.2 428.87,297.5 429.15,286.2 429.42,294.6 429.70,296.9 429.97,289.2 430.25,300.1 430.52,293.0 430.80,289.6 431.08,288.6 431.35,295.4 431.63,295.3 431.90,293.1 432.18,286.1 432.45,302.2 432.73,288.2 433.00,291.0 433.28,285.3 433.56,298.6 433.83,286.5 434.11,297.2 434.38,291.0 434.66,294.7 434.93,305.7 435.21,292.9 435.49,290.5 435.76,288.0 436.04,295.9 436.31,298.8 436.59,288.8 436.86,294.5 437.14,287.0 437.41,285.0 437.69,293.8 437.97,293.5 438.24,296.4 438.52,303.4 438.79,292.6 439.07,288.7 439.34,286.9 439.62,292.7 439.90,282.7 440.17,295.4 440.45,292.7 440.72,295.5 441.00,311.6 441.27,294.0 441.55,296.2 441.83,294.8 442.10,291.0 442.38,292.0 442.65,298.1 442.93,289.8 443.20,296.9 443.48,290.1 443.75,292.2 444.03,302.8 444.31,298.1 444.58,287.5 444.86,296.0 445.13,296.0 445.41,294.9 445.68,291.9 445.96,289.5 446.24,294.1 446.51,283.5 446.79,295.6 447.06,208.8 447.34,217.5 447.61,217.5 447.89,225.9 448.16,233.0 448.44,233.0 448.72,237.9 448.99,233.0 449.27,233.0 449.54,235.1 449.82,235.1 450.09,193.9 450.37,211.9 450.65,289.7 450.92,288.9 451.20,279.2 451.47,297.4 451.75,288.8 452.02,289.0 452.30,297.6 452.57,291.1 452.85,297.1 453.13,298.8 453.40,300.6 453.68,293.7 453.95,298.2 454.23,303.7 454.50,291.0 454.78,301.8 455.06,288.8 455.33,291.3 455.61,297.0 455.88,301.1 456.16,297.5 456.43,299.8 456.71,294.6 456.99,294.6 457.26,279.3 457.54,303.9 457.81,295.8 458.09,289.6 458.36,287.0 458.64,285.3 458.91,297.9 459.19,288.2 459.47,308.2 459.74,293.8 460.02,288.0 460.29,288.7 460.57,300.2 460.84,297.1 461.12,304.3 461.40,296.7 461.67,300.1 461.95,291.1 462.22,296.7 462.50,289.4 462.77,293.2 463.05,294.4 463.32,283.0 463.60,286.3 463.88,299.8 464.15,285.1 464.43,288.5 464.70,285.4 464.98,290.2 465.25,302.4 465.53,294.7 465.81,305.9 466.08,300.3 466.36,296.4 466.63,285.7 466.91,292.4 467.18,291.4 467.46,288.6 467.73,297.6 468.01,286.6 468.29,291.4 468.56,297.9 468.84,295.8 469.11,294.0 469.39,289.3 469.66,284.9 469.94,294.3 470.22,293.9 470.49,282.8 470.77,276.5 471.04,282.8 471.32,291.6 471.59,294.6 471.87,288.9 472.15,291.0 472.42,280.0 472.70,285.2 472.97,278.7 473.25,297.3 473.52,297.0 473.80,295.4 474.07,299.6 474.35,288.2 474.63,300.5 474.90,289.0 475.18,290.5 475.45,288.5 475.73,300.8 476.00,291.8 476.28,291.1 476.56,287.8 476.83,290.6 477.11,295.8 477.38,286.4 477.66,285.0 477.93,285.2 478.21,296.7 478.48,289.7 478.76,297.7 479.04,293.6 479.31,288.5 479.59,300.5 479.86,277.3 480.14,285.9 480.41,296.9 480.69,295.8 480.97,293.1 481.24,293.4 481.52,299.3 481.79,293.4 482.07,301.2 482.34,296.0 482.62,282.7 482.89,293.0 483.17,294.8 483.45,284.0 483.72,290.9 484.00,289.2 484.27,295.8 484.55,286.6 484.82,294.5 485.10,287.8 485.38,289.1 485.65,283.1 485.93,287.1 486.20,292.7 486.48,298.5 486.75,294.3 487.03,296.5 487.30,284.2 487.58,295.1 487.86,305.3 488.13,290.5 488.41,288.1 488.68,297.7 488.96,288.7 489.23,300.0 489.51,291.3 489.79,293.5 490.06,290.9 490.34,290.3 490.61,296.4 490.89,288.2 491.16,295.4 491.44,292.0 491.72,284.7 491.99,297.8 492.27,292.2 492.54,283.7 492.82,285.6 493.09,296.4 493.37,296.1 493.64,289.6 493.92,296.3 494.20,292.2 494.47,300.2 494.75,289.1 495.02,301.6 495.30,291.9 495.57,288.7 495.85,296.4 496.13,301.4 496.40,299.7 496.68,303.3 496.95,282.7 497.23,303.4 497.50,299.8 497.78,290.8 498.05,292.4 498.33,286.9 498.61,285.3 498.88,290.1 499.16,293.0 499.43,295.8 499.71,293.7 499.98,287.4 500.26,289.2 500.54,289.1 500.81,302.0 501.09,296.9 501.36,296.5 501.64,295.7 501.91,298.6 502.19,288.8 502.46,286.7 502.74,282.5 503.02,295.6 503.29,293.2 503.57,292.1 503.84,292.7 504.12,297.3 504.39,288.2 504.67,304.0 504.95,295.3 505.22,303.3 505.50,289.1 505.77,300.4 506.05,299.1 506.32,292.7 506.60,298.5 506.88,291.2 507.15,294.8 507.43,281.6 507.70,299.5 507.98,297.2 508.25,289.4 508.53,292.0 508.80,290.1 509.08,294.3 509.36,287.3 509.63,290.7 509.91,285.2 510.18,300.2 510.46,291.2 510.73,293.9 511.01,290.4 511.29,297.9 511.56,288.1 511.84,300.1 512.11,287.6 512.39,289.5 512.66,302.7 512.94,290.4 513.21,303.5 513.49,289.5 513.77,301.6 514.04,293.0 514.32,294.1 514.59,301.8 514.87,303.0 515.14,289.8 515.42,295.3 515.70,286.5 515.97,292.9 516.25,277.1 516.52,291.6 516.80,282.7 517.07,290.6 517.35,292.1 517.62,289.6 517.90,296.8 518.18,296.2 518.45,283.3 518.73,293.7 519.00,299.0 519.28,289.7 519.55,297.3 519.83,292.1 520.11,286.2 520.38,285.3 520.66,282.3 520.93,285.9 521.21,288.8 521.48,289.4 521.76,290.8 522.04,292.7 522.31,279.7 522.59,292.9 522.86,283.0 523.14,293.1 523.41,285.6 523.69,308.4 523.96,291.6 524.24,295.9 524.52,283.5 524.79,283.9 525.07,295.9 525.34,292.8 525.62,287.1 525.89,290.6 526.17,291.8 526.45,286.8 526.72,299.7 527.00,283.2 527.27,289.7 527.55,308.5 527.82,297.4 528.10,292.7 528.37,279.4 528.65,292.2 528.93,300.7 529.20,284.5 529.48,289.9 529.75,292.2 530.03,286.2 530.30,294.3 530.58,292.7 530.86,286.4 531.13,289.6 531.41,286.6 531.68,294.1 531.96,282.5 532.23,300.0 532.51,299.8 532.78,289.2 533.06,293.7 533.34,290.8 533.61,291.8 533.89,292.8 534.16,297.9 534.44,290.2 534.71,284.6 534.99,296.7" fill="none" stroke="#27a044" stroke-width="1.1" stroke-linejoin="round"/>
</g>
<rect x="62.55" y="6.5" width="472.95" height="144.45" fill="none" stroke="#333" stroke-width="1.15"/>
<rect x="62.55" y="174.0" width="472.95" height="144.30" fill="none" stroke="#333" stroke-width="1.15"/>
<path d="M62.55 150.95v3.2 M62.55 318.3v3.2 M141.29 150.95v3.2 M141.29 318.3v3.2 M220.03 150.95v3.2 M220.03 318.3v3.2 M298.77 150.95v3.2 M298.77 318.3v3.2 M377.51 150.95v3.2 M377.51 318.3v3.2 M456.25 150.95v3.2 M456.25 318.3v3.2 M534.99 150.95v3.2 M534.99 318.3v3.2 M62.55 150.95h-3.2 M62.55 116.56h-3.2 M62.55 82.16h-3.2 M62.55 47.77h-3.2 M62.55 13.38h-3.2 M62.55 190.86h-3.2 M62.55 225.95h-3.2 M62.55 261.03h-3.2 M62.55 296.12h-3.2" stroke="#333" stroke-width="1" fill="none"/>
<g font-size="13.5px">
<text transform="translate(62.75 334.5) scale(1 1.045)" text-anchor="middle">0</text>
<text transform="translate(141.49 334.5) scale(1 1.045)" text-anchor="middle">20</text>
<text transform="translate(220.23 334.5) scale(1 1.045)" text-anchor="middle">40</text>
<text transform="translate(298.97 334.5) scale(1 1.045)" text-anchor="middle">60</text>
<text transform="translate(377.71 334.5) scale(1 1.045)" text-anchor="middle">80</text>
<text transform="translate(456.45 334.5) scale(1 1.045)" text-anchor="middle">100</text>
<text transform="translate(535.19 334.5) scale(1 1.045)" text-anchor="middle">120</text>
<text transform="translate(56.1 156.2) scale(1 1.045)" text-anchor="end">0.00</text>
<text transform="translate(56.1 121.9) scale(1 1.045)" text-anchor="end">0.25</text>
<text transform="translate(56.1 87.5) scale(1 1.045)" text-anchor="end">0.50</text>
<text transform="translate(56.1 53.1) scale(1 1.045)" text-anchor="end">0.75</text>
<text transform="translate(56.1 18.7) scale(1 1.045)" text-anchor="end">1.00</text>
<text transform="translate(56.1 196.2) scale(1 1.045)" text-anchor="end">5</text>
<text transform="translate(56.1 231.2) scale(1 1.045)" text-anchor="end">0</text>
<text transform="translate(56.1 266.3) scale(1 1.045)" text-anchor="end"><tspan dy="1.1" stroke-width="0.55">−</tspan><tspan dy="-1.1">5</tspan></text>
<text transform="translate(56.1 301.4) scale(1 1.045)" text-anchor="end"><tspan dy="1.1" stroke-width="0.55">−</tspan><tspan dy="-1.1">10</tspan></text>
</g>
<text font-size="13.7px" transform="translate(299.1 350.6) scale(1 1.045)" text-anchor="middle">Time [s]</text>
<text font-size="13.7px" transform="translate(18.2 79.0) rotate(-90) scale(1 1.045)" text-anchor="middle">Normalized power</text>
<text font-size="13.7px" transform="translate(18.2 246.5) rotate(-90) scale(1 1.045)" text-anchor="middle">Estimated SNR [dB]</text>
<rect x="421" y="13.3" width="107.4" height="24.8" rx="2.6" fill="#fff" fill-opacity="0.8" stroke="#ccc" stroke-width="1"/>
<rect x="426.1" y="19.3" width="29" height="10.4" fill="#f7781a" fill-opacity="0.62"/>
<text font-size="13.75px" transform="translate(465.4 29.3) scale(1 1.045)">Detection</text>
</svg></body></html>
